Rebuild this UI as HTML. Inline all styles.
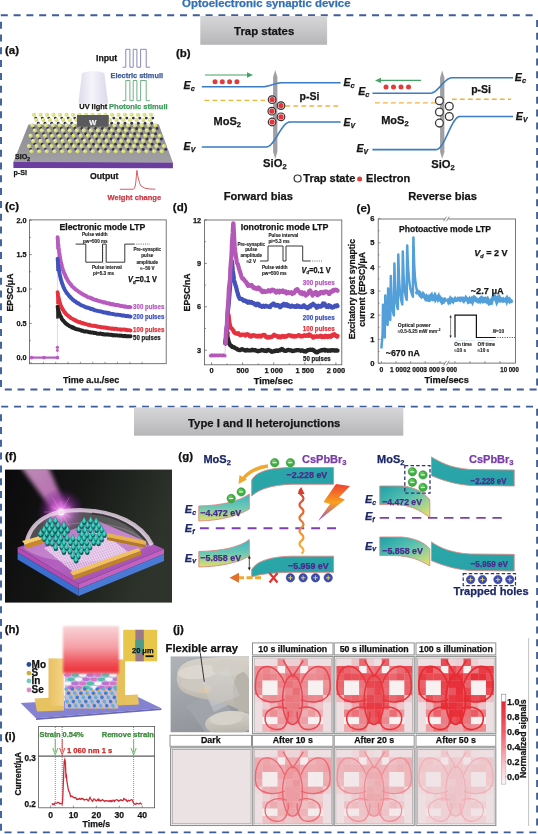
<!DOCTYPE html>
<html><head><meta charset="utf-8"><style>
html,body{margin:0;padding:0;background:#fff;width:538px;height:834px;overflow:hidden}
svg{display:block;font-family:'Liberation Sans', Arial, Helvetica, sans-serif}
</style></head><body>
<svg width="538" height="834" viewBox="0 0 538 834">
<g stroke="#3e5d9b" stroke-width="1.9" fill="none" stroke-dasharray="7.0 5.8">
<line x1="0.8" y1="15.3" x2="538" y2="15.3"/>
<line x1="1" y1="21.7" x2="1" y2="389"/>
<line x1="4.8" y1="389.5" x2="538" y2="389.5"/>
<line x1="537.1" y1="20" x2="537.1" y2="389"/>
<line x1="1.2" y1="406.6" x2="534" y2="406.6"/>
<line x1="1" y1="414.2" x2="1" y2="831"/>
<line x1="4.5" y1="832.4" x2="538" y2="832.4"/>
<line x1="537.1" y1="408.8" x2="537.1" y2="831"/>
</g>
<text x="266.3" y="7.3" font-size="11.4" fill="#3470b2" text-anchor="middle" font-weight="bold" font-style="normal" stroke="#3470b2" stroke-width="0.25" >Optoelectronic synaptic device</text>
<defs><linearGradient id="gh" x1="0" y1="0" x2="0" y2="1"><stop offset="0" stop-color="#d7d7d9"/><stop offset="1" stop-color="#b6b6b8"/></linearGradient></defs>
<rect x="200.3" y="16" width="126.8" height="28.8" fill="url(#gh)" stroke="none" stroke-width="1" />
<text x="264.2" y="34.8" font-size="11.4" fill="#151515" text-anchor="middle" font-weight="bold" font-style="normal" stroke="#151515" stroke-width="0.25" >Trap states</text>
<rect x="134" y="407.4" width="269.3" height="28.3" fill="url(#gh)" stroke="none" stroke-width="1" />
<text x="264.2" y="427.4" font-size="11.3" fill="#151515" text-anchor="middle" font-weight="bold" font-style="normal" stroke="#151515" stroke-width="0.25" >Type I and II heterojunctions</text>
<text x="5" y="54.2" font-size="11.5" fill="#111" text-anchor="start" font-weight="bold" font-style="normal" stroke="#111" stroke-width="0.25" >(a)</text>
<defs><linearGradient id="lamp" x1="0" y1="0" x2="1" y2="0"><stop offset="0" stop-color="#dedbeb"/><stop offset="0.45" stop-color="#f5f4fa"/><stop offset="1" stop-color="#dcd8ea"/></linearGradient><linearGradient id="slabtop" x1="0" y1="0" x2="0" y2="1"><stop offset="0" stop-color="#8c8c90"/><stop offset="1" stop-color="#a0a0a4"/></linearGradient></defs>
<path d="M82,73 Q93,69 104.4,73 L108,103.5 Q93,106 78.4,103.5 Z" stroke="none" stroke-width="1" fill="url(#lamp)" />
<path d="M122.6,67.2 L125.8,67.2 L125.8,49.3 L129.9,49.3 L129.9,67.2 L133.2,67.2 L133.2,49.3 L136.9,49.3 L136.9,67.2 L140.6,67.2 L140.6,49.3 L146.2,49.3 L146.2,67.2 L150,67.2" stroke="#7b79b2" stroke-width="0.9" fill="none" />
<path d="M122.6,100.7 L125.8,100.7 L125.8,80.5 L129.9,80.5 L129.9,100.7 L133.2,100.7 L133.2,80.5 L136.9,80.5 L136.9,100.7 L140.6,100.7 L140.6,80.5 L146.2,80.5 L146.2,100.7 L150,100.7" stroke="#62a677" stroke-width="0.9" fill="none" />
<text x="96" y="60.8" font-size="8.7" fill="#151515" text-anchor="start" font-weight="bold" font-style="normal" stroke="#151515" stroke-width="0.25" >Input</text>
<text x="110.5" y="77.6" font-size="7.4" fill="#3f5c96" text-anchor="start" font-weight="bold" font-style="normal" textLength="52.5" lengthAdjust="spacingAndGlyphs" stroke="#3f5c96" stroke-width="0.25" >Electric stimuli</text>
<text x="79.3" y="108.9" font-size="7.4" fill="#151515" text-anchor="start" font-weight="bold" font-style="normal" textLength="27.9" lengthAdjust="spacingAndGlyphs" stroke="#151515" stroke-width="0.25" >UV light</text>
<text x="109" y="108.9" font-size="7.4" fill="#3e9a5e" text-anchor="start" font-weight="bold" font-style="normal" textLength="58.6" lengthAdjust="spacingAndGlyphs" stroke="#3e9a5e" stroke-width="0.25" >Photonic stimuli</text>
<path d="M13.4,161.8 L172.9,162.2 L172.9,168.2 L13.4,167.9 Z" stroke="none" stroke-width="1" fill="#6b3d9e" />
<path d="M28.5,124.5 L158.7,124.3 L172.9,162.4 L13.4,162.0 Z" stroke="none" stroke-width="1" fill="url(#slabtop)" />
<circle cx="35.8" cy="118.1" r="1.45" fill="#34344e" stroke="none" stroke-width="1" />
<circle cx="42.3" cy="118.1" r="1.45" fill="#34344e" stroke="none" stroke-width="1" />
<circle cx="48.8" cy="118.1" r="1.45" fill="#34344e" stroke="none" stroke-width="1" />
<circle cx="55.3" cy="118.1" r="1.45" fill="#34344e" stroke="none" stroke-width="1" />
<circle cx="61.8" cy="118.1" r="1.45" fill="#34344e" stroke="none" stroke-width="1" />
<circle cx="68.3" cy="118.1" r="1.45" fill="#34344e" stroke="none" stroke-width="1" />
<circle cx="74.8" cy="118.1" r="1.45" fill="#34344e" stroke="none" stroke-width="1" />
<circle cx="81.3" cy="118.1" r="1.45" fill="#34344e" stroke="none" stroke-width="1" />
<circle cx="87.8" cy="118.1" r="1.45" fill="#34344e" stroke="none" stroke-width="1" />
<circle cx="94.3" cy="118.1" r="1.45" fill="#34344e" stroke="none" stroke-width="1" />
<circle cx="100.8" cy="118.1" r="1.45" fill="#34344e" stroke="none" stroke-width="1" />
<circle cx="107.3" cy="118.1" r="1.45" fill="#34344e" stroke="none" stroke-width="1" />
<circle cx="113.8" cy="118.1" r="1.45" fill="#34344e" stroke="none" stroke-width="1" />
<circle cx="120.3" cy="118.1" r="1.45" fill="#34344e" stroke="none" stroke-width="1" />
<circle cx="126.8" cy="118.1" r="1.45" fill="#34344e" stroke="none" stroke-width="1" />
<circle cx="133.3" cy="118.1" r="1.45" fill="#34344e" stroke="none" stroke-width="1" />
<circle cx="139.8" cy="118.1" r="1.45" fill="#34344e" stroke="none" stroke-width="1" />
<circle cx="146.3" cy="118.1" r="1.45" fill="#34344e" stroke="none" stroke-width="1" />
<circle cx="152.8" cy="118.1" r="1.45" fill="#34344e" stroke="none" stroke-width="1" />
<circle cx="34.0" cy="114.8" r="2.05" fill="#d6da74" stroke="none" stroke-width="1" />
<circle cx="33.5" cy="114.3" r="0.9" fill="#eef0b0" stroke="none" stroke-width="1" />
<circle cx="40.5" cy="114.8" r="2.05" fill="#d6da74" stroke="none" stroke-width="1" />
<circle cx="40.0" cy="114.3" r="0.9" fill="#eef0b0" stroke="none" stroke-width="1" />
<circle cx="47.0" cy="114.8" r="2.05" fill="#d6da74" stroke="none" stroke-width="1" />
<circle cx="46.5" cy="114.3" r="0.9" fill="#eef0b0" stroke="none" stroke-width="1" />
<circle cx="53.5" cy="114.8" r="2.05" fill="#d6da74" stroke="none" stroke-width="1" />
<circle cx="53.0" cy="114.3" r="0.9" fill="#eef0b0" stroke="none" stroke-width="1" />
<circle cx="60.0" cy="114.8" r="2.05" fill="#d6da74" stroke="none" stroke-width="1" />
<circle cx="59.5" cy="114.3" r="0.9" fill="#eef0b0" stroke="none" stroke-width="1" />
<circle cx="66.5" cy="114.8" r="2.05" fill="#d6da74" stroke="none" stroke-width="1" />
<circle cx="66.0" cy="114.3" r="0.9" fill="#eef0b0" stroke="none" stroke-width="1" />
<circle cx="73.0" cy="114.8" r="2.05" fill="#d6da74" stroke="none" stroke-width="1" />
<circle cx="72.5" cy="114.3" r="0.9" fill="#eef0b0" stroke="none" stroke-width="1" />
<circle cx="79.5" cy="114.8" r="2.05" fill="#d6da74" stroke="none" stroke-width="1" />
<circle cx="79.0" cy="114.3" r="0.9" fill="#eef0b0" stroke="none" stroke-width="1" />
<circle cx="86.0" cy="114.8" r="2.05" fill="#d6da74" stroke="none" stroke-width="1" />
<circle cx="85.5" cy="114.3" r="0.9" fill="#eef0b0" stroke="none" stroke-width="1" />
<circle cx="92.5" cy="114.8" r="2.05" fill="#d6da74" stroke="none" stroke-width="1" />
<circle cx="92.0" cy="114.3" r="0.9" fill="#eef0b0" stroke="none" stroke-width="1" />
<circle cx="99.0" cy="114.8" r="2.05" fill="#d6da74" stroke="none" stroke-width="1" />
<circle cx="98.5" cy="114.3" r="0.9" fill="#eef0b0" stroke="none" stroke-width="1" />
<circle cx="105.5" cy="114.8" r="2.05" fill="#d6da74" stroke="none" stroke-width="1" />
<circle cx="105.0" cy="114.3" r="0.9" fill="#eef0b0" stroke="none" stroke-width="1" />
<circle cx="112.0" cy="114.8" r="2.05" fill="#d6da74" stroke="none" stroke-width="1" />
<circle cx="111.5" cy="114.3" r="0.9" fill="#eef0b0" stroke="none" stroke-width="1" />
<circle cx="118.5" cy="114.8" r="2.05" fill="#d6da74" stroke="none" stroke-width="1" />
<circle cx="118.0" cy="114.3" r="0.9" fill="#eef0b0" stroke="none" stroke-width="1" />
<circle cx="125.0" cy="114.8" r="2.05" fill="#d6da74" stroke="none" stroke-width="1" />
<circle cx="124.5" cy="114.3" r="0.9" fill="#eef0b0" stroke="none" stroke-width="1" />
<circle cx="131.5" cy="114.8" r="2.05" fill="#d6da74" stroke="none" stroke-width="1" />
<circle cx="131.0" cy="114.3" r="0.9" fill="#eef0b0" stroke="none" stroke-width="1" />
<circle cx="138.0" cy="114.8" r="2.05" fill="#d6da74" stroke="none" stroke-width="1" />
<circle cx="137.5" cy="114.3" r="0.9" fill="#eef0b0" stroke="none" stroke-width="1" />
<circle cx="144.5" cy="114.8" r="2.05" fill="#d6da74" stroke="none" stroke-width="1" />
<circle cx="144.0" cy="114.3" r="0.9" fill="#eef0b0" stroke="none" stroke-width="1" />
<circle cx="151.0" cy="114.8" r="2.05" fill="#d6da74" stroke="none" stroke-width="1" />
<circle cx="150.5" cy="114.3" r="0.9" fill="#eef0b0" stroke="none" stroke-width="1" />
<circle cx="38.3" cy="123.3" r="1.45" fill="#34344e" stroke="none" stroke-width="1" />
<circle cx="45.0" cy="123.3" r="1.45" fill="#34344e" stroke="none" stroke-width="1" />
<circle cx="51.7" cy="123.3" r="1.45" fill="#34344e" stroke="none" stroke-width="1" />
<circle cx="58.3" cy="123.3" r="1.45" fill="#34344e" stroke="none" stroke-width="1" />
<circle cx="65.0" cy="123.3" r="1.45" fill="#34344e" stroke="none" stroke-width="1" />
<circle cx="71.7" cy="123.3" r="1.45" fill="#34344e" stroke="none" stroke-width="1" />
<circle cx="78.3" cy="123.3" r="1.45" fill="#34344e" stroke="none" stroke-width="1" />
<circle cx="85.0" cy="123.3" r="1.45" fill="#34344e" stroke="none" stroke-width="1" />
<circle cx="91.7" cy="123.3" r="1.45" fill="#34344e" stroke="none" stroke-width="1" />
<circle cx="98.3" cy="123.3" r="1.45" fill="#34344e" stroke="none" stroke-width="1" />
<circle cx="105.0" cy="123.3" r="1.45" fill="#34344e" stroke="none" stroke-width="1" />
<circle cx="111.7" cy="123.3" r="1.45" fill="#34344e" stroke="none" stroke-width="1" />
<circle cx="118.3" cy="123.3" r="1.45" fill="#34344e" stroke="none" stroke-width="1" />
<circle cx="125.0" cy="123.3" r="1.45" fill="#34344e" stroke="none" stroke-width="1" />
<circle cx="131.7" cy="123.3" r="1.45" fill="#34344e" stroke="none" stroke-width="1" />
<circle cx="138.3" cy="123.3" r="1.45" fill="#34344e" stroke="none" stroke-width="1" />
<circle cx="145.0" cy="123.3" r="1.45" fill="#34344e" stroke="none" stroke-width="1" />
<circle cx="151.7" cy="123.3" r="1.45" fill="#34344e" stroke="none" stroke-width="1" />
<circle cx="36.5" cy="120.0" r="2.05" fill="#d6da74" stroke="none" stroke-width="1" />
<circle cx="36.0" cy="119.5" r="0.9" fill="#eef0b0" stroke="none" stroke-width="1" />
<circle cx="43.2" cy="120.0" r="2.05" fill="#d6da74" stroke="none" stroke-width="1" />
<circle cx="42.7" cy="119.5" r="0.9" fill="#eef0b0" stroke="none" stroke-width="1" />
<circle cx="49.9" cy="120.0" r="2.05" fill="#d6da74" stroke="none" stroke-width="1" />
<circle cx="49.4" cy="119.5" r="0.9" fill="#eef0b0" stroke="none" stroke-width="1" />
<circle cx="56.5" cy="120.0" r="2.05" fill="#d6da74" stroke="none" stroke-width="1" />
<circle cx="56.0" cy="119.5" r="0.9" fill="#eef0b0" stroke="none" stroke-width="1" />
<circle cx="63.2" cy="120.0" r="2.05" fill="#d6da74" stroke="none" stroke-width="1" />
<circle cx="62.7" cy="119.5" r="0.9" fill="#eef0b0" stroke="none" stroke-width="1" />
<circle cx="69.9" cy="120.0" r="2.05" fill="#d6da74" stroke="none" stroke-width="1" />
<circle cx="69.4" cy="119.5" r="0.9" fill="#eef0b0" stroke="none" stroke-width="1" />
<circle cx="76.5" cy="120.0" r="2.05" fill="#d6da74" stroke="none" stroke-width="1" />
<circle cx="76.0" cy="119.5" r="0.9" fill="#eef0b0" stroke="none" stroke-width="1" />
<circle cx="83.2" cy="120.0" r="2.05" fill="#d6da74" stroke="none" stroke-width="1" />
<circle cx="82.7" cy="119.5" r="0.9" fill="#eef0b0" stroke="none" stroke-width="1" />
<circle cx="89.9" cy="120.0" r="2.05" fill="#d6da74" stroke="none" stroke-width="1" />
<circle cx="89.4" cy="119.5" r="0.9" fill="#eef0b0" stroke="none" stroke-width="1" />
<circle cx="96.5" cy="120.0" r="2.05" fill="#d6da74" stroke="none" stroke-width="1" />
<circle cx="96.0" cy="119.5" r="0.9" fill="#eef0b0" stroke="none" stroke-width="1" />
<circle cx="103.2" cy="120.0" r="2.05" fill="#d6da74" stroke="none" stroke-width="1" />
<circle cx="102.7" cy="119.5" r="0.9" fill="#eef0b0" stroke="none" stroke-width="1" />
<circle cx="109.9" cy="120.0" r="2.05" fill="#d6da74" stroke="none" stroke-width="1" />
<circle cx="109.4" cy="119.5" r="0.9" fill="#eef0b0" stroke="none" stroke-width="1" />
<circle cx="116.5" cy="120.0" r="2.05" fill="#d6da74" stroke="none" stroke-width="1" />
<circle cx="116.0" cy="119.5" r="0.9" fill="#eef0b0" stroke="none" stroke-width="1" />
<circle cx="123.2" cy="120.0" r="2.05" fill="#d6da74" stroke="none" stroke-width="1" />
<circle cx="122.7" cy="119.5" r="0.9" fill="#eef0b0" stroke="none" stroke-width="1" />
<circle cx="129.9" cy="120.0" r="2.05" fill="#d6da74" stroke="none" stroke-width="1" />
<circle cx="129.4" cy="119.5" r="0.9" fill="#eef0b0" stroke="none" stroke-width="1" />
<circle cx="136.5" cy="120.0" r="2.05" fill="#d6da74" stroke="none" stroke-width="1" />
<circle cx="136.0" cy="119.5" r="0.9" fill="#eef0b0" stroke="none" stroke-width="1" />
<circle cx="143.2" cy="120.0" r="2.05" fill="#d6da74" stroke="none" stroke-width="1" />
<circle cx="142.7" cy="119.5" r="0.9" fill="#eef0b0" stroke="none" stroke-width="1" />
<circle cx="149.9" cy="120.0" r="2.05" fill="#d6da74" stroke="none" stroke-width="1" />
<circle cx="149.4" cy="119.5" r="0.9" fill="#eef0b0" stroke="none" stroke-width="1" />
<circle cx="34.1" cy="128.5" r="1.45" fill="#34344e" stroke="none" stroke-width="1" />
<circle cx="40.9" cy="128.5" r="1.45" fill="#34344e" stroke="none" stroke-width="1" />
<circle cx="47.8" cy="128.5" r="1.45" fill="#34344e" stroke="none" stroke-width="1" />
<circle cx="54.6" cy="128.5" r="1.45" fill="#34344e" stroke="none" stroke-width="1" />
<circle cx="61.4" cy="128.5" r="1.45" fill="#34344e" stroke="none" stroke-width="1" />
<circle cx="68.3" cy="128.5" r="1.45" fill="#34344e" stroke="none" stroke-width="1" />
<circle cx="75.1" cy="128.5" r="1.45" fill="#34344e" stroke="none" stroke-width="1" />
<circle cx="81.9" cy="128.5" r="1.45" fill="#34344e" stroke="none" stroke-width="1" />
<circle cx="88.8" cy="128.5" r="1.45" fill="#34344e" stroke="none" stroke-width="1" />
<circle cx="95.6" cy="128.5" r="1.45" fill="#34344e" stroke="none" stroke-width="1" />
<circle cx="102.4" cy="128.5" r="1.45" fill="#34344e" stroke="none" stroke-width="1" />
<circle cx="109.3" cy="128.5" r="1.45" fill="#34344e" stroke="none" stroke-width="1" />
<circle cx="116.1" cy="128.5" r="1.45" fill="#34344e" stroke="none" stroke-width="1" />
<circle cx="122.9" cy="128.5" r="1.45" fill="#34344e" stroke="none" stroke-width="1" />
<circle cx="129.8" cy="128.5" r="1.45" fill="#34344e" stroke="none" stroke-width="1" />
<circle cx="136.6" cy="128.5" r="1.45" fill="#34344e" stroke="none" stroke-width="1" />
<circle cx="143.4" cy="128.5" r="1.45" fill="#34344e" stroke="none" stroke-width="1" />
<circle cx="150.3" cy="128.5" r="1.45" fill="#34344e" stroke="none" stroke-width="1" />
<circle cx="157.1" cy="128.5" r="1.45" fill="#34344e" stroke="none" stroke-width="1" />
<circle cx="32.3" cy="125.2" r="2.05" fill="#d6da74" stroke="none" stroke-width="1" />
<circle cx="31.8" cy="124.7" r="0.9" fill="#eef0b0" stroke="none" stroke-width="1" />
<circle cx="39.1" cy="125.2" r="2.05" fill="#d6da74" stroke="none" stroke-width="1" />
<circle cx="38.6" cy="124.7" r="0.9" fill="#eef0b0" stroke="none" stroke-width="1" />
<circle cx="46.0" cy="125.2" r="2.05" fill="#d6da74" stroke="none" stroke-width="1" />
<circle cx="45.5" cy="124.7" r="0.9" fill="#eef0b0" stroke="none" stroke-width="1" />
<circle cx="52.8" cy="125.2" r="2.05" fill="#d6da74" stroke="none" stroke-width="1" />
<circle cx="52.3" cy="124.7" r="0.9" fill="#eef0b0" stroke="none" stroke-width="1" />
<circle cx="59.6" cy="125.2" r="2.05" fill="#d6da74" stroke="none" stroke-width="1" />
<circle cx="59.1" cy="124.7" r="0.9" fill="#eef0b0" stroke="none" stroke-width="1" />
<circle cx="66.5" cy="125.2" r="2.05" fill="#d6da74" stroke="none" stroke-width="1" />
<circle cx="66.0" cy="124.7" r="0.9" fill="#eef0b0" stroke="none" stroke-width="1" />
<circle cx="73.3" cy="125.2" r="2.05" fill="#d6da74" stroke="none" stroke-width="1" />
<circle cx="72.8" cy="124.7" r="0.9" fill="#eef0b0" stroke="none" stroke-width="1" />
<circle cx="80.1" cy="125.2" r="2.05" fill="#d6da74" stroke="none" stroke-width="1" />
<circle cx="79.6" cy="124.7" r="0.9" fill="#eef0b0" stroke="none" stroke-width="1" />
<circle cx="87.0" cy="125.2" r="2.05" fill="#d6da74" stroke="none" stroke-width="1" />
<circle cx="86.5" cy="124.7" r="0.9" fill="#eef0b0" stroke="none" stroke-width="1" />
<circle cx="93.8" cy="125.2" r="2.05" fill="#d6da74" stroke="none" stroke-width="1" />
<circle cx="93.3" cy="124.7" r="0.9" fill="#eef0b0" stroke="none" stroke-width="1" />
<circle cx="100.6" cy="125.2" r="2.05" fill="#d6da74" stroke="none" stroke-width="1" />
<circle cx="100.1" cy="124.7" r="0.9" fill="#eef0b0" stroke="none" stroke-width="1" />
<circle cx="107.5" cy="125.2" r="2.05" fill="#d6da74" stroke="none" stroke-width="1" />
<circle cx="107.0" cy="124.7" r="0.9" fill="#eef0b0" stroke="none" stroke-width="1" />
<circle cx="114.3" cy="125.2" r="2.05" fill="#d6da74" stroke="none" stroke-width="1" />
<circle cx="113.8" cy="124.7" r="0.9" fill="#eef0b0" stroke="none" stroke-width="1" />
<circle cx="121.1" cy="125.2" r="2.05" fill="#d6da74" stroke="none" stroke-width="1" />
<circle cx="120.6" cy="124.7" r="0.9" fill="#eef0b0" stroke="none" stroke-width="1" />
<circle cx="128.0" cy="125.2" r="2.05" fill="#d6da74" stroke="none" stroke-width="1" />
<circle cx="127.5" cy="124.7" r="0.9" fill="#eef0b0" stroke="none" stroke-width="1" />
<circle cx="134.8" cy="125.2" r="2.05" fill="#d6da74" stroke="none" stroke-width="1" />
<circle cx="134.3" cy="124.7" r="0.9" fill="#eef0b0" stroke="none" stroke-width="1" />
<circle cx="141.6" cy="125.2" r="2.05" fill="#d6da74" stroke="none" stroke-width="1" />
<circle cx="141.1" cy="124.7" r="0.9" fill="#eef0b0" stroke="none" stroke-width="1" />
<circle cx="148.5" cy="125.2" r="2.05" fill="#d6da74" stroke="none" stroke-width="1" />
<circle cx="148.0" cy="124.7" r="0.9" fill="#eef0b0" stroke="none" stroke-width="1" />
<circle cx="155.3" cy="125.2" r="2.05" fill="#d6da74" stroke="none" stroke-width="1" />
<circle cx="154.8" cy="124.7" r="0.9" fill="#eef0b0" stroke="none" stroke-width="1" />
<circle cx="36.6" cy="133.7" r="1.45" fill="#34344e" stroke="none" stroke-width="1" />
<circle cx="43.6" cy="133.7" r="1.45" fill="#34344e" stroke="none" stroke-width="1" />
<circle cx="50.6" cy="133.7" r="1.45" fill="#34344e" stroke="none" stroke-width="1" />
<circle cx="57.6" cy="133.7" r="1.45" fill="#34344e" stroke="none" stroke-width="1" />
<circle cx="64.6" cy="133.7" r="1.45" fill="#34344e" stroke="none" stroke-width="1" />
<circle cx="71.6" cy="133.7" r="1.45" fill="#34344e" stroke="none" stroke-width="1" />
<circle cx="78.6" cy="133.7" r="1.45" fill="#34344e" stroke="none" stroke-width="1" />
<circle cx="85.6" cy="133.7" r="1.45" fill="#34344e" stroke="none" stroke-width="1" />
<circle cx="92.6" cy="133.7" r="1.45" fill="#34344e" stroke="none" stroke-width="1" />
<circle cx="99.6" cy="133.7" r="1.45" fill="#34344e" stroke="none" stroke-width="1" />
<circle cx="106.6" cy="133.7" r="1.45" fill="#34344e" stroke="none" stroke-width="1" />
<circle cx="113.6" cy="133.7" r="1.45" fill="#34344e" stroke="none" stroke-width="1" />
<circle cx="120.6" cy="133.7" r="1.45" fill="#34344e" stroke="none" stroke-width="1" />
<circle cx="127.6" cy="133.7" r="1.45" fill="#34344e" stroke="none" stroke-width="1" />
<circle cx="134.6" cy="133.7" r="1.45" fill="#34344e" stroke="none" stroke-width="1" />
<circle cx="141.6" cy="133.7" r="1.45" fill="#34344e" stroke="none" stroke-width="1" />
<circle cx="148.6" cy="133.7" r="1.45" fill="#34344e" stroke="none" stroke-width="1" />
<circle cx="155.6" cy="133.7" r="1.45" fill="#34344e" stroke="none" stroke-width="1" />
<circle cx="34.8" cy="130.4" r="2.05" fill="#d6da74" stroke="none" stroke-width="1" />
<circle cx="34.3" cy="129.9" r="0.9" fill="#eef0b0" stroke="none" stroke-width="1" />
<circle cx="41.8" cy="130.4" r="2.05" fill="#d6da74" stroke="none" stroke-width="1" />
<circle cx="41.3" cy="129.9" r="0.9" fill="#eef0b0" stroke="none" stroke-width="1" />
<circle cx="48.8" cy="130.4" r="2.05" fill="#d6da74" stroke="none" stroke-width="1" />
<circle cx="48.3" cy="129.9" r="0.9" fill="#eef0b0" stroke="none" stroke-width="1" />
<circle cx="55.8" cy="130.4" r="2.05" fill="#d6da74" stroke="none" stroke-width="1" />
<circle cx="55.3" cy="129.9" r="0.9" fill="#eef0b0" stroke="none" stroke-width="1" />
<circle cx="62.8" cy="130.4" r="2.05" fill="#d6da74" stroke="none" stroke-width="1" />
<circle cx="62.3" cy="129.9" r="0.9" fill="#eef0b0" stroke="none" stroke-width="1" />
<circle cx="69.8" cy="130.4" r="2.05" fill="#d6da74" stroke="none" stroke-width="1" />
<circle cx="69.3" cy="129.9" r="0.9" fill="#eef0b0" stroke="none" stroke-width="1" />
<circle cx="76.8" cy="130.4" r="2.05" fill="#d6da74" stroke="none" stroke-width="1" />
<circle cx="76.3" cy="129.9" r="0.9" fill="#eef0b0" stroke="none" stroke-width="1" />
<circle cx="83.8" cy="130.4" r="2.05" fill="#d6da74" stroke="none" stroke-width="1" />
<circle cx="83.3" cy="129.9" r="0.9" fill="#eef0b0" stroke="none" stroke-width="1" />
<circle cx="90.8" cy="130.4" r="2.05" fill="#d6da74" stroke="none" stroke-width="1" />
<circle cx="90.3" cy="129.9" r="0.9" fill="#eef0b0" stroke="none" stroke-width="1" />
<circle cx="97.8" cy="130.4" r="2.05" fill="#d6da74" stroke="none" stroke-width="1" />
<circle cx="97.3" cy="129.9" r="0.9" fill="#eef0b0" stroke="none" stroke-width="1" />
<circle cx="104.8" cy="130.4" r="2.05" fill="#d6da74" stroke="none" stroke-width="1" />
<circle cx="104.3" cy="129.9" r="0.9" fill="#eef0b0" stroke="none" stroke-width="1" />
<circle cx="111.8" cy="130.4" r="2.05" fill="#d6da74" stroke="none" stroke-width="1" />
<circle cx="111.3" cy="129.9" r="0.9" fill="#eef0b0" stroke="none" stroke-width="1" />
<circle cx="118.8" cy="130.4" r="2.05" fill="#d6da74" stroke="none" stroke-width="1" />
<circle cx="118.3" cy="129.9" r="0.9" fill="#eef0b0" stroke="none" stroke-width="1" />
<circle cx="125.8" cy="130.4" r="2.05" fill="#d6da74" stroke="none" stroke-width="1" />
<circle cx="125.3" cy="129.9" r="0.9" fill="#eef0b0" stroke="none" stroke-width="1" />
<circle cx="132.8" cy="130.4" r="2.05" fill="#d6da74" stroke="none" stroke-width="1" />
<circle cx="132.3" cy="129.9" r="0.9" fill="#eef0b0" stroke="none" stroke-width="1" />
<circle cx="139.8" cy="130.4" r="2.05" fill="#d6da74" stroke="none" stroke-width="1" />
<circle cx="139.3" cy="129.9" r="0.9" fill="#eef0b0" stroke="none" stroke-width="1" />
<circle cx="146.8" cy="130.4" r="2.05" fill="#d6da74" stroke="none" stroke-width="1" />
<circle cx="146.3" cy="129.9" r="0.9" fill="#eef0b0" stroke="none" stroke-width="1" />
<circle cx="153.8" cy="130.4" r="2.05" fill="#d6da74" stroke="none" stroke-width="1" />
<circle cx="153.3" cy="129.9" r="0.9" fill="#eef0b0" stroke="none" stroke-width="1" />
<circle cx="32.4" cy="139.0" r="1.45" fill="#34344e" stroke="none" stroke-width="1" />
<circle cx="39.5" cy="139.0" r="1.45" fill="#34344e" stroke="none" stroke-width="1" />
<circle cx="46.7" cy="139.0" r="1.45" fill="#34344e" stroke="none" stroke-width="1" />
<circle cx="53.9" cy="139.0" r="1.45" fill="#34344e" stroke="none" stroke-width="1" />
<circle cx="61.0" cy="139.0" r="1.45" fill="#34344e" stroke="none" stroke-width="1" />
<circle cx="68.2" cy="139.0" r="1.45" fill="#34344e" stroke="none" stroke-width="1" />
<circle cx="75.4" cy="139.0" r="1.45" fill="#34344e" stroke="none" stroke-width="1" />
<circle cx="82.5" cy="139.0" r="1.45" fill="#34344e" stroke="none" stroke-width="1" />
<circle cx="89.7" cy="139.0" r="1.45" fill="#34344e" stroke="none" stroke-width="1" />
<circle cx="96.9" cy="139.0" r="1.45" fill="#34344e" stroke="none" stroke-width="1" />
<circle cx="104.0" cy="139.0" r="1.45" fill="#34344e" stroke="none" stroke-width="1" />
<circle cx="111.2" cy="139.0" r="1.45" fill="#34344e" stroke="none" stroke-width="1" />
<circle cx="118.4" cy="139.0" r="1.45" fill="#34344e" stroke="none" stroke-width="1" />
<circle cx="125.5" cy="139.0" r="1.45" fill="#34344e" stroke="none" stroke-width="1" />
<circle cx="132.7" cy="139.0" r="1.45" fill="#34344e" stroke="none" stroke-width="1" />
<circle cx="139.9" cy="139.0" r="1.45" fill="#34344e" stroke="none" stroke-width="1" />
<circle cx="147.0" cy="139.0" r="1.45" fill="#34344e" stroke="none" stroke-width="1" />
<circle cx="154.2" cy="139.0" r="1.45" fill="#34344e" stroke="none" stroke-width="1" />
<circle cx="161.4" cy="139.0" r="1.45" fill="#34344e" stroke="none" stroke-width="1" />
<circle cx="30.6" cy="135.7" r="2.05" fill="#d6da74" stroke="none" stroke-width="1" />
<circle cx="30.1" cy="135.2" r="0.9" fill="#eef0b0" stroke="none" stroke-width="1" />
<circle cx="37.7" cy="135.7" r="2.05" fill="#d6da74" stroke="none" stroke-width="1" />
<circle cx="37.2" cy="135.2" r="0.9" fill="#eef0b0" stroke="none" stroke-width="1" />
<circle cx="44.9" cy="135.7" r="2.05" fill="#d6da74" stroke="none" stroke-width="1" />
<circle cx="44.4" cy="135.2" r="0.9" fill="#eef0b0" stroke="none" stroke-width="1" />
<circle cx="52.1" cy="135.7" r="2.05" fill="#d6da74" stroke="none" stroke-width="1" />
<circle cx="51.6" cy="135.2" r="0.9" fill="#eef0b0" stroke="none" stroke-width="1" />
<circle cx="59.2" cy="135.7" r="2.05" fill="#d6da74" stroke="none" stroke-width="1" />
<circle cx="58.7" cy="135.2" r="0.9" fill="#eef0b0" stroke="none" stroke-width="1" />
<circle cx="66.4" cy="135.7" r="2.05" fill="#d6da74" stroke="none" stroke-width="1" />
<circle cx="65.9" cy="135.2" r="0.9" fill="#eef0b0" stroke="none" stroke-width="1" />
<circle cx="73.6" cy="135.7" r="2.05" fill="#d6da74" stroke="none" stroke-width="1" />
<circle cx="73.1" cy="135.2" r="0.9" fill="#eef0b0" stroke="none" stroke-width="1" />
<circle cx="80.7" cy="135.7" r="2.05" fill="#d6da74" stroke="none" stroke-width="1" />
<circle cx="80.2" cy="135.2" r="0.9" fill="#eef0b0" stroke="none" stroke-width="1" />
<circle cx="87.9" cy="135.7" r="2.05" fill="#d6da74" stroke="none" stroke-width="1" />
<circle cx="87.4" cy="135.2" r="0.9" fill="#eef0b0" stroke="none" stroke-width="1" />
<circle cx="95.1" cy="135.7" r="2.05" fill="#d6da74" stroke="none" stroke-width="1" />
<circle cx="94.6" cy="135.2" r="0.9" fill="#eef0b0" stroke="none" stroke-width="1" />
<circle cx="102.2" cy="135.7" r="2.05" fill="#d6da74" stroke="none" stroke-width="1" />
<circle cx="101.7" cy="135.2" r="0.9" fill="#eef0b0" stroke="none" stroke-width="1" />
<circle cx="109.4" cy="135.7" r="2.05" fill="#d6da74" stroke="none" stroke-width="1" />
<circle cx="108.9" cy="135.2" r="0.9" fill="#eef0b0" stroke="none" stroke-width="1" />
<circle cx="116.6" cy="135.7" r="2.05" fill="#d6da74" stroke="none" stroke-width="1" />
<circle cx="116.1" cy="135.2" r="0.9" fill="#eef0b0" stroke="none" stroke-width="1" />
<circle cx="123.7" cy="135.7" r="2.05" fill="#d6da74" stroke="none" stroke-width="1" />
<circle cx="123.2" cy="135.2" r="0.9" fill="#eef0b0" stroke="none" stroke-width="1" />
<circle cx="130.9" cy="135.7" r="2.05" fill="#d6da74" stroke="none" stroke-width="1" />
<circle cx="130.4" cy="135.2" r="0.9" fill="#eef0b0" stroke="none" stroke-width="1" />
<circle cx="138.1" cy="135.7" r="2.05" fill="#d6da74" stroke="none" stroke-width="1" />
<circle cx="137.6" cy="135.2" r="0.9" fill="#eef0b0" stroke="none" stroke-width="1" />
<circle cx="145.2" cy="135.7" r="2.05" fill="#d6da74" stroke="none" stroke-width="1" />
<circle cx="144.7" cy="135.2" r="0.9" fill="#eef0b0" stroke="none" stroke-width="1" />
<circle cx="152.4" cy="135.7" r="2.05" fill="#d6da74" stroke="none" stroke-width="1" />
<circle cx="151.9" cy="135.2" r="0.9" fill="#eef0b0" stroke="none" stroke-width="1" />
<circle cx="159.6" cy="135.7" r="2.05" fill="#d6da74" stroke="none" stroke-width="1" />
<circle cx="159.1" cy="135.2" r="0.9" fill="#eef0b0" stroke="none" stroke-width="1" />
<circle cx="34.9" cy="144.2" r="1.45" fill="#34344e" stroke="none" stroke-width="1" />
<circle cx="42.2" cy="144.2" r="1.45" fill="#34344e" stroke="none" stroke-width="1" />
<circle cx="49.6" cy="144.2" r="1.45" fill="#34344e" stroke="none" stroke-width="1" />
<circle cx="56.9" cy="144.2" r="1.45" fill="#34344e" stroke="none" stroke-width="1" />
<circle cx="64.2" cy="144.2" r="1.45" fill="#34344e" stroke="none" stroke-width="1" />
<circle cx="71.6" cy="144.2" r="1.45" fill="#34344e" stroke="none" stroke-width="1" />
<circle cx="78.9" cy="144.2" r="1.45" fill="#34344e" stroke="none" stroke-width="1" />
<circle cx="86.2" cy="144.2" r="1.45" fill="#34344e" stroke="none" stroke-width="1" />
<circle cx="93.6" cy="144.2" r="1.45" fill="#34344e" stroke="none" stroke-width="1" />
<circle cx="100.9" cy="144.2" r="1.45" fill="#34344e" stroke="none" stroke-width="1" />
<circle cx="108.2" cy="144.2" r="1.45" fill="#34344e" stroke="none" stroke-width="1" />
<circle cx="115.6" cy="144.2" r="1.45" fill="#34344e" stroke="none" stroke-width="1" />
<circle cx="122.9" cy="144.2" r="1.45" fill="#34344e" stroke="none" stroke-width="1" />
<circle cx="130.2" cy="144.2" r="1.45" fill="#34344e" stroke="none" stroke-width="1" />
<circle cx="137.6" cy="144.2" r="1.45" fill="#34344e" stroke="none" stroke-width="1" />
<circle cx="144.9" cy="144.2" r="1.45" fill="#34344e" stroke="none" stroke-width="1" />
<circle cx="152.2" cy="144.2" r="1.45" fill="#34344e" stroke="none" stroke-width="1" />
<circle cx="159.6" cy="144.2" r="1.45" fill="#34344e" stroke="none" stroke-width="1" />
<circle cx="33.1" cy="140.9" r="2.05" fill="#d6da74" stroke="none" stroke-width="1" />
<circle cx="32.6" cy="140.4" r="0.9" fill="#eef0b0" stroke="none" stroke-width="1" />
<circle cx="40.4" cy="140.9" r="2.05" fill="#d6da74" stroke="none" stroke-width="1" />
<circle cx="39.9" cy="140.4" r="0.9" fill="#eef0b0" stroke="none" stroke-width="1" />
<circle cx="47.8" cy="140.9" r="2.05" fill="#d6da74" stroke="none" stroke-width="1" />
<circle cx="47.3" cy="140.4" r="0.9" fill="#eef0b0" stroke="none" stroke-width="1" />
<circle cx="55.1" cy="140.9" r="2.05" fill="#d6da74" stroke="none" stroke-width="1" />
<circle cx="54.6" cy="140.4" r="0.9" fill="#eef0b0" stroke="none" stroke-width="1" />
<circle cx="62.4" cy="140.9" r="2.05" fill="#d6da74" stroke="none" stroke-width="1" />
<circle cx="61.9" cy="140.4" r="0.9" fill="#eef0b0" stroke="none" stroke-width="1" />
<circle cx="69.8" cy="140.9" r="2.05" fill="#d6da74" stroke="none" stroke-width="1" />
<circle cx="69.3" cy="140.4" r="0.9" fill="#eef0b0" stroke="none" stroke-width="1" />
<circle cx="77.1" cy="140.9" r="2.05" fill="#d6da74" stroke="none" stroke-width="1" />
<circle cx="76.6" cy="140.4" r="0.9" fill="#eef0b0" stroke="none" stroke-width="1" />
<circle cx="84.4" cy="140.9" r="2.05" fill="#d6da74" stroke="none" stroke-width="1" />
<circle cx="83.9" cy="140.4" r="0.9" fill="#eef0b0" stroke="none" stroke-width="1" />
<circle cx="91.8" cy="140.9" r="2.05" fill="#d6da74" stroke="none" stroke-width="1" />
<circle cx="91.3" cy="140.4" r="0.9" fill="#eef0b0" stroke="none" stroke-width="1" />
<circle cx="99.1" cy="140.9" r="2.05" fill="#d6da74" stroke="none" stroke-width="1" />
<circle cx="98.6" cy="140.4" r="0.9" fill="#eef0b0" stroke="none" stroke-width="1" />
<circle cx="106.4" cy="140.9" r="2.05" fill="#d6da74" stroke="none" stroke-width="1" />
<circle cx="105.9" cy="140.4" r="0.9" fill="#eef0b0" stroke="none" stroke-width="1" />
<circle cx="113.8" cy="140.9" r="2.05" fill="#d6da74" stroke="none" stroke-width="1" />
<circle cx="113.3" cy="140.4" r="0.9" fill="#eef0b0" stroke="none" stroke-width="1" />
<circle cx="121.1" cy="140.9" r="2.05" fill="#d6da74" stroke="none" stroke-width="1" />
<circle cx="120.6" cy="140.4" r="0.9" fill="#eef0b0" stroke="none" stroke-width="1" />
<circle cx="128.4" cy="140.9" r="2.05" fill="#d6da74" stroke="none" stroke-width="1" />
<circle cx="127.9" cy="140.4" r="0.9" fill="#eef0b0" stroke="none" stroke-width="1" />
<circle cx="135.8" cy="140.9" r="2.05" fill="#d6da74" stroke="none" stroke-width="1" />
<circle cx="135.3" cy="140.4" r="0.9" fill="#eef0b0" stroke="none" stroke-width="1" />
<circle cx="143.1" cy="140.9" r="2.05" fill="#d6da74" stroke="none" stroke-width="1" />
<circle cx="142.6" cy="140.4" r="0.9" fill="#eef0b0" stroke="none" stroke-width="1" />
<circle cx="150.4" cy="140.9" r="2.05" fill="#d6da74" stroke="none" stroke-width="1" />
<circle cx="149.9" cy="140.4" r="0.9" fill="#eef0b0" stroke="none" stroke-width="1" />
<circle cx="157.8" cy="140.9" r="2.05" fill="#d6da74" stroke="none" stroke-width="1" />
<circle cx="157.3" cy="140.4" r="0.9" fill="#eef0b0" stroke="none" stroke-width="1" />
<circle cx="30.7" cy="149.4" r="1.45" fill="#34344e" stroke="none" stroke-width="1" />
<circle cx="38.2" cy="149.4" r="1.45" fill="#34344e" stroke="none" stroke-width="1" />
<circle cx="45.7" cy="149.4" r="1.45" fill="#34344e" stroke="none" stroke-width="1" />
<circle cx="53.2" cy="149.4" r="1.45" fill="#34344e" stroke="none" stroke-width="1" />
<circle cx="60.7" cy="149.4" r="1.45" fill="#34344e" stroke="none" stroke-width="1" />
<circle cx="68.2" cy="149.4" r="1.45" fill="#34344e" stroke="none" stroke-width="1" />
<circle cx="75.7" cy="149.4" r="1.45" fill="#34344e" stroke="none" stroke-width="1" />
<circle cx="83.2" cy="149.4" r="1.45" fill="#34344e" stroke="none" stroke-width="1" />
<circle cx="90.7" cy="149.4" r="1.45" fill="#34344e" stroke="none" stroke-width="1" />
<circle cx="98.2" cy="149.4" r="1.45" fill="#34344e" stroke="none" stroke-width="1" />
<circle cx="105.7" cy="149.4" r="1.45" fill="#34344e" stroke="none" stroke-width="1" />
<circle cx="113.2" cy="149.4" r="1.45" fill="#34344e" stroke="none" stroke-width="1" />
<circle cx="120.7" cy="149.4" r="1.45" fill="#34344e" stroke="none" stroke-width="1" />
<circle cx="128.2" cy="149.4" r="1.45" fill="#34344e" stroke="none" stroke-width="1" />
<circle cx="135.7" cy="149.4" r="1.45" fill="#34344e" stroke="none" stroke-width="1" />
<circle cx="143.2" cy="149.4" r="1.45" fill="#34344e" stroke="none" stroke-width="1" />
<circle cx="150.7" cy="149.4" r="1.45" fill="#34344e" stroke="none" stroke-width="1" />
<circle cx="158.2" cy="149.4" r="1.45" fill="#34344e" stroke="none" stroke-width="1" />
<circle cx="165.7" cy="149.4" r="1.45" fill="#34344e" stroke="none" stroke-width="1" />
<circle cx="28.9" cy="146.1" r="2.05" fill="#d6da74" stroke="none" stroke-width="1" />
<circle cx="28.4" cy="145.6" r="0.9" fill="#eef0b0" stroke="none" stroke-width="1" />
<circle cx="36.4" cy="146.1" r="2.05" fill="#d6da74" stroke="none" stroke-width="1" />
<circle cx="35.9" cy="145.6" r="0.9" fill="#eef0b0" stroke="none" stroke-width="1" />
<circle cx="43.9" cy="146.1" r="2.05" fill="#d6da74" stroke="none" stroke-width="1" />
<circle cx="43.4" cy="145.6" r="0.9" fill="#eef0b0" stroke="none" stroke-width="1" />
<circle cx="51.4" cy="146.1" r="2.05" fill="#d6da74" stroke="none" stroke-width="1" />
<circle cx="50.9" cy="145.6" r="0.9" fill="#eef0b0" stroke="none" stroke-width="1" />
<circle cx="58.9" cy="146.1" r="2.05" fill="#d6da74" stroke="none" stroke-width="1" />
<circle cx="58.4" cy="145.6" r="0.9" fill="#eef0b0" stroke="none" stroke-width="1" />
<circle cx="66.4" cy="146.1" r="2.05" fill="#d6da74" stroke="none" stroke-width="1" />
<circle cx="65.9" cy="145.6" r="0.9" fill="#eef0b0" stroke="none" stroke-width="1" />
<circle cx="73.9" cy="146.1" r="2.05" fill="#d6da74" stroke="none" stroke-width="1" />
<circle cx="73.4" cy="145.6" r="0.9" fill="#eef0b0" stroke="none" stroke-width="1" />
<circle cx="81.4" cy="146.1" r="2.05" fill="#d6da74" stroke="none" stroke-width="1" />
<circle cx="80.9" cy="145.6" r="0.9" fill="#eef0b0" stroke="none" stroke-width="1" />
<circle cx="88.9" cy="146.1" r="2.05" fill="#d6da74" stroke="none" stroke-width="1" />
<circle cx="88.4" cy="145.6" r="0.9" fill="#eef0b0" stroke="none" stroke-width="1" />
<circle cx="96.4" cy="146.1" r="2.05" fill="#d6da74" stroke="none" stroke-width="1" />
<circle cx="95.9" cy="145.6" r="0.9" fill="#eef0b0" stroke="none" stroke-width="1" />
<circle cx="103.9" cy="146.1" r="2.05" fill="#d6da74" stroke="none" stroke-width="1" />
<circle cx="103.4" cy="145.6" r="0.9" fill="#eef0b0" stroke="none" stroke-width="1" />
<circle cx="111.4" cy="146.1" r="2.05" fill="#d6da74" stroke="none" stroke-width="1" />
<circle cx="110.9" cy="145.6" r="0.9" fill="#eef0b0" stroke="none" stroke-width="1" />
<circle cx="118.9" cy="146.1" r="2.05" fill="#d6da74" stroke="none" stroke-width="1" />
<circle cx="118.4" cy="145.6" r="0.9" fill="#eef0b0" stroke="none" stroke-width="1" />
<circle cx="126.4" cy="146.1" r="2.05" fill="#d6da74" stroke="none" stroke-width="1" />
<circle cx="125.9" cy="145.6" r="0.9" fill="#eef0b0" stroke="none" stroke-width="1" />
<circle cx="133.9" cy="146.1" r="2.05" fill="#d6da74" stroke="none" stroke-width="1" />
<circle cx="133.4" cy="145.6" r="0.9" fill="#eef0b0" stroke="none" stroke-width="1" />
<circle cx="141.4" cy="146.1" r="2.05" fill="#d6da74" stroke="none" stroke-width="1" />
<circle cx="140.9" cy="145.6" r="0.9" fill="#eef0b0" stroke="none" stroke-width="1" />
<circle cx="148.9" cy="146.1" r="2.05" fill="#d6da74" stroke="none" stroke-width="1" />
<circle cx="148.4" cy="145.6" r="0.9" fill="#eef0b0" stroke="none" stroke-width="1" />
<circle cx="156.4" cy="146.1" r="2.05" fill="#d6da74" stroke="none" stroke-width="1" />
<circle cx="155.9" cy="145.6" r="0.9" fill="#eef0b0" stroke="none" stroke-width="1" />
<circle cx="163.9" cy="146.1" r="2.05" fill="#d6da74" stroke="none" stroke-width="1" />
<circle cx="163.4" cy="145.6" r="0.9" fill="#eef0b0" stroke="none" stroke-width="1" />
<circle cx="31.4" cy="151.3" r="2.05" fill="#d6da74" stroke="none" stroke-width="1" />
<circle cx="30.9" cy="150.8" r="0.9" fill="#eef0b0" stroke="none" stroke-width="1" />
<circle cx="39.1" cy="151.3" r="2.05" fill="#d6da74" stroke="none" stroke-width="1" />
<circle cx="38.6" cy="150.8" r="0.9" fill="#eef0b0" stroke="none" stroke-width="1" />
<circle cx="46.7" cy="151.3" r="2.05" fill="#d6da74" stroke="none" stroke-width="1" />
<circle cx="46.2" cy="150.8" r="0.9" fill="#eef0b0" stroke="none" stroke-width="1" />
<circle cx="54.4" cy="151.3" r="2.05" fill="#d6da74" stroke="none" stroke-width="1" />
<circle cx="53.9" cy="150.8" r="0.9" fill="#eef0b0" stroke="none" stroke-width="1" />
<circle cx="62.1" cy="151.3" r="2.05" fill="#d6da74" stroke="none" stroke-width="1" />
<circle cx="61.6" cy="150.8" r="0.9" fill="#eef0b0" stroke="none" stroke-width="1" />
<circle cx="69.7" cy="151.3" r="2.05" fill="#d6da74" stroke="none" stroke-width="1" />
<circle cx="69.2" cy="150.8" r="0.9" fill="#eef0b0" stroke="none" stroke-width="1" />
<circle cx="77.4" cy="151.3" r="2.05" fill="#d6da74" stroke="none" stroke-width="1" />
<circle cx="76.9" cy="150.8" r="0.9" fill="#eef0b0" stroke="none" stroke-width="1" />
<circle cx="85.1" cy="151.3" r="2.05" fill="#d6da74" stroke="none" stroke-width="1" />
<circle cx="84.6" cy="150.8" r="0.9" fill="#eef0b0" stroke="none" stroke-width="1" />
<circle cx="92.7" cy="151.3" r="2.05" fill="#d6da74" stroke="none" stroke-width="1" />
<circle cx="92.2" cy="150.8" r="0.9" fill="#eef0b0" stroke="none" stroke-width="1" />
<circle cx="100.4" cy="151.3" r="2.05" fill="#d6da74" stroke="none" stroke-width="1" />
<circle cx="99.9" cy="150.8" r="0.9" fill="#eef0b0" stroke="none" stroke-width="1" />
<circle cx="108.1" cy="151.3" r="2.05" fill="#d6da74" stroke="none" stroke-width="1" />
<circle cx="107.6" cy="150.8" r="0.9" fill="#eef0b0" stroke="none" stroke-width="1" />
<circle cx="115.7" cy="151.3" r="2.05" fill="#d6da74" stroke="none" stroke-width="1" />
<circle cx="115.2" cy="150.8" r="0.9" fill="#eef0b0" stroke="none" stroke-width="1" />
<circle cx="123.4" cy="151.3" r="2.05" fill="#d6da74" stroke="none" stroke-width="1" />
<circle cx="122.9" cy="150.8" r="0.9" fill="#eef0b0" stroke="none" stroke-width="1" />
<circle cx="131.1" cy="151.3" r="2.05" fill="#d6da74" stroke="none" stroke-width="1" />
<circle cx="130.6" cy="150.8" r="0.9" fill="#eef0b0" stroke="none" stroke-width="1" />
<circle cx="138.7" cy="151.3" r="2.05" fill="#d6da74" stroke="none" stroke-width="1" />
<circle cx="138.2" cy="150.8" r="0.9" fill="#eef0b0" stroke="none" stroke-width="1" />
<circle cx="146.4" cy="151.3" r="2.05" fill="#d6da74" stroke="none" stroke-width="1" />
<circle cx="145.9" cy="150.8" r="0.9" fill="#eef0b0" stroke="none" stroke-width="1" />
<circle cx="154.1" cy="151.3" r="2.05" fill="#d6da74" stroke="none" stroke-width="1" />
<circle cx="153.6" cy="150.8" r="0.9" fill="#eef0b0" stroke="none" stroke-width="1" />
<circle cx="161.7" cy="151.3" r="2.05" fill="#d6da74" stroke="none" stroke-width="1" />
<circle cx="161.2" cy="150.8" r="0.9" fill="#eef0b0" stroke="none" stroke-width="1" />
<rect x="77" y="115" width="31.7" height="11.8" fill="#5a5a5e" stroke="none" stroke-width="1" />
<text x="92.8" y="124.6" font-size="7.5" fill="#f4f4f4" text-anchor="middle" font-weight="bold" font-style="normal" stroke="#f4f4f4" stroke-width="0.25" >W</text>
<text x="14.9" y="159.4" font-size="7.2" fill="#151515" text-anchor="start" font-weight="bold" font-style="normal" stroke="#151515" stroke-width="0.25" >SiO<tspan font-size="5" dy="1.2">2</tspan></text>
<text x="13.5" y="175" font-size="7.2" fill="#151515" text-anchor="start" font-weight="bold" font-style="normal" textLength="13.5" lengthAdjust="spacingAndGlyphs" stroke="#151515" stroke-width="0.25" >p-Si</text>
<text x="90" y="178.7" font-size="8.7" fill="#151515" text-anchor="start" font-weight="bold" font-style="normal" textLength="28.5" lengthAdjust="spacingAndGlyphs" stroke="#151515" stroke-width="0.25" >Output</text>
<path d="M119.8,189.3 L133.5,189.2 Q135.5,188.5 136.2,178 L136.9,170.4 Q138.5,182 141,186 Q144,188.8 150,189 L155.3,189.2" stroke="#cf4a55" stroke-width="0.9" fill="none" />
<text x="107.6" y="199.8" font-size="7.6" fill="#c83c48" text-anchor="start" font-weight="bold" font-style="normal" textLength="53.5" lengthAdjust="spacingAndGlyphs" stroke="#c83c48" stroke-width="0.25" >Weight change</text>
<text x="176" y="56.5" font-size="11.5" fill="#111" text-anchor="start" font-weight="bold" font-style="normal" stroke="#111" stroke-width="0.25" >(b)</text>
<path d="M275.2,70 L277.4,77 L277.4,152 L275.2,159 L273.1,152 L273.1,77 Z" stroke="none" stroke-width="1" fill="#a0a0a4" />
<path d="M442.2,70.5 L444.4,77.5 L444.4,152 L442.2,158.8 L440.1,152 L440.1,77.5 Z" stroke="none" stroke-width="1" fill="#a0a0a4" />
<polyline points="201.8,86.8 262.0,86.8 262.7,86.8 263.3,86.8 264.0,86.7 264.7,86.6 265.3,86.5 266.0,86.4 266.7,86.3 267.3,86.1 268.0,86.0 268.7,85.8 269.3,85.6 270.0,85.4 270.7,85.2 271.3,85.0 272.0,84.8 272.7,84.6 273.3,84.4 274.0,84.2 274.7,84.0 275.3,83.8 276.0,83.6 276.7,83.5 277.3,83.3 278.0,83.2 278.7,83.1 279.3,83.0 280.0,82.9 280.7,82.8 281.3,82.8 282.0,82.8 340.6,82.8" stroke="#3b7cc2" stroke-width="1.6" fill="none" />
<polyline points="201.8,147.0 266.0,147.0 266.8,146.9 267.6,146.7 268.4,146.4 269.2,145.9 270.0,145.3 270.8,144.6 271.6,143.8 272.4,142.9 273.2,141.8 274.0,140.8 274.8,139.6 275.6,138.4 276.4,137.1 277.2,135.8 278.0,134.5 278.8,133.2 279.6,131.9 280.4,130.6 281.2,129.4 282.0,128.2 282.8,127.2 283.6,126.1 284.4,125.2 285.2,124.4 286.0,123.7 286.8,123.1 287.6,122.6 288.4,122.3 289.2,122.1 290.0,122.0 340.6,122.0" stroke="#3b7cc2" stroke-width="1.6" fill="none" />
<line x1="204.5" y1="100.4" x2="270" y2="100.4" stroke="#f0b23c" stroke-width="1.4" stroke-dasharray="4.7 3.3"/>
<line x1="285.4" y1="106" x2="341" y2="106" stroke="#f0b23c" stroke-width="1.4" stroke-dasharray="4.7 3.3"/>
<line x1="205" y1="75" x2="249" y2="75" stroke="#43a565" stroke-width="1.1" />
<path d="M253,75 L247,72.3 L247,77.7 Z" stroke="none" stroke-width="1" fill="#43a565" />
<circle cx="215.0" cy="81.8" r="2.5" fill="#e23b3b" stroke="none" stroke-width="1" />
<circle cx="222.3" cy="81.8" r="2.5" fill="#e23b3b" stroke="none" stroke-width="1" />
<circle cx="229.6" cy="81.8" r="2.5" fill="#e23b3b" stroke="none" stroke-width="1" />
<circle cx="236.9" cy="81.8" r="2.5" fill="#e23b3b" stroke="none" stroke-width="1" />
<circle cx="272.1" cy="99.7" r="3.8" fill="#fbe8e8" stroke="#333" stroke-width="1.2" />
<circle cx="272.1" cy="99.7" r="2.6" fill="#e8323c" stroke="none" stroke-width="1" />
<circle cx="281.0" cy="105.6" r="3.8" fill="#fbe8e8" stroke="#333" stroke-width="1.2" />
<circle cx="281.0" cy="105.6" r="2.6" fill="#e8323c" stroke="none" stroke-width="1" />
<circle cx="271.8" cy="111.2" r="3.8" fill="#fbe8e8" stroke="#333" stroke-width="1.2" />
<circle cx="271.8" cy="111.2" r="2.6" fill="#e8323c" stroke="none" stroke-width="1" />
<circle cx="281.0" cy="116.8" r="3.8" fill="#fbe8e8" stroke="#333" stroke-width="1.2" />
<circle cx="281.0" cy="116.8" r="2.6" fill="#e8323c" stroke="none" stroke-width="1" />
<circle cx="272.1" cy="122.0" r="3.8" fill="#fbe8e8" stroke="#333" stroke-width="1.2" />
<circle cx="272.1" cy="122.0" r="2.6" fill="#e8323c" stroke="none" stroke-width="1" />
<text x="183.6" y="88.7" font-size="10.6" fill="#151515" text-anchor="start" font-weight="bold" font-style="italic" stroke="#151515" stroke-width="0.25" >E<tspan font-size="7.6" dy="2">c</tspan></text>
<text x="183.6" y="150.3" font-size="10.6" fill="#151515" text-anchor="start" font-weight="bold" font-style="italic" stroke="#151515" stroke-width="0.25" >E<tspan font-size="6.8" dy="2">V</tspan></text>
<text x="343.4" y="86.3" font-size="10.6" fill="#151515" text-anchor="start" font-weight="bold" font-style="italic" stroke="#151515" stroke-width="0.25" >E<tspan font-size="7.6" dy="2">c</tspan></text>
<text x="343.4" y="125.5" font-size="10.6" fill="#151515" text-anchor="start" font-weight="bold" font-style="italic" stroke="#151515" stroke-width="0.25" >E<tspan font-size="6.8" dy="2">V</tspan></text>
<text x="213.5" y="124.6" font-size="11" fill="#151515" text-anchor="start" font-weight="bold" font-style="normal" stroke="#151515" stroke-width="0.25" >MoS<tspan font-size="7.5" dy="2">2</tspan></text>
<text x="299.6" y="100.1" font-size="10.5" fill="#151515" text-anchor="start" font-weight="bold" font-style="normal" stroke="#151515" stroke-width="0.25" >p-Si</text>
<text x="263.1" y="167" font-size="11.2" fill="#151515" text-anchor="start" font-weight="bold" font-style="normal" stroke="#151515" stroke-width="0.25" >SiO<tspan font-size="7.5" dy="2">2</tspan></text>
<text x="258.3" y="199.9" font-size="11.4" fill="#151515" text-anchor="middle" font-weight="bold" font-style="normal" textLength="69.2" lengthAdjust="spacingAndGlyphs" stroke="#151515" stroke-width="0.25" >Forward bias</text>
<polyline points="372.4,93.3 430.0,93.3 430.7,93.3 431.5,93.1 432.2,92.9 432.9,92.6 433.7,92.3 434.4,91.8 435.1,91.3 435.9,90.7 436.6,90.1 437.3,89.4 438.1,88.7 438.8,87.9 439.5,87.2 440.3,86.4 441.0,85.5 441.7,84.7 442.5,83.9 443.2,83.2 443.9,82.4 444.7,81.7 445.4,81.0 446.1,80.4 446.9,79.8 447.6,79.3 448.3,78.8 449.1,78.5 449.8,78.2 450.5,78.0 451.3,77.8 452.0,77.8 513.0,77.8" stroke="#3b7cc2" stroke-width="1.6" fill="none" />
<polyline points="372.4,149.6 436.0,149.6 436.8,149.5 437.6,149.2 438.4,148.8 439.2,148.2 440.0,147.4 440.8,146.4 441.6,145.3 442.4,144.1 443.2,142.8 444.0,141.3 444.8,139.8 445.6,138.2 446.4,136.5 447.2,134.8 448.0,133.1 448.8,131.3 449.6,129.6 450.4,127.9 451.2,126.3 452.0,124.8 452.8,123.3 453.6,122.0 454.4,120.8 455.2,119.7 456.0,118.7 456.8,117.9 457.6,117.3 458.4,116.9 459.2,116.6 460.0,116.5 513.0,116.5" stroke="#3b7cc2" stroke-width="1.6" fill="none" />
<line x1="375" y1="102.9" x2="437.5" y2="102.9" stroke="#f0b23c" stroke-width="1.4" stroke-dasharray="4.7 3.3"/>
<line x1="452" y1="99.2" x2="511" y2="99.2" stroke="#f0b23c" stroke-width="1.4" stroke-dasharray="4.7 3.3"/>
<line x1="379" y1="80.4" x2="421" y2="80.4" stroke="#43a565" stroke-width="1.1" />
<path d="M375,80.4 L381,77.7 L381,83.1 Z" stroke="none" stroke-width="1" fill="#43a565" />
<circle cx="386.0" cy="87.0" r="2.5" fill="#e23b3b" stroke="none" stroke-width="1" />
<circle cx="393.5" cy="87.0" r="2.5" fill="#e23b3b" stroke="none" stroke-width="1" />
<circle cx="401.0" cy="87.0" r="2.5" fill="#e23b3b" stroke="none" stroke-width="1" />
<circle cx="408.5" cy="87.0" r="2.5" fill="#e23b3b" stroke="none" stroke-width="1" />
<circle cx="439.4" cy="100.7" r="3.9" fill="#ffffff" stroke="#3a3a3a" stroke-width="1.3" />
<circle cx="449.3" cy="106.2" r="3.9" fill="#ffffff" stroke="#3a3a3a" stroke-width="1.3" />
<circle cx="439.4" cy="112.0" r="3.9" fill="#ffffff" stroke="#3a3a3a" stroke-width="1.3" />
<circle cx="449.3" cy="116.5" r="3.9" fill="#ffffff" stroke="#3a3a3a" stroke-width="1.3" />
<circle cx="439.4" cy="123.1" r="3.9" fill="#ffffff" stroke="#3a3a3a" stroke-width="1.3" />
<text x="358.2" y="94.8" font-size="10.6" fill="#151515" text-anchor="start" font-weight="bold" font-style="italic" stroke="#151515" stroke-width="0.25" >E<tspan font-size="7.6" dy="2">c</tspan></text>
<text x="356.4" y="152.3" font-size="10.6" fill="#151515" text-anchor="start" font-weight="bold" font-style="italic" stroke="#151515" stroke-width="0.25" >E<tspan font-size="6.8" dy="2">V</tspan></text>
<text x="514.8" y="80.6" font-size="10.6" fill="#151515" text-anchor="start" font-weight="bold" font-style="italic" stroke="#151515" stroke-width="0.25" >E<tspan font-size="7.6" dy="2">c</tspan></text>
<text x="515.8" y="119.5" font-size="10.6" fill="#151515" text-anchor="start" font-weight="bold" font-style="italic" stroke="#151515" stroke-width="0.25" >E<tspan font-size="6.8" dy="2">V</tspan></text>
<text x="381.2" y="124.2" font-size="11" fill="#151515" text-anchor="start" font-weight="bold" font-style="normal" stroke="#151515" stroke-width="0.25" >MoS<tspan font-size="7.5" dy="2">2</tspan></text>
<text x="471.2" y="93.2" font-size="10.5" fill="#151515" text-anchor="start" font-weight="bold" font-style="normal" stroke="#151515" stroke-width="0.25" >p-Si</text>
<text x="431.3" y="168" font-size="11.2" fill="#151515" text-anchor="start" font-weight="bold" font-style="normal" stroke="#151515" stroke-width="0.25" >SiO<tspan font-size="7.5" dy="2">2</tspan></text>
<circle cx="297.6" cy="178.5" r="3.5" fill="#fff" stroke="#333" stroke-width="1.2" />
<text x="303.3" y="182.1" font-size="11" fill="#151515" text-anchor="start" font-weight="bold" font-style="normal" stroke="#151515" stroke-width="0.25" >Trap state</text>
<circle cx="359.6" cy="179.0" r="2.5" fill="#e23b3b" stroke="none" stroke-width="1" />
<text x="366.1" y="182.1" font-size="11" fill="#151515" text-anchor="start" font-weight="bold" font-style="normal" stroke="#151515" stroke-width="0.25" >Electron</text>
<text x="442.6" y="199.9" font-size="11.4" fill="#151515" text-anchor="middle" font-weight="bold" font-style="normal" textLength="68.8" lengthAdjust="spacingAndGlyphs" stroke="#151515" stroke-width="0.25" >Reverse bias</text>
<text x="5" y="210.3" font-size="11.5" fill="#111" text-anchor="start" font-weight="bold" font-style="normal" stroke="#111" stroke-width="0.25" >(c)</text>
<rect x="29.4" y="219.9" width="136.8" height="143.8" fill="none" stroke="#555" stroke-width="0.8" />
<text x="26.6" y="360.3" font-size="7.3" fill="#151515" text-anchor="end" font-weight="bold" font-style="normal" stroke="#151515" stroke-width="0.25" >0.0</text>
<line x1="29.4" y1="357.8" x2="31.8" y2="357.8" stroke="#555" stroke-width="0.7" />
<line x1="29.4" y1="340.6" x2="30.9" y2="340.6" stroke="#555" stroke-width="0.6" />
<text x="26.6" y="325.90000000000003" font-size="7.3" fill="#151515" text-anchor="end" font-weight="bold" font-style="normal" stroke="#151515" stroke-width="0.25" >0.5</text>
<line x1="29.4" y1="323.40000000000003" x2="31.8" y2="323.40000000000003" stroke="#555" stroke-width="0.7" />
<line x1="29.4" y1="306.20000000000005" x2="30.9" y2="306.20000000000005" stroke="#555" stroke-width="0.6" />
<text x="26.6" y="291.5" font-size="7.3" fill="#151515" text-anchor="end" font-weight="bold" font-style="normal" stroke="#151515" stroke-width="0.25" >1.0</text>
<line x1="29.4" y1="289.0" x2="31.8" y2="289.0" stroke="#555" stroke-width="0.7" />
<line x1="29.4" y1="271.8" x2="30.9" y2="271.8" stroke="#555" stroke-width="0.6" />
<text x="26.6" y="257.1" font-size="7.3" fill="#151515" text-anchor="end" font-weight="bold" font-style="normal" stroke="#151515" stroke-width="0.25" >1.5</text>
<line x1="29.4" y1="254.60000000000002" x2="31.8" y2="254.60000000000002" stroke="#555" stroke-width="0.7" />
<line x1="29.4" y1="237.40000000000003" x2="30.9" y2="237.40000000000003" stroke="#555" stroke-width="0.6" />
<text x="26.6" y="222.70000000000002" font-size="7.3" fill="#151515" text-anchor="end" font-weight="bold" font-style="normal" stroke="#151515" stroke-width="0.25" >2.0</text>
<line x1="29.4" y1="220.20000000000002" x2="31.8" y2="220.20000000000002" stroke="#555" stroke-width="0.7" />
<line x1="31.0" y1="363.7" x2="31.0" y2="361.8" stroke="#555" stroke-width="0.6" />
<line x1="43.35" y1="363.7" x2="43.35" y2="361.8" stroke="#555" stroke-width="0.6" />
<line x1="55.7" y1="363.7" x2="55.7" y2="361.8" stroke="#555" stroke-width="0.6" />
<line x1="68.05" y1="363.7" x2="68.05" y2="361.8" stroke="#555" stroke-width="0.6" />
<line x1="80.4" y1="363.7" x2="80.4" y2="361.8" stroke="#555" stroke-width="0.6" />
<line x1="92.75" y1="363.7" x2="92.75" y2="361.8" stroke="#555" stroke-width="0.6" />
<line x1="105.1" y1="363.7" x2="105.1" y2="361.8" stroke="#555" stroke-width="0.6" />
<line x1="117.45" y1="363.7" x2="117.45" y2="361.8" stroke="#555" stroke-width="0.6" />
<line x1="129.8" y1="363.7" x2="129.8" y2="361.8" stroke="#555" stroke-width="0.6" />
<line x1="142.14999999999998" y1="363.7" x2="142.14999999999998" y2="361.8" stroke="#555" stroke-width="0.6" />
<text x="0" y="0" font-size="8.8" fill="#151515" text-anchor="middle" font-weight="bold" font-style="normal" stroke="#151515" stroke-width="0.25" transform="translate(13.4,292.5) rotate(-90)">EPSC/μA</text>
<text x="91.2" y="383.3" font-size="9" fill="#151515" text-anchor="middle" font-weight="bold" font-style="normal" stroke="#151515" stroke-width="0.25" >Time a.u./sec</text>
<text x="59.5" y="230" font-size="8.4" fill="#151515" text-anchor="start" font-weight="bold" font-style="normal" textLength="85.8" lengthAdjust="spacingAndGlyphs" stroke="#151515" stroke-width="0.25" >Electronic mode LTP</text>
<line x1="57.4" y1="357.8" x2="57.4" y2="237" stroke="#e8a0d8" stroke-width="0.5" />
<polyline points="31.0,357.6 57.4,357.6" stroke="#b75bc0" stroke-width="2.2" fill="none" />
<circle cx="31.5" cy="357.6" r="1.9" fill="#b75bc0" stroke="none" stroke-width="1" />
<circle cx="44.0" cy="357.6" r="1.9" fill="#b75bc0" stroke="none" stroke-width="1" />
<circle cx="57.4" cy="357.6" r="1.9" fill="#b75bc0" stroke="none" stroke-width="1" />
<circle cx="57.4" cy="347.3" r="1.6" fill="#b75bc0" stroke="none" stroke-width="1" />
<circle cx="57.4" cy="350.5" r="1.4" fill="#b75bc0" stroke="none" stroke-width="1" />
<polyline points="57.6,237.3 57.9,240.6 58.1,242.9 58.4,245.6 58.6,247.7 58.9,249.8 59.1,251.7 59.4,253.6 59.6,255.2 59.9,256.8 60.1,258.2 60.4,259.7 60.6,260.6 60.9,262.2 61.1,262.8 61.4,264.2 61.6,265.1 61.9,266.1 62.1,266.8 62.4,267.7 62.6,268.9 62.9,269.8 63.1,270.1 63.4,271.1 63.6,271.9 63.9,272.7 64.5,273.6 65.0,274.9 65.6,276.2 66.1,277.7 66.7,278.3 67.3,279.5 67.8,280.7 68.4,281.3 68.9,282.3 69.5,282.8 70.1,283.8 70.6,284.6 71.2,284.7 71.7,285.8 72.3,286.6 72.9,287.0 73.4,287.3 74.0,288.1 74.5,288.2 75.1,289.0 75.7,289.7 76.2,289.8 76.8,290.2 77.4,290.6 77.9,290.9 78.5,291.7 79.0,291.8 79.6,292.2 80.2,292.7 80.7,292.8 81.3,293.5 81.8,293.6 82.4,294.2 83.0,294.5 83.5,294.5 84.1,295.0 84.6,295.4 85.2,295.5 85.8,295.6 86.3,296.2 86.9,296.5 87.4,296.7 88.0,297.2 88.6,297.2 89.1,297.6 89.7,297.4 90.2,297.7 90.8,298.3 91.4,298.3 91.9,298.3 92.5,299.0 93.0,298.9 93.6,299.3 94.2,299.5 94.7,299.8 95.3,299.8 95.8,300.1 96.4,300.0 97.0,300.2 97.5,300.7 98.1,300.6 98.7,301.1 99.2,301.1 99.8,301.2 100.3,301.1 100.9,301.7 101.5,301.6 102.0,301.8 102.6,301.9 103.1,301.9 103.7,302.5 104.3,302.4 104.8,302.2 105.4,302.7 105.9,302.7 106.5,302.9 107.1,303.3 107.6,303.1 108.2,303.6 108.7,303.5 109.3,303.3 109.9,304.0 110.4,303.9 111.0,304.3 111.5,303.9 112.1,304.0 112.7,304.6 113.2,304.5 113.8,304.3 114.3,304.8 114.9,304.9 115.5,305.1 116.0,305.1 116.6,304.9 117.1,304.9 117.7,305.0 118.3,305.1 118.8,305.3 119.4,305.8 120.0,305.7 120.5,305.8 121.1,306.1 121.6,305.8 122.2,306.0 122.8,306.2 123.3,306.6 123.9,306.4 124.4,306.2 125.0,306.7 125.6,306.5 126.1,306.9 126.7,306.7 127.2,307.1 127.8,307.1 128.4,307.1 128.9,306.9 129.5,307.0 130.0,307.1 130.6,307.1" stroke="#b75bc0" stroke-width="3.9" fill="none" stroke-linejoin="round" stroke-linecap="round"/>
<line x1="57.5" y1="237.37248000000002" x2="57.5" y2="249.37248000000002" stroke="#b75bc0" stroke-width="2.6" />
<polyline points="57.6,258.8 57.9,261.4 58.1,264.0 58.4,265.9 58.6,267.4 58.9,269.2 59.1,271.3 59.4,272.5 59.6,273.6 59.9,274.8 60.1,276.3 60.4,277.1 60.6,278.3 60.9,279.5 61.1,280.3 61.4,280.8 61.6,281.8 61.9,282.7 62.1,283.5 62.4,283.8 62.6,284.4 62.9,285.1 63.1,286.0 63.4,286.7 63.6,287.2 63.9,287.7 64.5,289.3 65.0,290.1 65.6,291.0 66.1,292.0 66.7,293.0 67.3,293.7 67.8,294.2 68.4,294.8 68.9,295.7 69.5,296.5 70.1,296.8 70.6,297.7 71.2,297.9 71.7,298.5 72.3,299.3 72.9,299.5 73.4,300.2 74.0,300.6 74.5,301.2 75.1,301.2 75.7,301.5 76.2,302.3 76.8,302.7 77.4,303.1 77.9,303.5 78.5,303.2 79.0,303.7 79.6,304.2 80.2,304.7 80.7,305.0 81.3,305.1 81.8,305.6 82.4,305.7 83.0,305.8 83.5,306.1 84.1,306.4 84.6,306.6 85.2,307.1 85.8,307.3 86.3,307.2 86.9,307.7 87.4,307.5 88.0,307.7 88.6,307.9 89.1,308.3 89.7,308.2 90.2,308.9 90.8,309.0 91.4,308.7 91.9,309.0 92.5,309.3 93.0,309.3 93.6,309.9 94.2,309.8 94.7,310.3 95.3,310.2 95.8,310.6 96.4,310.7 97.0,310.9 97.5,310.8 98.1,311.0 98.7,311.2 99.2,311.1 99.8,311.3 100.3,311.5 100.9,311.3 101.5,311.8 102.0,311.8 102.6,312.2 103.1,312.0 103.7,312.5 104.3,312.4 104.8,312.3 105.4,312.8 105.9,312.8 106.5,312.5 107.1,312.9 107.6,313.1 108.2,313.4 108.7,312.9 109.3,313.6 109.9,313.4 110.4,313.8 111.0,313.7 111.5,313.9 112.1,313.9 112.7,314.0 113.2,313.9 113.8,314.2 114.3,314.4 114.9,314.5 115.5,314.6 116.0,314.6 116.6,314.8 117.1,314.6 117.7,314.8 118.3,314.8 118.8,314.8 119.4,314.9 120.0,315.0 120.5,315.0 121.1,315.3 121.6,315.3 122.2,315.7 122.8,315.6 123.3,315.4 123.9,315.6 124.4,315.6 125.0,315.9 125.6,316.1 126.1,316.2 126.7,316.1 127.2,315.9 127.8,316.0 128.4,316.4 128.9,316.3 129.5,316.5 130.0,316.4 130.6,316.6" stroke="#4052bc" stroke-width="3.9" fill="none" stroke-linejoin="round" stroke-linecap="round"/>
<line x1="57.5" y1="259.04943360000004" x2="57.5" y2="271.04943360000004" stroke="#4052bc" stroke-width="2.6" />
<polyline points="57.6,292.2 57.9,294.0 58.1,295.4 58.4,296.7 58.6,297.8 58.9,298.8 59.1,300.0 59.4,300.8 59.6,302.2 59.9,302.6 60.1,303.7 60.4,304.5 60.6,305.0 60.9,305.6 61.1,306.0 61.4,306.7 61.6,307.2 61.9,307.7 62.1,308.4 62.4,308.7 62.6,309.5 62.9,309.9 63.1,309.9 63.4,310.2 63.6,310.7 63.9,311.3 64.5,312.2 65.0,312.6 65.6,313.3 66.1,314.2 66.7,314.6 67.3,315.2 67.8,315.5 68.4,315.9 68.9,316.6 69.5,317.0 70.1,317.2 70.6,317.9 71.2,318.2 71.7,318.6 72.3,318.6 72.9,319.3 73.4,319.3 74.0,319.8 74.5,320.2 75.1,320.0 75.7,320.4 76.2,321.0 76.8,321.3 77.4,321.3 77.9,321.7 78.5,322.0 79.0,322.1 79.6,322.4 80.2,322.1 80.7,322.6 81.3,322.8 81.8,323.0 82.4,323.3 83.0,323.0 83.5,323.6 84.1,323.7 84.6,323.6 85.2,323.8 85.8,324.1 86.3,324.1 86.9,324.5 87.4,324.5 88.0,324.8 88.6,325.0 89.1,324.8 89.7,324.8 90.2,325.4 90.8,325.3 91.4,325.7 91.9,325.6 92.5,325.9 93.0,325.8 93.6,325.9 94.2,325.7 94.7,326.0 95.3,325.9 95.8,326.1 96.4,326.5 97.0,326.2 97.5,326.5 98.1,326.9 98.7,326.9 99.2,326.9 99.8,326.7 100.3,327.0 100.9,327.1 101.5,327.5 102.0,327.1 102.6,327.2 103.1,327.3 103.7,327.7 104.3,327.6 104.8,327.4 105.4,327.8 105.9,327.6 106.5,328.1 107.1,327.8 107.6,327.8 108.2,328.2 108.7,328.4 109.3,328.2 109.9,328.5 110.4,328.4 111.0,328.5 111.5,328.8 112.1,328.8 112.7,328.4 113.2,328.8 113.8,328.8 114.3,329.1 114.9,328.7 115.5,328.8 116.0,328.8 116.6,329.0 117.1,328.9 117.7,329.3 118.3,329.4 118.8,329.4 119.4,329.5 120.0,329.3 120.5,329.7 121.1,329.5 121.6,329.8 122.2,329.7 122.8,329.5 123.3,329.5 123.9,329.5 124.4,329.6 125.0,329.8 125.6,329.7 126.1,329.7 126.7,330.2 127.2,330.0 127.8,330.2 128.4,330.1 128.9,330.2 129.5,330.2 130.0,330.3 130.6,330.5" stroke="#e4323e" stroke-width="3.9" fill="none" stroke-linejoin="round" stroke-linecap="round"/>
<line x1="57.5" y1="292.1670016" x2="57.5" y2="304.1670016" stroke="#e4323e" stroke-width="2.6" />
<polyline points="57.6,306.6 57.9,308.2 58.1,308.8 58.4,310.3 58.6,310.9 58.9,312.1 59.1,312.5 59.4,313.6 59.6,313.9 59.9,315.2 60.1,315.7 60.4,316.2 60.6,316.8 60.9,316.9 61.1,317.3 61.4,317.8 61.6,318.5 61.9,319.1 62.1,319.5 62.4,319.7 62.6,320.1 62.9,320.5 63.1,320.5 63.4,320.7 63.6,321.0 63.9,321.3 64.5,322.3 65.0,322.5 65.6,323.1 66.1,323.9 66.7,324.0 67.3,324.8 67.8,324.8 68.4,325.3 68.9,325.5 69.5,326.2 70.1,326.2 70.6,326.5 71.2,326.9 71.7,327.4 72.3,327.1 72.9,327.8 73.4,328.1 74.0,327.8 74.5,328.4 75.1,328.4 75.7,329.0 76.2,329.0 76.8,329.3 77.4,329.3 77.9,329.6 78.5,329.5 79.0,329.5 79.6,330.0 80.2,330.0 80.7,330.3 81.3,330.7 81.8,330.5 82.4,330.6 83.0,330.8 83.5,331.3 84.1,331.4 84.6,331.5 85.2,331.6 85.8,331.3 86.3,331.4 86.9,331.5 87.4,331.7 88.0,331.7 88.6,332.1 89.1,332.1 89.7,332.4 90.2,332.1 90.8,332.5 91.4,332.4 91.9,332.7 92.5,332.6 93.0,332.5 93.6,332.7 94.2,333.1 94.7,333.0 95.3,333.1 95.8,333.0 96.4,333.3 97.0,333.7 97.5,333.6 98.1,333.6 98.7,333.9 99.2,333.9 99.8,333.8 100.3,333.5 100.9,333.6 101.5,333.7 102.0,334.0 102.6,334.0 103.1,334.4 103.7,334.0 104.3,334.5 104.8,334.5 105.4,334.6 105.9,334.5 106.5,334.6 107.1,334.5 107.6,334.3 108.2,334.6 108.7,334.7 109.3,334.9 109.9,334.8 110.4,334.8 111.0,334.7 111.5,334.7 112.1,335.2 112.7,335.0 113.2,335.4 113.8,335.0 114.3,335.1 114.9,335.3 115.5,335.5 116.0,335.3 116.6,335.2 117.1,335.3 117.7,335.5 118.3,335.6 118.8,335.7 119.4,335.4 120.0,335.4 120.5,335.7 121.1,335.9 121.6,335.5 122.2,335.9 122.8,336.0 123.3,335.9 123.9,336.2 124.4,336.1 125.0,335.7 125.6,336.0 126.1,336.3 126.7,336.3 127.2,336.3 127.8,336.3 128.4,336.3 128.9,336.1 129.5,336.3 130.0,336.4 130.6,336.3" stroke="#222222" stroke-width="3.9" fill="none" stroke-linejoin="round" stroke-linecap="round"/>
<line x1="57.5" y1="306.618304" x2="57.5" y2="318.618304" stroke="#222222" stroke-width="2.6" />
<text x="133.1" y="309.3" font-size="6.6" fill="#b75bc0" text-anchor="start" font-weight="bold" font-style="normal" textLength="31.2" lengthAdjust="spacingAndGlyphs" stroke="#b75bc0" stroke-width="0.25" >300 pulses</text>
<text x="133.1" y="319.3" font-size="6.6" fill="#3f55c0" text-anchor="start" font-weight="bold" font-style="normal" textLength="31.2" lengthAdjust="spacingAndGlyphs" stroke="#3f55c0" stroke-width="0.25" >200 pulses</text>
<text x="133.1" y="331.9" font-size="6.6" fill="#e0323c" text-anchor="start" font-weight="bold" font-style="normal" textLength="31.2" lengthAdjust="spacingAndGlyphs" stroke="#e0323c" stroke-width="0.25" >100 pulses</text>
<text x="133.1" y="339.8" font-size="6.6" fill="#1e1e1e" text-anchor="start" font-weight="bold" font-style="normal" textLength="27.5" lengthAdjust="spacingAndGlyphs" stroke="#1e1e1e" stroke-width="0.25" >50 pulses</text>
<polyline points="75.6,244.1 85.8,244.1 85.8,262.2 102.5,262.2 102.5,244.1 106.2,244.1 106.2,262.2 124.8,262.2 124.8,244.1 134.1,244.1" stroke="#222" stroke-width="0.9" fill="none" />
<line x1="134.1" y1="244.1" x2="150" y2="244.1" stroke="#444" stroke-width="0.8" stroke-dasharray="1 1.2"/>
<line x1="103.3" y1="244" x2="103.3" y2="264" stroke="#888" stroke-width="0.4" stroke-dasharray="0.8 0.8"/>
<line x1="105.4" y1="244" x2="105.4" y2="264" stroke="#888" stroke-width="0.4" stroke-dasharray="0.8 0.8"/>
<text x="82" y="236.2" font-size="4.6" fill="#222" text-anchor="start" font-weight="bold" font-style="normal" stroke="#222" stroke-width="0.12" >Pulse width</text>
<text x="83" y="242.7" font-size="4.6" fill="#222" text-anchor="start" font-weight="bold" font-style="normal" stroke="#222" stroke-width="0.12" >pw=500 ms</text>
<text x="92" y="268.7" font-size="4.6" fill="#222" text-anchor="start" font-weight="bold" font-style="normal" stroke="#222" stroke-width="0.12" >Pulse interval</text>
<text x="93" y="274.8" font-size="4.6" fill="#222" text-anchor="start" font-weight="bold" font-style="normal" stroke="#222" stroke-width="0.12" >pi=5.3 ms</text>
<text x="147.3" y="251" font-size="4.6" fill="#222" text-anchor="middle" font-weight="bold" font-style="normal" stroke="#222" stroke-width="0.12" >Pre-synaptic</text>
<text x="147.3" y="257" font-size="4.6" fill="#222" text-anchor="middle" font-weight="bold" font-style="normal" stroke="#222" stroke-width="0.12" >pulse</text>
<text x="147.3" y="263.5" font-size="4.6" fill="#222" text-anchor="middle" font-weight="bold" font-style="normal" stroke="#222" stroke-width="0.12" >amplitude</text>
<text x="147.3" y="269.6" font-size="4.6" fill="#222" text-anchor="middle" font-weight="bold" font-style="normal" stroke="#222" stroke-width="0.12" >≈−50 V</text>
<text x="128" y="282.2" font-size="8.4" fill="#151515" text-anchor="start" font-weight="bold" font-style="normal" textLength="29" lengthAdjust="spacingAndGlyphs" stroke="#151515" stroke-width="0.25" ><tspan font-style="italic">V</tspan><tspan font-size="5" dy="1.5" font-style="italic">d</tspan><tspan dy="-1.5">=0.1 V</tspan></text>
<text x="172.8" y="210.8" font-size="11.5" fill="#111" text-anchor="start" font-weight="bold" font-style="normal" stroke="#111" stroke-width="0.25" >(d)</text>
<rect x="204.5" y="220" width="137.3" height="144.8" fill="none" stroke="#555" stroke-width="0.8" />
<text x="201.2" y="352.8" font-size="7.4" fill="#151515" text-anchor="end" font-weight="bold" font-style="normal" stroke="#151515" stroke-width="0.25" >3</text>
<line x1="204.5" y1="350.2" x2="206.9" y2="350.2" stroke="#555" stroke-width="0.7" />
<line x1="204.5" y1="328.495" x2="206.0" y2="328.495" stroke="#555" stroke-width="0.6" />
<text x="201.2" y="309.39" font-size="7.4" fill="#151515" text-anchor="end" font-weight="bold" font-style="normal" stroke="#151515" stroke-width="0.25" >6</text>
<line x1="204.5" y1="306.78999999999996" x2="206.9" y2="306.78999999999996" stroke="#555" stroke-width="0.7" />
<line x1="204.5" y1="285.085" x2="206.0" y2="285.085" stroke="#555" stroke-width="0.6" />
<text x="201.2" y="265.98" font-size="7.4" fill="#151515" text-anchor="end" font-weight="bold" font-style="normal" stroke="#151515" stroke-width="0.25" >9</text>
<line x1="204.5" y1="263.38" x2="206.9" y2="263.38" stroke="#555" stroke-width="0.7" />
<line x1="204.5" y1="241.67499999999998" x2="206.0" y2="241.67499999999998" stroke="#555" stroke-width="0.6" />
<text x="201.2" y="222.56999999999996" font-size="7.4" fill="#151515" text-anchor="end" font-weight="bold" font-style="normal" stroke="#151515" stroke-width="0.25" >12</text>
<line x1="204.5" y1="219.96999999999997" x2="206.9" y2="219.96999999999997" stroke="#555" stroke-width="0.7" />
<text x="211.5" y="372.9" font-size="7.4" fill="#151515" text-anchor="middle" font-weight="bold" font-style="normal" stroke="#151515" stroke-width="0.25" >0</text>
<line x1="211.5" y1="364.8" x2="211.5" y2="362.40000000000003" stroke="#555" stroke-width="0.7" />
<line x1="227.05" y1="364.8" x2="227.05" y2="363.3" stroke="#555" stroke-width="0.6" />
<text x="242.6" y="372.9" font-size="7.4" fill="#151515" text-anchor="middle" font-weight="bold" font-style="normal" stroke="#151515" stroke-width="0.25" >500</text>
<line x1="242.6" y1="364.8" x2="242.6" y2="362.40000000000003" stroke="#555" stroke-width="0.7" />
<line x1="258.15" y1="364.8" x2="258.15" y2="363.3" stroke="#555" stroke-width="0.6" />
<text x="273.7" y="372.9" font-size="7.4" fill="#151515" text-anchor="middle" font-weight="bold" font-style="normal" stroke="#151515" stroke-width="0.25" >1 000</text>
<line x1="273.7" y1="364.8" x2="273.7" y2="362.40000000000003" stroke="#555" stroke-width="0.7" />
<line x1="289.25" y1="364.8" x2="289.25" y2="363.3" stroke="#555" stroke-width="0.6" />
<text x="304.8" y="372.9" font-size="7.4" fill="#151515" text-anchor="middle" font-weight="bold" font-style="normal" stroke="#151515" stroke-width="0.25" >1 500</text>
<line x1="304.8" y1="364.8" x2="304.8" y2="362.40000000000003" stroke="#555" stroke-width="0.7" />
<line x1="320.35" y1="364.8" x2="320.35" y2="363.3" stroke="#555" stroke-width="0.6" />
<text x="335.9" y="372.9" font-size="7.4" fill="#151515" text-anchor="middle" font-weight="bold" font-style="normal" stroke="#151515" stroke-width="0.25" >2 000</text>
<line x1="335.9" y1="364.8" x2="335.9" y2="362.40000000000003" stroke="#555" stroke-width="0.7" />
<text x="0" y="0" font-size="8.8" fill="#151515" text-anchor="middle" font-weight="bold" font-style="normal" stroke="#151515" stroke-width="0.25" transform="translate(190.2,292.4) rotate(-90)">EPSC/nA</text>
<text x="273.3" y="384" font-size="9.2" fill="#151515" text-anchor="middle" font-weight="bold" font-style="normal" stroke="#151515" stroke-width="0.25" >Time/sec</text>
<text x="240.7" y="230.4" font-size="8.8" fill="#151515" text-anchor="start" font-weight="bold" font-style="normal" textLength="87.6" lengthAdjust="spacingAndGlyphs" stroke="#151515" stroke-width="0.25" >Ionotronic mode LTP</text>
<polyline points="210.6,355.7 211.9,355.2 213.2,355.6 214.5,355.2 215.8,355.6 217.1,355.3 218.3,355.6 219.6,355.3 220.9,355.2 222.2,355.6 223.5,355.2 224.8,355.6" stroke="#b458b8" stroke-width="3.6" fill="none" stroke-linecap="round"/>
<line x1="225.2" y1="355.4" x2="225.2" y2="343" stroke="#e8a0d8" stroke-width="0.6" />
<polyline points="225.6,343.3 225.5,342.5 225.6,341.7 225.7,340.9 225.8,340.1 226.1,339.3 226.0,338.5 226.2,337.7 226.7,336.9 226.9,336.1 226.6,335.4 226.8,334.6 226.9,333.8 227.5,333.0 227.2,333.2 227.6,337.1 228.1,339.3 228.5,341.1 228.9,342.2 229.3,343.4 229.8,344.5 230.2,345.3 230.6,345.5 231.0,345.8 231.5,345.9 231.9,346.4 232.3,347.0 232.7,347.2 233.2,347.2 233.6,347.1 234.0,347.1 234.4,347.7 234.9,348.0 235.3,348.2 235.7,348.4 236.1,348.4 236.6,348.7 237.0,349.0 237.4,349.5 237.8,349.7 238.3,349.6 238.7,349.7 239.1,350.1 239.6,350.0 240.0,350.2 240.4,349.9 240.8,350.0 241.3,349.4 241.7,349.1 242.1,349.1 242.5,349.3 243.0,349.6 243.4,349.9 243.8,349.8 244.2,350.1 244.7,350.3 245.1,350.6 245.5,350.4 245.9,350.4 246.4,350.5 246.8,350.0 247.2,349.9 247.6,350.3 248.1,350.4 248.5,350.4 248.9,350.3 249.3,350.5 249.8,350.5 250.2,350.5 250.6,350.3 251.0,350.5 251.5,350.3 251.9,350.1 252.3,349.7 252.8,349.8 253.2,350.3 253.6,350.2 254.0,350.0 254.5,350.3 254.9,350.0 255.3,350.1 255.7,350.5 256.2,350.8 256.6,350.8 257.0,350.9 257.4,350.9 257.9,351.3 258.3,351.2 258.7,350.9 259.1,350.8 259.6,350.9 260.0,350.7 260.4,350.6 260.8,350.5 261.3,350.3 261.7,350.0 262.1,350.4 262.5,350.3 263.0,350.3 263.4,350.1 263.8,350.6 264.3,350.7 264.7,350.8 265.1,351.0 265.5,350.8 266.0,350.5 266.4,351.0 266.8,350.7 267.2,350.6 267.7,350.1 268.1,350.0 268.5,349.9 268.9,350.2 269.4,350.5 269.8,350.7 270.2,350.6 270.6,350.8 271.1,351.4 271.5,351.6 271.9,351.8 272.3,351.6 272.8,351.5 273.2,351.3 273.6,351.2 274.0,351.0 274.5,351.4 274.9,351.1 275.3,350.9 275.7,350.7 276.2,350.9 276.6,350.5 277.0,350.7 277.5,350.7 277.9,350.9 278.3,350.5 278.7,350.4 279.2,350.5 279.6,350.0 280.0,349.9 280.4,350.2 280.9,349.6 281.3,349.5 281.7,349.0 282.1,349.2 282.6,349.2 283.0,349.6 283.4,350.2 283.8,350.6 284.3,350.4 284.7,350.7 285.1,350.7 285.5,351.0 286.0,350.9 286.4,350.7 286.8,350.6 287.2,350.2 287.7,349.9 288.1,349.9 288.5,349.8 289.0,350.1 289.4,350.2 289.8,350.3 290.2,350.3 290.7,350.2 291.1,350.5 291.5,350.6 291.9,351.0 292.4,351.1 292.8,350.9 293.2,350.9 293.6,350.8 294.1,350.8 294.5,350.6 294.9,350.6 295.3,350.3 295.8,350.5 296.2,350.2 296.6,350.3 297.0,350.0 297.5,350.2 297.9,350.2 298.3,350.2 298.7,350.2 299.2,350.5 299.6,350.3 300.0,350.3 300.4,350.6 300.9,350.8 301.3,350.5 301.7,350.5 302.2,350.3 302.6,350.6 303.0,350.8 303.4,350.8 303.9,351.3 304.3,351.1 304.7,351.0 305.1,351.4 305.6,351.3 306.0,351.6 306.4,351.2 306.8,350.6 307.3,350.6 307.7,350.1 308.1,350.0 308.5,350.1 309.0,349.8 309.4,350.0 309.8,349.9 310.2,349.6 310.7,349.9 311.1,349.8 311.5,349.9 311.9,349.6 312.4,349.6 312.8,350.2 313.2,350.1 313.7,350.1 314.1,350.5 314.5,351.2 314.9,351.4 315.4,351.7 315.8,352.2 316.2,352.3 316.6,351.8 317.1,351.9 317.5,352.2 317.9,351.8 318.3,351.3 318.8,351.3 319.2,351.2 319.6,350.8 320.0,350.7 320.5,350.7 320.9,350.7 321.3,350.1 321.7,350.5 322.2,350.4 322.6,350.1 323.0,349.9 323.4,350.1 323.9,350.0 324.3,350.1 324.7,349.8 325.1,350.6 325.6,350.2 326.0,350.2 326.4,350.1 326.9,350.3 327.3,350.6 327.7,350.9 328.1,350.8 328.6,350.6 329.0,350.3 329.4,350.4 329.8,350.4 330.3,350.7 330.7,350.8 331.1,350.3 331.5,350.0 332.0,350.1 332.4,350.3 332.8,350.3 333.2,350.3 333.7,350.1 334.1,350.2 334.5,350.3 334.9,350.7 335.4,350.5 335.8,350.3 336.2,350.6 336.6,350.3 337.1,350.4 337.5,350.6" stroke="#262626" stroke-width="4.2" fill="none" stroke-linejoin="round" stroke-linecap="round"/>
<polyline points="225.6,343.3 225.8,341.1 225.9,339.0 226.4,336.8 226.4,334.7 226.9,332.6 227.1,330.4 227.2,328.3 227.2,326.2 227.9,324.0 227.7,321.9 227.9,319.7 228.3,317.6 228.5,315.5 228.6,315.0 229.0,319.3 229.4,322.8 229.9,325.2 230.3,326.5 230.7,327.2 231.1,327.9 231.5,328.5 232.0,328.9 232.4,329.0 232.8,330.0 233.2,330.5 233.6,330.8 234.1,332.3 234.5,332.8 234.9,332.6 235.3,333.1 235.7,333.5 236.2,333.4 236.6,333.4 237.0,333.7 237.4,333.8 237.9,333.3 238.3,333.2 238.7,334.2 239.1,334.1 239.5,334.3 240.0,335.1 240.4,334.7 240.8,334.7 241.2,335.0 241.6,334.6 242.1,334.8 242.5,334.7 242.9,334.6 243.3,334.7 243.7,334.5 244.2,334.7 244.6,334.8 245.0,334.8 245.4,335.6 245.8,335.2 246.3,334.3 246.7,334.3 247.1,334.1 247.5,334.3 247.9,334.6 248.4,334.7 248.8,334.7 249.2,335.2 249.6,335.9 250.0,336.4 250.5,336.1 250.9,336.3 251.3,336.6 251.7,336.2 252.1,335.4 252.6,335.6 253.0,335.3 253.4,335.2 253.8,335.1 254.2,335.7 254.7,335.5 255.1,335.6 255.5,335.7 255.9,336.4 256.4,336.3 256.8,335.8 257.2,336.0 257.6,336.4 258.0,335.9 258.5,335.8 258.9,335.6 259.3,336.4 259.7,336.1 260.1,335.9 260.6,336.2 261.0,336.5 261.4,336.0 261.8,335.6 262.2,335.7 262.7,335.4 263.1,334.9 263.5,335.1 263.9,335.4 264.3,335.6 264.8,335.1 265.2,335.7 265.6,336.5 266.0,336.9 266.4,337.4 266.9,337.3 267.3,337.3 267.7,337.5 268.1,337.1 268.5,337.5 269.0,337.2 269.4,337.0 269.8,337.4 270.2,337.4 270.6,337.0 271.1,336.9 271.5,336.7 271.9,336.9 272.3,336.3 272.7,336.2 273.2,336.0 273.6,335.2 274.0,334.8 274.4,335.1 274.9,335.4 275.3,335.6 275.7,335.6 276.1,335.6 276.5,335.9 277.0,335.9 277.4,336.4 277.8,336.8 278.2,337.2 278.6,336.8 279.1,336.5 279.5,336.4 279.9,336.9 280.3,336.9 280.7,337.4 281.2,336.6 281.6,336.7 282.0,336.2 282.4,336.0 282.8,336.4 283.3,336.5 283.7,336.8 284.1,336.6 284.5,336.2 284.9,336.8 285.4,336.5 285.8,336.4 286.2,336.6 286.6,336.4 287.0,336.2 287.5,335.7 287.9,335.7 288.3,335.2 288.7,335.1 289.1,335.4 289.6,335.6 290.0,335.6 290.4,335.3 290.8,335.6 291.2,335.7 291.7,335.9 292.1,336.4 292.5,335.9 292.9,335.9 293.4,336.1 293.8,336.2 294.2,336.7 294.6,336.7 295.0,336.0 295.5,336.1 295.9,336.2 296.3,336.2 296.7,336.3 297.1,335.8 297.6,335.8 298.0,335.7 298.4,335.2 298.8,335.5 299.2,335.2 299.7,335.5 300.1,336.1 300.5,336.0 300.9,336.4 301.3,336.1 301.8,336.0 302.2,336.2 302.6,336.4 303.0,336.1 303.4,336.0 303.9,335.3 304.3,335.1 304.7,335.5 305.1,335.8 305.5,335.9 306.0,335.6 306.4,335.5 306.8,335.4 307.2,335.1 307.6,335.7 308.1,335.9 308.5,335.4 308.9,335.7 309.3,334.5 309.7,334.6 310.2,335.0 310.6,335.7 311.0,335.9 311.4,335.8 311.9,336.2 312.3,336.8 312.7,336.4 313.1,337.6 313.5,337.7 314.0,337.3 314.4,336.5 314.8,337.1 315.2,336.8 315.6,336.6 316.1,336.4 316.5,336.1 316.9,336.5 317.3,336.7 317.7,336.8 318.2,336.7 318.6,336.6 319.0,336.7 319.4,336.3 319.8,336.0 320.3,336.3 320.7,335.7 321.1,336.1 321.5,336.2 321.9,337.2 322.4,336.4 322.8,336.2 323.2,336.8 323.6,336.4 324.0,336.5 324.5,337.0 324.9,336.7 325.3,336.4 325.7,335.8 326.1,336.4 326.6,336.5 327.0,336.2 327.4,336.7 327.8,337.0 328.2,336.4 328.7,335.9 329.1,336.4 329.5,336.5 329.9,336.2 330.4,336.4 330.8,336.7 331.2,335.9 331.6,335.4 332.0,335.3 332.5,335.7 332.9,334.7 333.3,334.5 333.7,334.9 334.1,334.7 334.6,334.3 335.0,335.3 335.4,335.4 335.8,335.9 336.2,335.6 336.7,336.1 337.1,336.7 337.5,335.9" stroke="#e6323e" stroke-width="4.2" fill="none" stroke-linejoin="round" stroke-linecap="round"/>
<polyline points="225.3,343.3 226.1,337.0 226.3,330.7 227.1,324.4 227.7,318.1 227.8,311.8 228.6,305.5 229.1,299.2 229.6,292.9 230.1,286.7 230.4,280.4 231.1,274.1 231.8,267.8 232.0,261.5 232.0,261.4 232.4,265.9 232.8,270.3 233.2,273.4 233.6,276.2 234.0,280.0 234.4,281.3 234.9,283.0 235.3,284.9 235.7,285.6 236.1,287.1 236.5,288.5 236.9,290.7 237.3,291.9 237.7,293.0 238.1,295.0 238.5,296.2 238.9,297.1 239.3,298.0 239.7,298.7 240.1,299.0 240.6,298.9 241.0,298.8 241.4,299.0 241.8,298.9 242.2,299.1 242.6,299.6 243.0,300.1 243.4,300.6 243.8,300.3 244.2,300.4 244.6,300.9 245.0,301.0 245.4,301.1 245.8,300.6 246.3,301.7 246.7,301.5 247.1,301.6 247.5,302.0 247.9,302.7 248.3,302.0 248.7,301.6 249.1,301.7 249.5,302.6 249.9,301.9 250.3,302.2 250.7,302.5 251.1,302.6 251.6,302.1 252.0,303.0 252.4,303.2 252.8,303.1 253.2,303.2 253.6,303.6 254.0,303.3 254.4,303.7 254.8,304.5 255.2,304.7 255.6,304.6 256.0,304.4 256.4,305.2 256.8,304.8 257.3,303.8 257.7,304.3 258.1,304.0 258.5,303.9 258.9,304.2 259.3,304.8 259.7,306.0 260.1,305.5 260.5,305.9 260.9,305.9 261.3,306.1 261.7,306.8 262.1,306.6 262.6,306.6 263.0,306.0 263.4,305.6 263.8,305.9 264.2,306.3 264.6,306.7 265.0,306.2 265.4,305.9 265.8,305.6 266.2,306.0 266.6,306.3 267.0,306.1 267.4,306.2 267.8,306.4 268.3,306.6 268.7,306.8 269.1,306.5 269.5,307.0 269.9,306.9 270.3,307.0 270.7,306.0 271.1,305.8 271.5,304.8 271.9,305.0 272.3,304.5 272.7,304.0 273.1,303.7 273.5,303.5 274.0,303.7 274.4,304.5 274.8,304.7 275.2,305.7 275.6,304.9 276.0,304.9 276.4,305.3 276.8,305.6 277.2,305.6 277.6,305.0 278.0,305.5 278.4,305.6 278.8,305.4 279.3,305.9 279.7,306.9 280.1,307.3 280.5,307.2 280.9,306.3 281.3,306.4 281.7,306.2 282.1,305.0 282.5,305.1 282.9,305.5 283.3,304.6 283.7,303.9 284.1,303.8 284.5,305.3 285.0,305.1 285.4,304.9 285.8,305.5 286.2,304.9 286.6,304.2 287.0,304.4 287.4,305.2 287.8,306.0 288.2,305.0 288.6,305.5 289.0,306.0 289.4,306.4 289.8,306.5 290.2,306.8 290.7,306.6 291.1,306.7 291.5,305.7 291.9,305.6 292.3,306.3 292.7,305.9 293.1,306.2 293.5,306.7 293.9,306.6 294.3,306.5 294.7,306.3 295.1,307.0 295.5,306.9 296.0,306.7 296.4,306.8 296.8,306.2 297.2,305.5 297.6,305.9 298.0,306.5 298.4,306.2 298.8,306.0 299.2,306.7 299.6,306.4 300.0,306.9 300.4,306.8 300.8,306.8 301.2,306.8 301.7,306.8 302.1,307.0 302.5,306.7 302.9,305.8 303.3,305.7 303.7,305.3 304.1,305.4 304.5,306.5 304.9,306.9 305.3,306.7 305.7,306.7 306.1,307.1 306.5,307.7 306.9,307.2 307.4,307.6 307.8,308.1 308.2,307.1 308.6,306.9 309.0,306.4 309.4,306.5 309.8,305.9 310.2,306.1 310.6,306.7 311.0,306.1 311.4,304.9 311.8,305.4 312.2,304.6 312.7,304.3 313.1,303.8 313.5,304.3 313.9,304.6 314.3,304.8 314.7,305.3 315.1,305.8 315.5,305.6 315.9,306.3 316.3,306.9 316.7,307.7 317.1,307.5 317.5,307.1 317.9,306.1 318.4,305.7 318.8,306.2 319.2,306.3 319.6,306.6 320.0,306.6 320.4,306.4 320.8,306.6 321.2,305.8 321.6,306.1 322.0,306.0 322.4,304.8 322.8,304.4 323.2,303.4 323.7,303.6 324.1,303.6 324.5,303.5 324.9,304.3 325.3,305.5 325.7,305.5 326.1,306.3 326.5,306.9 326.9,306.9 327.3,306.8 327.7,306.5 328.1,307.0 328.5,306.1 328.9,305.2 329.4,305.6 329.8,305.9 330.2,305.8 330.6,306.9 331.0,307.1 331.4,307.2 331.8,306.7 332.2,307.5 332.6,307.1 333.0,307.1 333.4,307.3 333.8,307.0 334.2,306.4 334.6,306.1 335.1,305.6 335.5,305.8 335.9,305.9 336.3,306.4 336.7,305.6 337.1,305.3 337.5,306.1" stroke="#4452bc" stroke-width="4.2" fill="none" stroke-linejoin="round" stroke-linecap="round"/>
<polyline points="225.7,343.3 225.8,334.0 226.9,324.8 227.2,315.6 227.9,306.4 228.5,297.2 228.9,288.0 230.1,278.7 230.3,269.5 231.1,260.3 231.7,251.1 232.0,241.9 232.7,232.7 233.2,223.4 233.5,224.1 233.9,233.4 234.3,240.7 234.7,246.2 235.1,250.3 235.5,253.6 235.9,256.7 236.3,258.7 236.7,261.4 237.1,263.3 237.5,263.7 237.9,264.4 238.3,266.1 238.7,267.7 239.1,269.1 239.5,269.9 239.9,271.7 240.3,272.5 240.7,273.9 241.1,275.6 241.5,276.8 241.9,277.5 242.3,278.5 242.7,278.7 243.1,278.5 243.5,279.6 243.9,279.4 244.3,279.8 244.7,280.8 245.1,281.2 245.5,281.7 245.9,281.6 246.3,282.7 246.8,283.7 247.2,283.3 247.6,285.0 248.0,285.8 248.4,285.3 248.8,285.3 249.2,285.1 249.6,285.7 250.0,285.3 250.4,285.6 250.8,285.3 251.2,285.2 251.6,284.9 252.0,285.3 252.4,286.6 252.8,286.7 253.2,287.5 253.6,287.9 254.0,287.2 254.4,288.3 254.8,288.3 255.2,287.7 255.6,288.5 256.0,288.2 256.4,288.7 256.8,288.2 257.2,288.1 257.6,289.0 258.0,288.1 258.4,287.5 258.8,288.1 259.2,288.0 259.6,288.3 260.0,289.5 260.4,289.5 260.8,290.7 261.2,290.6 261.6,290.4 262.0,291.5 262.4,292.1 262.8,292.1 263.2,291.5 263.6,291.0 264.0,291.5 264.4,290.9 264.8,291.5 265.2,291.9 265.6,291.9 266.0,291.6 266.4,291.3 266.8,291.3 267.2,291.5 267.6,291.0 268.0,290.6 268.4,290.1 268.8,290.7 269.2,291.1 269.6,291.4 270.0,291.2 270.4,291.6 270.8,291.1 271.2,290.8 271.6,290.0 272.0,290.5 272.4,289.6 272.9,289.8 273.3,290.5 273.7,290.5 274.1,290.7 274.5,290.4 274.9,291.0 275.3,292.1 275.7,291.8 276.1,292.6 276.5,292.4 276.9,291.4 277.3,291.7 277.7,290.8 278.1,291.6 278.5,291.8 278.9,292.0 279.3,292.4 279.7,291.7 280.1,290.8 280.5,291.1 280.9,291.2 281.3,291.7 281.7,291.6 282.1,291.8 282.5,290.9 282.9,290.4 283.3,291.2 283.7,291.6 284.1,291.5 284.5,292.3 284.9,292.2 285.3,291.6 285.7,291.4 286.1,292.8 286.5,293.5 286.9,293.2 287.3,292.9 287.7,293.1 288.1,292.1 288.5,292.1 288.9,292.6 289.3,292.9 289.7,292.7 290.1,292.9 290.5,292.8 290.9,292.7 291.3,292.3 291.7,293.1 292.1,294.0 292.5,293.7 292.9,293.7 293.3,293.2 293.7,293.0 294.1,293.1 294.5,292.5 294.9,291.9 295.3,290.6 295.7,290.1 296.1,289.6 296.5,289.6 296.9,289.2 297.3,289.1 297.7,289.6 298.1,290.8 298.6,291.2 299.0,291.8 299.4,291.8 299.8,292.7 300.2,292.5 300.6,293.6 301.0,292.7 301.4,292.6 301.8,292.2 302.2,292.5 302.6,293.4 303.0,294.2 303.4,293.6 303.8,293.0 304.2,292.8 304.6,293.9 305.0,293.8 305.4,294.7 305.8,295.5 306.2,294.9 306.6,294.3 307.0,294.5 307.4,294.4 307.8,294.0 308.2,293.5 308.6,292.7 309.0,291.1 309.4,291.1 309.8,291.1 310.2,290.5 310.6,291.0 311.0,292.1 311.4,292.7 311.8,293.5 312.2,294.7 312.6,295.5 313.0,294.1 313.4,293.2 313.8,293.8 314.2,294.0 314.6,293.6 315.0,293.2 315.4,292.4 315.8,291.9 316.2,292.8 316.6,293.2 317.0,294.9 317.4,295.3 317.8,294.2 318.2,294.0 318.6,293.1 319.0,294.4 319.4,294.2 319.8,293.0 320.2,293.3 320.6,292.1 321.0,292.3 321.4,292.1 321.8,292.0 322.2,293.2 322.6,292.4 323.0,292.7 323.4,293.3 323.8,292.7 324.2,292.9 324.7,291.7 325.1,291.5 325.5,291.7 325.9,291.3 326.3,291.5 326.7,291.8 327.1,291.8 327.5,292.2 327.9,292.7 328.3,293.2 328.7,293.7 329.1,294.0 329.5,294.0 329.9,292.8 330.3,291.7 330.7,291.7 331.1,292.0 331.5,291.7 331.9,291.9 332.3,291.2 332.7,290.7 333.1,290.0 333.5,289.9 333.9,290.8 334.3,290.5 334.7,290.4 335.1,289.8 335.5,289.7 335.9,290.1 336.3,289.9 336.7,289.9 337.1,290.5 337.5,290.7" stroke="#b458b8" stroke-width="4.2" fill="none" stroke-linejoin="round" stroke-linecap="round"/>
<text x="302.7" y="285.1" font-size="6.6" fill="#b75bc0" text-anchor="start" font-weight="bold" font-style="normal" textLength="32" lengthAdjust="spacingAndGlyphs" stroke="#b75bc0" stroke-width="0.25" >300 pulses</text>
<text x="302.7" y="320.1" font-size="6.6" fill="#3f55c0" text-anchor="start" font-weight="bold" font-style="normal" textLength="32" lengthAdjust="spacingAndGlyphs" stroke="#3f55c0" stroke-width="0.25" >200 pulses</text>
<text x="302.7" y="330.6" font-size="6.6" fill="#e0323c" text-anchor="start" font-weight="bold" font-style="normal" textLength="32" lengthAdjust="spacingAndGlyphs" stroke="#e0323c" stroke-width="0.25" >100 pulses</text>
<text x="303" y="360.6" font-size="6.6" fill="#1e1e1e" text-anchor="start" font-weight="bold" font-style="normal" textLength="27.7" lengthAdjust="spacingAndGlyphs" stroke="#1e1e1e" stroke-width="0.25" >50 pulses</text>
<polyline points="260.0,261.0 268.0,261.0 268.0,246.0 283.0,246.0 283.0,261.0 286.0,261.0 286.0,246.0 302.7,246.0 302.7,261.0 310.0,261.0" stroke="#222" stroke-width="0.9" fill="none" />
<line x1="310" y1="261" x2="322" y2="261" stroke="#444" stroke-width="0.8" stroke-dasharray="1 1.2"/>
<text x="268.5" y="237" font-size="4.6" fill="#222" text-anchor="start" font-weight="bold" font-style="normal" stroke="#222" stroke-width="0.12" >Pulse interval</text>
<text x="268.5" y="242.8" font-size="4.6" fill="#222" text-anchor="start" font-weight="bold" font-style="normal" stroke="#222" stroke-width="0.12" >pi=5.3 ms</text>
<text x="251.3" y="246" font-size="4.6" fill="#222" text-anchor="middle" font-weight="bold" font-style="normal" stroke="#222" stroke-width="0.12" >Pre-synaptic</text>
<text x="251.3" y="250.7" font-size="4.6" fill="#222" text-anchor="middle" font-weight="bold" font-style="normal" stroke="#222" stroke-width="0.12" >pulse</text>
<text x="251.3" y="256.7" font-size="4.6" fill="#222" text-anchor="middle" font-weight="bold" font-style="normal" stroke="#222" stroke-width="0.12" >amplitude</text>
<text x="251.3" y="262.5" font-size="4.6" fill="#222" text-anchor="middle" font-weight="bold" font-style="normal" stroke="#222" stroke-width="0.12" >≈2 V</text>
<text x="262" y="269.1" font-size="4.6" fill="#222" text-anchor="start" font-weight="bold" font-style="normal" stroke="#222" stroke-width="0.12" >Pulse width</text>
<text x="262" y="275.3" font-size="4.6" fill="#222" text-anchor="start" font-weight="bold" font-style="normal" stroke="#222" stroke-width="0.12" >pw=500 ms</text>
<text x="301.6" y="272.7" font-size="9" fill="#151515" text-anchor="start" font-weight="bold" font-style="normal" textLength="29" lengthAdjust="spacingAndGlyphs" stroke="#151515" stroke-width="0.25" ><tspan font-style="italic">V</tspan><tspan font-size="5.4" dy="1.5" font-style="italic">d</tspan><tspan dy="-1.5">=0.1 V</tspan></text>
<text x="356.6" y="212.2" font-size="11.5" fill="#111" text-anchor="start" font-weight="bold" font-style="normal" stroke="#111" stroke-width="0.25" >(e)</text>
<rect x="378.2" y="219" width="137.3" height="144.10000000000002" fill="none" stroke="#555" stroke-width="0.8" />
<rect x="444.8" y="217" width="3.5" height="4" fill="#fff" stroke="none" stroke-width="1" />
<line x1="443.5" y1="221.3" x2="446.5" y2="216.7" stroke="#555" stroke-width="0.7" />
<line x1="446.3" y1="221.3" x2="449.3" y2="216.7" stroke="#555" stroke-width="0.7" />
<rect x="444.8" y="361.1" width="3.5" height="4" fill="#fff" stroke="none" stroke-width="1" />
<line x1="443.5" y1="365.40000000000003" x2="446.5" y2="360.8" stroke="#555" stroke-width="0.7" />
<line x1="446.3" y1="365.40000000000003" x2="449.3" y2="360.8" stroke="#555" stroke-width="0.7" />
<text x="374.6" y="366.2" font-size="7.6" fill="#151515" text-anchor="end" font-weight="bold" font-style="normal" stroke="#151515" stroke-width="0.25" >0</text>
<line x1="378.2" y1="363.5" x2="380.4" y2="363.5" stroke="#555" stroke-width="0.6" />
<line x1="378.2" y1="351.425" x2="379.59999999999997" y2="351.425" stroke="#555" stroke-width="0.5" />
<text x="374.6" y="342.05" font-size="7.6" fill="#151515" text-anchor="end" font-weight="bold" font-style="normal" stroke="#151515" stroke-width="0.25" >1</text>
<line x1="378.2" y1="339.35" x2="380.4" y2="339.35" stroke="#555" stroke-width="0.6" />
<line x1="378.2" y1="327.275" x2="379.59999999999997" y2="327.275" stroke="#555" stroke-width="0.5" />
<text x="374.6" y="317.9" font-size="7.6" fill="#151515" text-anchor="end" font-weight="bold" font-style="normal" stroke="#151515" stroke-width="0.25" >2</text>
<line x1="378.2" y1="315.2" x2="380.4" y2="315.2" stroke="#555" stroke-width="0.6" />
<line x1="378.2" y1="303.125" x2="379.59999999999997" y2="303.125" stroke="#555" stroke-width="0.5" />
<text x="374.6" y="293.75" font-size="7.6" fill="#151515" text-anchor="end" font-weight="bold" font-style="normal" stroke="#151515" stroke-width="0.25" >3</text>
<line x1="378.2" y1="291.05" x2="380.4" y2="291.05" stroke="#555" stroke-width="0.6" />
<line x1="378.2" y1="278.975" x2="379.59999999999997" y2="278.975" stroke="#555" stroke-width="0.5" />
<text x="374.6" y="269.59999999999997" font-size="7.6" fill="#151515" text-anchor="end" font-weight="bold" font-style="normal" stroke="#151515" stroke-width="0.25" >4</text>
<line x1="378.2" y1="266.9" x2="380.4" y2="266.9" stroke="#555" stroke-width="0.6" />
<line x1="378.2" y1="254.825" x2="379.59999999999997" y2="254.825" stroke="#555" stroke-width="0.5" />
<text x="374.6" y="245.45" font-size="7.6" fill="#151515" text-anchor="end" font-weight="bold" font-style="normal" stroke="#151515" stroke-width="0.25" >5</text>
<line x1="378.2" y1="242.75" x2="380.4" y2="242.75" stroke="#555" stroke-width="0.6" />
<line x1="378.2" y1="230.675" x2="379.59999999999997" y2="230.675" stroke="#555" stroke-width="0.5" />
<text x="374.6" y="221.3" font-size="7.6" fill="#151515" text-anchor="end" font-weight="bold" font-style="normal" stroke="#151515" stroke-width="0.25" >6</text>
<line x1="378.2" y1="218.60000000000002" x2="380.4" y2="218.60000000000002" stroke="#555" stroke-width="0.6" />
<line x1="381.4" y1="363.1" x2="381.4" y2="361.1" stroke="#555" stroke-width="0.6" />
<line x1="396" y1="363.1" x2="396" y2="361.1" stroke="#555" stroke-width="0.6" />
<line x1="410.6" y1="363.1" x2="410.6" y2="361.1" stroke="#555" stroke-width="0.6" />
<line x1="425.2" y1="363.1" x2="425.2" y2="361.1" stroke="#555" stroke-width="0.6" />
<line x1="440" y1="363.1" x2="440" y2="361.1" stroke="#555" stroke-width="0.6" />
<line x1="455" y1="363.1" x2="455" y2="361.1" stroke="#555" stroke-width="0.6" />
<line x1="470" y1="363.1" x2="470" y2="361.1" stroke="#555" stroke-width="0.6" />
<line x1="485" y1="363.1" x2="485" y2="361.1" stroke="#555" stroke-width="0.6" />
<line x1="500" y1="363.1" x2="500" y2="361.1" stroke="#555" stroke-width="0.6" />
<text x="381.4" y="372.2" font-size="6.8" fill="#151515" text-anchor="middle" font-weight="bold" font-style="normal" stroke="#151515" stroke-width="0.25" >0</text>
<text x="390" y="372.2" font-size="6.8" fill="#151515" text-anchor="start" font-weight="bold" font-style="normal" textLength="50" lengthAdjust="spacingAndGlyphs" stroke="#151515" stroke-width="0.25" >1 0002 0003 000</text>
<text x="441.2" y="372.2" font-size="6.8" fill="#151515" text-anchor="start" font-weight="bold" font-style="normal" textLength="15.8" lengthAdjust="spacingAndGlyphs" stroke="#151515" stroke-width="0.25" >9 000</text>
<text x="500.3" y="372.2" font-size="6.8" fill="#151515" text-anchor="start" font-weight="bold" font-style="normal" textLength="18.5" lengthAdjust="spacingAndGlyphs" stroke="#151515" stroke-width="0.25" >10 000</text>
<text x="446.7" y="383" font-size="9.2" fill="#151515" text-anchor="middle" font-weight="bold" font-style="normal" stroke="#151515" stroke-width="0.25" >Time/secs</text>
<text x="0" y="0" font-size="9.4" fill="#151515" text-anchor="middle" font-weight="bold" font-style="normal" textLength="100.3" lengthAdjust="spacingAndGlyphs" stroke="#151515" stroke-width="0.25" transform="translate(354.8,289.2) rotate(-90)">Excitatory post synaptic</text>
<text x="0" y="0" font-size="9.4" fill="#151515" text-anchor="middle" font-weight="bold" font-style="normal" textLength="74.7" lengthAdjust="spacingAndGlyphs" stroke="#151515" stroke-width="0.25" transform="translate(365.2,289.5) rotate(-90)">current (EPSC)/μA</text>
<text x="399" y="232.3" font-size="8.8" fill="#151515" text-anchor="start" font-weight="bold" font-style="normal" textLength="92" lengthAdjust="spacingAndGlyphs" stroke="#151515" stroke-width="0.25" >Photoactive mode LTP</text>
<text x="474.3" y="256" font-size="9" fill="#151515" text-anchor="start" font-weight="bold" font-style="normal" textLength="33.2" lengthAdjust="spacingAndGlyphs" stroke="#151515" stroke-width="0.25" ><tspan font-style="italic">V</tspan><tspan font-size="5.4" dy="1.5" font-style="italic">d</tspan><tspan dy="-1.5"> = 2 V</tspan></text>
<polyline points="381.3,348.5 381.5,346.8 382.6,334.2 383.0,304.8 383.2,313.8 383.3,320.1 383.5,324.5 383.7,327.6 383.8,330.0 384.0,331.8 384.1,333.3 384.3,334.5 384.5,335.5 384.6,336.5 384.8,337.4 384.9,325.0 385.3,295.4 385.5,303.6 385.7,309.2 385.9,313.2 386.1,316.0 386.3,318.2 386.6,319.8 386.8,321.1 387.0,322.2 387.2,323.2 387.4,324.1 387.6,324.9 387.8,314.1 388.1,288.4 388.3,297.1 388.5,303.2 388.7,307.5 388.9,310.5 389.1,312.8 389.3,314.6 389.5,316.0 389.7,317.2 389.9,318.2 390.1,319.1 390.3,320.0 390.4,307.0 390.8,276.1 391.1,287.0 391.4,294.5 391.6,299.8 391.9,303.6 392.2,306.4 392.5,308.6 392.8,310.4 393.1,311.9 393.3,313.1 393.6,314.3 393.9,315.4 394.0,300.0 394.4,263.5 394.7,276.1 395.0,284.8 395.3,291.0 395.6,295.4 395.9,298.7 396.3,301.2 396.6,303.3 396.9,305.0 397.2,306.5 397.5,307.8 397.8,309.0 397.9,293.0 398.3,254.6 398.7,268.4 399.0,277.9 399.4,284.6 399.8,289.5 400.1,293.1 400.5,295.9 400.8,298.1 401.2,300.0 401.6,301.6 401.9,303.0 402.3,304.4 402.4,288.8 402.8,251.4 403.2,264.8 403.5,274.1 403.9,280.6 404.2,285.3 404.6,288.8 404.9,291.5 405.3,293.7 405.6,295.5 406.0,297.1 406.3,298.5 406.7,299.8 406.8,283.8 407.2,245.4 407.7,259.6 408.2,269.4 408.8,276.3 409.3,281.3 409.8,285.0 410.3,287.9 410.8,290.2 411.3,292.1 411.9,293.8 412.4,295.3 412.9,296.7 413.0,279.2 413.4,237.4 413.8,252.5 414.1,262.9 414.5,270.2 414.8,275.5 415.2,279.5 415.5,282.5 415.9,284.9 416.2,287.0 416.6,288.7 416.9,290.3 417.3,291.8" stroke="#529fda" stroke-width="2.5" fill="none" stroke-linejoin="round"/>
<polyline points="417.0,292.7 417.3,292.5 417.6,292.3 417.9,291.8 418.2,291.8 418.6,292.1 418.9,292.4 419.2,292.7 419.5,292.8 419.8,293.8 420.1,295.0 420.4,295.3 420.7,294.8 421.0,294.6 421.3,294.6 421.7,295.4 422.0,294.9 422.3,294.7 422.6,295.1 422.9,295.9 423.2,295.8 423.5,294.8 423.8,295.2 424.1,295.8 424.4,296.1 424.8,296.9 425.1,297.3 425.4,298.0 425.7,298.5 426.0,298.2 426.3,298.6 426.6,298.2 426.9,297.5 427.2,298.0 427.5,297.9 427.9,298.6 428.2,299.0 428.5,298.5 428.8,299.6 429.1,299.7 429.4,298.8 429.7,298.3 430.0,297.8 430.3,297.1 430.6,296.6 431.0,296.3 431.3,295.9 431.6,297.1 431.9,297.7 432.2,298.9 432.5,299.0 432.8,299.1 433.1,298.8 433.4,298.5 433.7,298.2 434.1,297.9 434.4,297.2 434.7,298.1 435.0,298.4 435.3,297.7 435.6,298.8 435.9,298.3 436.2,298.4 436.5,297.9 436.8,297.3 437.2,297.3 437.5,297.8 437.8,297.4 438.1,298.3 438.4,297.7 438.7,299.0 439.0,299.1 439.3,299.1 439.6,299.7 439.9,299.8 440.3,298.9 440.6,299.4 440.9,299.3 441.2,300.5 441.5,301.1 441.8,301.1 442.1,301.3 442.4,302.2 442.7,302.0 443.0,302.0 443.4,300.9 443.7,300.3 444.0,300.5 444.3,300.4 444.6,299.3" stroke="#529fda" stroke-width="4.0" fill="none" stroke-linecap="round"/>
<polyline points="448.0,300.4 448.4,300.5 448.7,301.3 449.1,300.7 449.4,301.1 449.8,301.5 450.1,300.9 450.5,299.7 450.8,300.2 451.2,299.8 451.5,300.4 451.9,300.1 452.2,300.2 452.6,300.8 452.9,301.1 453.3,300.3 453.6,300.5 454.0,300.3 454.3,299.9 454.7,299.6 455.0,299.2 455.4,299.8 455.7,300.1 456.1,300.1 456.4,300.0 456.8,299.9 457.2,299.8 457.5,299.6 457.9,299.4 458.2,298.8 458.6,298.9 458.9,299.0 459.3,299.1 459.6,299.0 460.0,299.4 460.3,298.9 460.7,299.1 461.0,298.8 461.4,298.7 461.7,298.8 462.1,298.4 462.4,298.4 462.8,299.4 463.1,300.1 463.5,300.5 463.8,299.9 464.2,299.9 464.5,299.6 464.9,299.5 465.2,298.9 465.6,298.8 465.9,298.2 466.3,298.7 466.7,299.0 467.0,299.7 467.4,299.9 467.7,299.5 468.1,299.4 468.4,300.8 468.8,300.4 469.1,300.9 469.5,300.5 469.8,299.8 470.2,300.4 470.5,300.8 470.9,300.3 471.2,300.2 471.6,299.6 471.9,300.4 472.3,301.2 472.6,300.2 473.0,299.7 473.3,298.8 473.7,298.9 474.0,298.4 474.4,297.7 474.7,297.9 475.1,298.8 475.5,299.2 475.8,299.8 476.2,299.7 476.5,300.3 476.9,300.7 477.2,300.7 477.6,300.8 477.9,300.2 478.3,300.1 478.6,300.8 479.0,300.4 479.3,300.2 479.7,299.6 480.0,299.3 480.4,300.3 480.7,299.8 481.1,299.5 481.4,299.3 481.8,299.8 482.1,299.1 482.5,299.7 482.8,298.7 483.2,298.9 483.5,299.3 483.9,299.4 484.3,299.2 484.6,301.0 485.0,301.0 485.3,301.1 485.7,300.3 486.0,300.7 486.4,301.0 486.7,300.3 487.1,299.2 487.4,298.9 487.8,299.6 488.1,301.2 488.5,300.9 488.8,301.0 489.2,302.4 489.5,303.3 489.9,303.1 490.2,302.7 490.6,302.3 490.9,302.1 491.3,302.3 491.6,301.1 492.0,299.8 492.3,299.1 492.7,298.7 493.1,298.1 493.4,297.4 493.8,296.4 494.1,296.2 494.5,296.4 494.8,297.4 495.2,298.3 495.5,298.2 495.9,298.8 496.2,299.5 496.6,300.4 496.9,301.4 497.3,300.6 497.6,299.8 498.0,300.6 498.3,300.4 498.7,300.3 499.0,299.7 499.4,298.3 499.7,298.9 500.1,299.6 500.4,299.1 500.8,299.5 501.1,299.5 501.5,299.6 501.8,300.3 502.2,300.5 502.6,299.9 502.9,300.1 503.3,299.6 503.6,299.9 504.0,300.5 504.3,300.4 504.7,300.5 505.0,300.1 505.4,299.7 505.7,299.7 506.1,299.5 506.4,299.1 506.8,300.3 507.1,299.5 507.5,300.4 507.8,300.2 508.2,300.6 508.5,300.7 508.9,300.8 509.2,300.2 509.6,300.8 509.9,300.3 510.3,300.8 510.6,301.1 511.0,301.2" stroke="#529fda" stroke-width="4.0" fill="none" stroke-linecap="round"/>
<text x="470.7" y="293.6" font-size="9" fill="#151515" text-anchor="start" font-weight="bold" font-style="normal" textLength="33" lengthAdjust="spacingAndGlyphs" stroke="#151515" stroke-width="0.25" >~2.7 μA</text>
<text x="385.8" y="355.5" font-size="9" fill="#151515" text-anchor="start" font-weight="bold" font-style="normal" textLength="34" lengthAdjust="spacingAndGlyphs" stroke="#151515" stroke-width="0.25" >~670 nA</text>
<text x="397.8" y="327" font-size="4.7" fill="#222" text-anchor="start" font-weight="bold" font-style="normal" textLength="33" lengthAdjust="spacingAndGlyphs" stroke="#222" stroke-width="0.12" >Optical power</text>
<text x="397.8" y="332.8" font-size="4.7" fill="#222" text-anchor="start" font-weight="bold" font-style="normal" stroke="#222" stroke-width="0.12" >≈0.5-5.25 mW mm<tspan dy="-1.5" font-size="3">−2</tspan></text>
<line x1="450.6" y1="316" x2="450.6" y2="337" stroke="#333" stroke-width="0.6" />
<path d="M450.6,315 L449.4,317.5 L451.8,317.5 Z" stroke="none" stroke-width="1" fill="#333" />
<path d="M450.6,338 L449.4,335.5 L451.8,335.5 Z" stroke="none" stroke-width="1" fill="#333" />
<polyline points="455.0,337.5 455.0,315.2 476.4,315.2 476.4,337.5 495.0,337.5" stroke="#111" stroke-width="1.2" fill="none" />
<line x1="495" y1="337.5" x2="515" y2="337.5" stroke="#333" stroke-width="0.9" stroke-dasharray="1 1.4"/>
<line x1="455.5" y1="340.5" x2="474.5" y2="340.5" stroke="#9ab8e0" stroke-width="0.6" stroke-dasharray="1 1"/>
<line x1="477.5" y1="340.5" x2="495" y2="340.5" stroke="#9ab8e0" stroke-width="0.6" stroke-dasharray="1 1"/>
<text x="492.7" y="332.8" font-size="4.7" fill="#222" text-anchor="start" font-weight="bold" font-style="normal" stroke="#222" stroke-width="0.12" ><tspan font-style="italic">N</tspan>=10</text>
<text x="454.3" y="346" font-size="4.7" fill="#222" text-anchor="start" font-weight="bold" font-style="normal" stroke="#222" stroke-width="0.12" >On time</text>
<text x="454.3" y="351.6" font-size="4.7" fill="#222" text-anchor="start" font-weight="bold" font-style="normal" stroke="#222" stroke-width="0.12" >≈10 s</text>
<text x="477.5" y="346" font-size="4.7" fill="#222" text-anchor="start" font-weight="bold" font-style="normal" stroke="#222" stroke-width="0.12" >Off time</text>
<text x="477.5" y="351.6" font-size="4.7" fill="#222" text-anchor="start" font-weight="bold" font-style="normal" stroke="#222" stroke-width="0.12" >≈10 s</text>
<text x="5" y="459.6" font-size="11.5" fill="#111" text-anchor="start" font-weight="bold" font-style="normal" stroke="#111" stroke-width="0.25" >(f)</text>
<defs>
<linearGradient id="fbg" x1="0" y1="0" x2="1" y2="0.3"><stop offset="0" stop-color="#0b090c"/><stop offset="0.45" stop-color="#141614"/><stop offset="1" stop-color="#2e342c"/></linearGradient>
<linearGradient id="beam" x1="0" y1="0" x2="1" y2="1"><stop offset="0" stop-color="#f0b8e8" stop-opacity="0.85"/><stop offset="1" stop-color="#e070d8" stop-opacity="0.9"/></linearGradient>
<radialGradient id="flare"><stop offset="0" stop-color="#ffe0ff" stop-opacity="1"/><stop offset="0.25" stop-color="#e070e0" stop-opacity="0.9"/><stop offset="0.6" stop-color="#9030a0" stop-opacity="0.55"/><stop offset="1" stop-color="#501060" stop-opacity="0"/></radialGradient>
<filter id="blur1" x="-50%" y="-50%" width="200%" height="200%"><feGaussianBlur stdDeviation="2.2"/></filter>
<filter id="blur05"><feGaussianBlur stdDeviation="0.5"/></filter>
<linearGradient id="slabtopf" x1="0" y1="0" x2="1" y2="1"><stop offset="0" stop-color="#a046b0"/><stop offset="0.5" stop-color="#b462c0"/><stop offset="1" stop-color="#9440a8"/></linearGradient>
<linearGradient id="gold" x1="0" y1="0" x2="0" y2="1"><stop offset="0" stop-color="#f2c25a"/><stop offset="1" stop-color="#c8882a"/></linearGradient>
<clipPath id="fclip"><rect x="5" y="469.6" width="167" height="133"/></clipPath>
</defs>
<rect x="5" y="469.6" width="167" height="133" fill="url(#fbg)" stroke="none" stroke-width="1" />
<g clip-path="url(#fclip)">
<path d="M20,466 L48,466 L67,510 L56,515 Z" stroke="none" stroke-width="1" fill="url(#beam)" filter="url(#blur1)" opacity="0.9"/>
<circle cx="61.0" cy="512.0" r="24" fill="url(#flare)" stroke="none" stroke-width="1" />
<line x1="61" y1="512" x2="78.0" y2="512.0" stroke="#f0a0f0" stroke-width="0.6" opacity="0.6"/>
<line x1="61" y1="512" x2="70.5" y2="517.5" stroke="#f0a0f0" stroke-width="0.6" opacity="0.6"/>
<line x1="61" y1="512" x2="69.5" y2="526.7" stroke="#f0a0f0" stroke-width="0.6" opacity="0.6"/>
<line x1="61" y1="512" x2="61.0" y2="523.0" stroke="#f0a0f0" stroke-width="0.6" opacity="0.6"/>
<line x1="61" y1="512" x2="52.5" y2="526.7" stroke="#f0a0f0" stroke-width="0.6" opacity="0.6"/>
<line x1="61" y1="512" x2="51.5" y2="517.5" stroke="#f0a0f0" stroke-width="0.6" opacity="0.6"/>
<line x1="61" y1="512" x2="44.0" y2="512.0" stroke="#f0a0f0" stroke-width="0.6" opacity="0.6"/>
<line x1="61" y1="512" x2="51.5" y2="506.5" stroke="#f0a0f0" stroke-width="0.6" opacity="0.6"/>
<line x1="61" y1="512" x2="52.5" y2="497.3" stroke="#f0a0f0" stroke-width="0.6" opacity="0.6"/>
<line x1="61" y1="512" x2="61.0" y2="501.0" stroke="#f0a0f0" stroke-width="0.6" opacity="0.6"/>
<line x1="61" y1="512" x2="69.5" y2="497.3" stroke="#f0a0f0" stroke-width="0.6" opacity="0.6"/>
<line x1="61" y1="512" x2="70.5" y2="506.5" stroke="#f0a0f0" stroke-width="0.6" opacity="0.6"/>
<circle cx="61.0" cy="512.0" r="3.5" fill="#fff0ff" stroke="none" stroke-width="1" filter="url(#blur05)"/>
<path d="M17.6,547.6 L78.6,584 L78.6,589 L17.6,552.6 Z" stroke="none" stroke-width="1" fill="#b24cb4" />
<path d="M78.6,584 L164,549 L164,554 L78.6,589 Z" stroke="none" stroke-width="1" fill="#c460c0" />
<path d="M17.6,552.6 L78.6,589 L78.6,596 L17.6,559.6 Z" stroke="none" stroke-width="1" fill="#3c6ed0" />
<path d="M78.6,589 L164,554 L164,561 L78.6,596 Z" stroke="none" stroke-width="1" fill="#4a7ad6" />
<path d="M17.6,547.6 L98,521 L164,549 L78.6,584 Z" stroke="none" stroke-width="1" fill="url(#slabtopf)" />
<clipPath id="hclip"><path d="M44,548 L100,530 L128,552 L78,576 Z"/></clipPath>
<path d="M44,548 L100,530 L128,552 L78,576 Z" stroke="none" stroke-width="1" fill="#ecdcf0" opacity="0.5"/>
<g clip-path="url(#hclip)" stroke="#fbf6fb" stroke-width="0.6" opacity="0.9">
<line x1="30.0" y1="525" x2="60.0" y2="580"/>
<line x1="32.6" y1="525" x2="62.6" y2="580"/>
<line x1="35.2" y1="525" x2="65.2" y2="580"/>
<line x1="37.8" y1="525" x2="67.8" y2="580"/>
<line x1="40.4" y1="525" x2="70.4" y2="580"/>
<line x1="43.0" y1="525" x2="73.0" y2="580"/>
<line x1="45.6" y1="525" x2="75.6" y2="580"/>
<line x1="48.2" y1="525" x2="78.2" y2="580"/>
<line x1="50.8" y1="525" x2="80.8" y2="580"/>
<line x1="53.4" y1="525" x2="83.4" y2="580"/>
<line x1="56.0" y1="525" x2="86.0" y2="580"/>
<line x1="58.6" y1="525" x2="88.6" y2="580"/>
<line x1="61.2" y1="525" x2="91.2" y2="580"/>
<line x1="63.8" y1="525" x2="93.8" y2="580"/>
<line x1="66.4" y1="525" x2="96.4" y2="580"/>
<line x1="69.0" y1="525" x2="99.0" y2="580"/>
<line x1="71.6" y1="525" x2="101.6" y2="580"/>
<line x1="74.2" y1="525" x2="104.2" y2="580"/>
<line x1="76.8" y1="525" x2="106.8" y2="580"/>
<line x1="79.4" y1="525" x2="109.4" y2="580"/>
<line x1="82.0" y1="525" x2="112.0" y2="580"/>
<line x1="84.6" y1="525" x2="114.6" y2="580"/>
<line x1="87.2" y1="525" x2="117.2" y2="580"/>
<line x1="89.8" y1="525" x2="119.8" y2="580"/>
<line x1="92.4" y1="525" x2="122.4" y2="580"/>
<line x1="95.0" y1="525" x2="125.0" y2="580"/>
<line x1="97.6" y1="525" x2="127.6" y2="580"/>
<line x1="100.2" y1="525" x2="130.2" y2="580"/>
<line x1="102.8" y1="525" x2="132.8" y2="580"/>
<line x1="105.4" y1="525" x2="135.4" y2="580"/>
<line x1="108.0" y1="525" x2="138.0" y2="580"/>
<line x1="110.6" y1="525" x2="140.6" y2="580"/>
<line x1="113.2" y1="525" x2="143.2" y2="580"/>
<line x1="115.8" y1="525" x2="145.8" y2="580"/>
<line x1="118.4" y1="525" x2="148.4" y2="580"/>
<line x1="121.0" y1="525" x2="151.0" y2="580"/>
<line x1="123.6" y1="525" x2="153.6" y2="580"/>
<line x1="126.2" y1="525" x2="156.2" y2="580"/>
<line x1="128.8" y1="525" x2="158.8" y2="580"/>
<line x1="131.4" y1="525" x2="161.4" y2="580"/>
<line x1="40" y1="550.0" x2="130" y2="520.0" stroke-width="0.35"/>
<line x1="40" y1="552.6" x2="130" y2="522.6" stroke-width="0.35"/>
<line x1="40" y1="555.2" x2="130" y2="525.2" stroke-width="0.35"/>
<line x1="40" y1="557.8" x2="130" y2="527.8" stroke-width="0.35"/>
<line x1="40" y1="560.4" x2="130" y2="530.4" stroke-width="0.35"/>
<line x1="40" y1="563.0" x2="130" y2="533.0" stroke-width="0.35"/>
<line x1="40" y1="565.6" x2="130" y2="535.6" stroke-width="0.35"/>
<line x1="40" y1="568.2" x2="130" y2="538.2" stroke-width="0.35"/>
<line x1="40" y1="570.8" x2="130" y2="540.8" stroke-width="0.35"/>
<line x1="40" y1="573.4" x2="130" y2="543.4" stroke-width="0.35"/>
<line x1="40" y1="576.0" x2="130" y2="546.0" stroke-width="0.35"/>
<line x1="40" y1="578.6" x2="130" y2="548.6" stroke-width="0.35"/>
<line x1="40" y1="581.2" x2="130" y2="551.2" stroke-width="0.35"/>
<line x1="40" y1="583.8" x2="130" y2="553.8" stroke-width="0.35"/>
<line x1="40" y1="586.4" x2="130" y2="556.4" stroke-width="0.35"/>
<line x1="40" y1="589.0" x2="130" y2="559.0" stroke-width="0.35"/>
<line x1="40" y1="591.6" x2="130" y2="561.6" stroke-width="0.35"/>
<line x1="40" y1="594.2" x2="130" y2="564.2" stroke-width="0.35"/>
<line x1="40" y1="596.8" x2="130" y2="566.8" stroke-width="0.35"/>
<line x1="40" y1="599.4" x2="130" y2="569.4" stroke-width="0.35"/>
</g>
<path d="M24,548 C28,522 50,510 80,510 C115,511 142,524 152,545 L148,546 C120,562 60,570 26,550 Z" stroke="none" stroke-width="1" fill="#f8e8f8" opacity="0.28"/>
<path d="M26,545 C30,521 50,510 80,510 C115,511 142,524 152,545" stroke="#ecd8ec" stroke-width="4.2" fill="none" opacity="0.8"/>
<path d="M92,513.5 C118,516 138,528 148,545" stroke="#2a2a2e" stroke-width="2.2" fill="none" opacity="0.7"/>
<path d="M28,546 C40,530 65,522 90,523 C118,524 138,533 148,545" stroke="#a090a8" stroke-width="1.2" fill="none" opacity="0.5"/>
<path d="M22,541 L40,536 L43,539 L25,544.5 Z" stroke="none" stroke-width="1" fill="#f4cc6a" />
<path d="M25,544.5 L43,539 L43,543.5 L25,549 Z" stroke="none" stroke-width="1" fill="#c8882a" />
<path d="M107,533 L146,541 L146,545 L107,537 Z" stroke="none" stroke-width="1" fill="#e8b24a" />
<path d="M107,537 L146,545 L146,548 L107,540 Z" stroke="none" stroke-width="1" fill="#b07a22" />
<path d="M70,572 L138,548 L141,551 L73,575.5 Z" stroke="none" stroke-width="1" fill="#f0c060" />
<path d="M73,575.5 L141,551 L141,555 L73,580 Z" stroke="none" stroke-width="1" fill="#c08428" />
<circle cx="50.5" cy="522.7" r="2.2" fill="#0e5e58" stroke="none" stroke-width="1" />
<circle cx="55.7" cy="522.3" r="2.2" fill="#0e5e58" stroke="none" stroke-width="1" />
<circle cx="84.4" cy="522.7" r="2.2" fill="#0e5e58" stroke="none" stroke-width="1" />
<circle cx="91.0" cy="522.2" r="2.2" fill="#0e5e58" stroke="none" stroke-width="1" />
<circle cx="96.4" cy="523.2" r="2.2" fill="#0e5e58" stroke="none" stroke-width="1" />
<circle cx="47.2" cy="527.0" r="2.2" fill="#0e5e58" stroke="none" stroke-width="1" />
<circle cx="52.4" cy="527.0" r="2.2" fill="#0e5e58" stroke="none" stroke-width="1" />
<circle cx="58.4" cy="527.0" r="2.2" fill="#0e5e58" stroke="none" stroke-width="1" />
<circle cx="64.2" cy="527.3" r="2.2" fill="#0e5e58" stroke="none" stroke-width="1" />
<circle cx="81.7" cy="526.9" r="2.2" fill="#0e5e58" stroke="none" stroke-width="1" />
<circle cx="87.8" cy="526.9" r="2.2" fill="#0e5e58" stroke="none" stroke-width="1" />
<circle cx="93.4" cy="527.2" r="2.2" fill="#0e5e58" stroke="none" stroke-width="1" />
<circle cx="99.1" cy="527.4" r="2.2" fill="#0e5e58" stroke="none" stroke-width="1" />
<circle cx="44.3" cy="531.3" r="2.2" fill="#0e5e58" stroke="none" stroke-width="1" />
<circle cx="49.8" cy="530.8" r="2.2" fill="#0e5e58" stroke="none" stroke-width="1" />
<circle cx="55.2" cy="531.5" r="2.2" fill="#0e5e58" stroke="none" stroke-width="1" />
<circle cx="61.5" cy="531.5" r="2.2" fill="#0e5e58" stroke="none" stroke-width="1" />
<circle cx="67.8" cy="531.5" r="2.2" fill="#0e5e58" stroke="none" stroke-width="1" />
<circle cx="79.0" cy="531.0" r="2.2" fill="#0e5e58" stroke="none" stroke-width="1" />
<circle cx="85.3" cy="531.7" r="2.2" fill="#0e5e58" stroke="none" stroke-width="1" />
<circle cx="90.9" cy="531.3" r="2.2" fill="#0e5e58" stroke="none" stroke-width="1" />
<circle cx="96.7" cy="530.9" r="2.2" fill="#0e5e58" stroke="none" stroke-width="1" />
<circle cx="101.9" cy="531.3" r="2.2" fill="#0e5e58" stroke="none" stroke-width="1" />
<circle cx="40.8" cy="535.4" r="2.2" fill="#0e5e58" stroke="none" stroke-width="1" />
<circle cx="46.8" cy="535.4" r="2.2" fill="#0e5e58" stroke="none" stroke-width="1" />
<circle cx="52.4" cy="535.5" r="2.2" fill="#0e5e58" stroke="none" stroke-width="1" />
<circle cx="58.5" cy="535.9" r="2.2" fill="#0e5e58" stroke="none" stroke-width="1" />
<circle cx="64.8" cy="535.6" r="2.2" fill="#0e5e58" stroke="none" stroke-width="1" />
<circle cx="82.2" cy="536.0" r="2.2" fill="#0e5e58" stroke="none" stroke-width="1" />
<circle cx="87.0" cy="536.0" r="2.2" fill="#0e5e58" stroke="none" stroke-width="1" />
<circle cx="93.1" cy="535.6" r="2.2" fill="#0e5e58" stroke="none" stroke-width="1" />
<circle cx="99.6" cy="535.8" r="2.2" fill="#0e5e58" stroke="none" stroke-width="1" />
<circle cx="104.6" cy="535.8" r="2.2" fill="#0e5e58" stroke="none" stroke-width="1" />
<circle cx="44.5" cy="539.8" r="2.2" fill="#0e5e58" stroke="none" stroke-width="1" />
<circle cx="50.0" cy="540.1" r="2.2" fill="#0e5e58" stroke="none" stroke-width="1" />
<circle cx="56.1" cy="540.2" r="2.2" fill="#0e5e58" stroke="none" stroke-width="1" />
<circle cx="60.9" cy="539.8" r="2.2" fill="#0e5e58" stroke="none" stroke-width="1" />
<circle cx="67.3" cy="539.5" r="2.2" fill="#0e5e58" stroke="none" stroke-width="1" />
<circle cx="73.1" cy="540.0" r="2.2" fill="#0e5e58" stroke="none" stroke-width="1" />
<circle cx="79.3" cy="540.3" r="2.2" fill="#0e5e58" stroke="none" stroke-width="1" />
<circle cx="84.3" cy="539.6" r="2.2" fill="#0e5e58" stroke="none" stroke-width="1" />
<circle cx="90.7" cy="539.5" r="2.2" fill="#0e5e58" stroke="none" stroke-width="1" />
<circle cx="96.0" cy="540.0" r="2.2" fill="#0e5e58" stroke="none" stroke-width="1" />
<circle cx="101.7" cy="540.2" r="2.2" fill="#0e5e58" stroke="none" stroke-width="1" />
<circle cx="47.6" cy="544.0" r="2.2" fill="#0e5e58" stroke="none" stroke-width="1" />
<circle cx="52.4" cy="544.6" r="2.2" fill="#0e5e58" stroke="none" stroke-width="1" />
<circle cx="59.1" cy="543.9" r="2.2" fill="#0e5e58" stroke="none" stroke-width="1" />
<circle cx="64.3" cy="544.4" r="2.2" fill="#0e5e58" stroke="none" stroke-width="1" />
<circle cx="70.6" cy="543.9" r="2.2" fill="#0e5e58" stroke="none" stroke-width="1" />
<circle cx="76.2" cy="544.5" r="2.2" fill="#0e5e58" stroke="none" stroke-width="1" />
<circle cx="81.9" cy="543.9" r="2.2" fill="#0e5e58" stroke="none" stroke-width="1" />
<circle cx="87.0" cy="544.0" r="2.2" fill="#0e5e58" stroke="none" stroke-width="1" />
<circle cx="93.8" cy="543.7" r="2.2" fill="#0e5e58" stroke="none" stroke-width="1" />
<circle cx="98.6" cy="544.1" r="2.2" fill="#0e5e58" stroke="none" stroke-width="1" />
<circle cx="55.8" cy="548.9" r="2.2" fill="#0e5e58" stroke="none" stroke-width="1" />
<circle cx="62.1" cy="548.2" r="2.2" fill="#0e5e58" stroke="none" stroke-width="1" />
<circle cx="66.7" cy="548.8" r="2.2" fill="#0e5e58" stroke="none" stroke-width="1" />
<circle cx="73.6" cy="548.5" r="2.2" fill="#0e5e58" stroke="none" stroke-width="1" />
<circle cx="79.2" cy="548.9" r="2.2" fill="#0e5e58" stroke="none" stroke-width="1" />
<circle cx="84.8" cy="548.9" r="2.2" fill="#0e5e58" stroke="none" stroke-width="1" />
<circle cx="89.9" cy="548.3" r="2.2" fill="#0e5e58" stroke="none" stroke-width="1" />
<circle cx="64.0" cy="552.7" r="2.2" fill="#0e5e58" stroke="none" stroke-width="1" />
<circle cx="70.1" cy="552.5" r="2.2" fill="#0e5e58" stroke="none" stroke-width="1" />
<circle cx="76.5" cy="553.1" r="2.2" fill="#0e5e58" stroke="none" stroke-width="1" />
<circle cx="81.3" cy="552.7" r="2.2" fill="#0e5e58" stroke="none" stroke-width="1" />
<circle cx="87.3" cy="552.8" r="2.2" fill="#0e5e58" stroke="none" stroke-width="1" />
<circle cx="73.0" cy="557.2" r="2.2" fill="#0e5e58" stroke="none" stroke-width="1" />
<circle cx="78.3" cy="557.6" r="2.2" fill="#0e5e58" stroke="none" stroke-width="1" />
<circle cx="76.2" cy="561.2" r="2.2" fill="#0e5e58" stroke="none" stroke-width="1" />
<path d="M50.2,516.9 L52.9,521.9 L47.5,521.9 Z" stroke="#12786e" stroke-width="0.35" fill="#2cbcae" />
<path d="M50.2,516.9 L51.1,521.9 L48.9,521.9 Z" stroke="none" stroke-width="1" fill="#86ece0" opacity="0.55"/>
<circle cx="50.2" cy="522.1" r="1.1" fill="#38c8b8" stroke="none" stroke-width="1" />
<path d="M55.4,516.5 L58.1,521.5 L52.7,521.5 Z" stroke="#12786e" stroke-width="0.35" fill="#2cbcae" />
<path d="M55.4,516.5 L56.3,521.5 L54.1,521.5 Z" stroke="none" stroke-width="1" fill="#86ece0" opacity="0.55"/>
<circle cx="55.4" cy="521.7" r="1.1" fill="#38c8b8" stroke="none" stroke-width="1" />
<path d="M84.1,516.9 L86.8,521.9 L81.4,521.9 Z" stroke="#12786e" stroke-width="0.35" fill="#2cbcae" />
<path d="M84.1,516.9 L85.0,521.9 L82.8,521.9 Z" stroke="none" stroke-width="1" fill="#86ece0" opacity="0.55"/>
<circle cx="84.1" cy="522.1" r="1.1" fill="#38c8b8" stroke="none" stroke-width="1" />
<path d="M90.7,516.4 L93.4,521.4 L88.0,521.4 Z" stroke="#12786e" stroke-width="0.35" fill="#2cbcae" />
<path d="M90.7,516.4 L91.6,521.4 L89.4,521.4 Z" stroke="none" stroke-width="1" fill="#86ece0" opacity="0.55"/>
<circle cx="90.7" cy="521.6" r="1.1" fill="#38c8b8" stroke="none" stroke-width="1" />
<path d="M96.1,517.4 L98.8,522.4 L93.4,522.4 Z" stroke="#12786e" stroke-width="0.35" fill="#2cbcae" />
<path d="M96.1,517.4 L97.0,522.4 L94.8,522.4 Z" stroke="none" stroke-width="1" fill="#86ece0" opacity="0.55"/>
<circle cx="96.1" cy="522.6" r="1.1" fill="#38c8b8" stroke="none" stroke-width="1" />
<path d="M46.9,521.2 L49.6,526.2 L44.2,526.2 Z" stroke="#12786e" stroke-width="0.35" fill="#2cbcae" />
<path d="M46.9,521.2 L47.8,526.2 L45.6,526.2 Z" stroke="none" stroke-width="1" fill="#86ece0" opacity="0.55"/>
<circle cx="46.9" cy="526.4" r="1.1" fill="#38c8b8" stroke="none" stroke-width="1" />
<path d="M52.1,521.2 L54.8,526.2 L49.4,526.2 Z" stroke="#12786e" stroke-width="0.35" fill="#2cbcae" />
<path d="M52.1,521.2 L53.0,526.2 L50.8,526.2 Z" stroke="none" stroke-width="1" fill="#86ece0" opacity="0.55"/>
<circle cx="52.1" cy="526.4" r="1.1" fill="#38c8b8" stroke="none" stroke-width="1" />
<path d="M58.1,521.2 L60.8,526.2 L55.4,526.2 Z" stroke="#12786e" stroke-width="0.35" fill="#2cbcae" />
<path d="M58.1,521.2 L59.0,526.2 L56.8,526.2 Z" stroke="none" stroke-width="1" fill="#86ece0" opacity="0.55"/>
<circle cx="58.1" cy="526.4" r="1.1" fill="#38c8b8" stroke="none" stroke-width="1" />
<path d="M63.9,521.5 L66.6,526.5 L61.2,526.5 Z" stroke="#12786e" stroke-width="0.35" fill="#2cbcae" />
<path d="M63.9,521.5 L64.8,526.5 L62.6,526.5 Z" stroke="none" stroke-width="1" fill="#86ece0" opacity="0.55"/>
<circle cx="63.9" cy="526.7" r="1.1" fill="#38c8b8" stroke="none" stroke-width="1" />
<path d="M81.4,521.1 L84.1,526.1 L78.7,526.1 Z" stroke="#12786e" stroke-width="0.35" fill="#2cbcae" />
<path d="M81.4,521.1 L82.3,526.1 L80.1,526.1 Z" stroke="none" stroke-width="1" fill="#86ece0" opacity="0.55"/>
<circle cx="81.4" cy="526.3" r="1.1" fill="#38c8b8" stroke="none" stroke-width="1" />
<path d="M87.5,521.1 L90.2,526.1 L84.8,526.1 Z" stroke="#12786e" stroke-width="0.35" fill="#2cbcae" />
<path d="M87.5,521.1 L88.4,526.1 L86.2,526.1 Z" stroke="none" stroke-width="1" fill="#86ece0" opacity="0.55"/>
<circle cx="87.5" cy="526.3" r="1.1" fill="#38c8b8" stroke="none" stroke-width="1" />
<path d="M93.1,521.4 L95.8,526.4 L90.4,526.4 Z" stroke="#12786e" stroke-width="0.35" fill="#2cbcae" />
<path d="M93.1,521.4 L94.0,526.4 L91.8,526.4 Z" stroke="none" stroke-width="1" fill="#86ece0" opacity="0.55"/>
<circle cx="93.1" cy="526.6" r="1.1" fill="#38c8b8" stroke="none" stroke-width="1" />
<path d="M98.8,521.6 L101.5,526.6 L96.1,526.6 Z" stroke="#12786e" stroke-width="0.35" fill="#2cbcae" />
<path d="M98.8,521.6 L99.7,526.6 L97.5,526.6 Z" stroke="none" stroke-width="1" fill="#86ece0" opacity="0.55"/>
<circle cx="98.8" cy="526.8" r="1.1" fill="#38c8b8" stroke="none" stroke-width="1" />
<path d="M44.0,525.5 L46.7,530.5 L41.3,530.5 Z" stroke="#12786e" stroke-width="0.35" fill="#2cbcae" />
<path d="M44.0,525.5 L44.9,530.5 L42.7,530.5 Z" stroke="none" stroke-width="1" fill="#86ece0" opacity="0.55"/>
<circle cx="44.0" cy="530.7" r="1.1" fill="#38c8b8" stroke="none" stroke-width="1" />
<path d="M49.5,525.0 L52.2,530.0 L46.8,530.0 Z" stroke="#12786e" stroke-width="0.35" fill="#2cbcae" />
<path d="M49.5,525.0 L50.4,530.0 L48.2,530.0 Z" stroke="none" stroke-width="1" fill="#86ece0" opacity="0.55"/>
<circle cx="49.5" cy="530.2" r="1.1" fill="#38c8b8" stroke="none" stroke-width="1" />
<path d="M54.9,525.7 L57.6,530.7 L52.2,530.7 Z" stroke="#12786e" stroke-width="0.35" fill="#2cbcae" />
<path d="M54.9,525.7 L55.8,530.7 L53.6,530.7 Z" stroke="none" stroke-width="1" fill="#86ece0" opacity="0.55"/>
<circle cx="54.9" cy="530.9" r="1.1" fill="#38c8b8" stroke="none" stroke-width="1" />
<path d="M61.2,525.7 L63.9,530.7 L58.5,530.7 Z" stroke="#12786e" stroke-width="0.35" fill="#2cbcae" />
<path d="M61.2,525.7 L62.1,530.7 L59.9,530.7 Z" stroke="none" stroke-width="1" fill="#86ece0" opacity="0.55"/>
<circle cx="61.2" cy="530.9" r="1.1" fill="#38c8b8" stroke="none" stroke-width="1" />
<path d="M67.5,525.7 L70.2,530.7 L64.8,530.7 Z" stroke="#12786e" stroke-width="0.35" fill="#2cbcae" />
<path d="M67.5,525.7 L68.4,530.7 L66.2,530.7 Z" stroke="none" stroke-width="1" fill="#86ece0" opacity="0.55"/>
<circle cx="67.5" cy="530.9" r="1.1" fill="#38c8b8" stroke="none" stroke-width="1" />
<path d="M78.7,525.2 L81.4,530.2 L76.0,530.2 Z" stroke="#12786e" stroke-width="0.35" fill="#2cbcae" />
<path d="M78.7,525.2 L79.6,530.2 L77.4,530.2 Z" stroke="none" stroke-width="1" fill="#86ece0" opacity="0.55"/>
<circle cx="78.7" cy="530.4" r="1.1" fill="#38c8b8" stroke="none" stroke-width="1" />
<path d="M85.0,525.9 L87.7,530.9 L82.3,530.9 Z" stroke="#12786e" stroke-width="0.35" fill="#2cbcae" />
<path d="M85.0,525.9 L85.9,530.9 L83.7,530.9 Z" stroke="none" stroke-width="1" fill="#86ece0" opacity="0.55"/>
<circle cx="85.0" cy="531.1" r="1.1" fill="#38c8b8" stroke="none" stroke-width="1" />
<path d="M90.6,525.5 L93.3,530.5 L87.9,530.5 Z" stroke="#12786e" stroke-width="0.35" fill="#2cbcae" />
<path d="M90.6,525.5 L91.5,530.5 L89.3,530.5 Z" stroke="none" stroke-width="1" fill="#86ece0" opacity="0.55"/>
<circle cx="90.6" cy="530.7" r="1.1" fill="#38c8b8" stroke="none" stroke-width="1" />
<path d="M96.4,525.1 L99.1,530.1 L93.7,530.1 Z" stroke="#12786e" stroke-width="0.35" fill="#2cbcae" />
<path d="M96.4,525.1 L97.3,530.1 L95.1,530.1 Z" stroke="none" stroke-width="1" fill="#86ece0" opacity="0.55"/>
<circle cx="96.4" cy="530.3" r="1.1" fill="#38c8b8" stroke="none" stroke-width="1" />
<path d="M101.6,525.5 L104.3,530.5 L98.9,530.5 Z" stroke="#12786e" stroke-width="0.35" fill="#2cbcae" />
<path d="M101.6,525.5 L102.5,530.5 L100.3,530.5 Z" stroke="none" stroke-width="1" fill="#86ece0" opacity="0.55"/>
<circle cx="101.6" cy="530.7" r="1.1" fill="#38c8b8" stroke="none" stroke-width="1" />
<path d="M40.5,529.6 L43.2,534.6 L37.8,534.6 Z" stroke="#12786e" stroke-width="0.35" fill="#2cbcae" />
<path d="M40.5,529.6 L41.4,534.6 L39.2,534.6 Z" stroke="none" stroke-width="1" fill="#86ece0" opacity="0.55"/>
<circle cx="40.5" cy="534.8" r="1.1" fill="#38c8b8" stroke="none" stroke-width="1" />
<path d="M46.5,529.6 L49.2,534.6 L43.8,534.6 Z" stroke="#12786e" stroke-width="0.35" fill="#2cbcae" />
<path d="M46.5,529.6 L47.4,534.6 L45.2,534.6 Z" stroke="none" stroke-width="1" fill="#86ece0" opacity="0.55"/>
<circle cx="46.5" cy="534.8" r="1.1" fill="#38c8b8" stroke="none" stroke-width="1" />
<path d="M52.1,529.7 L54.8,534.7 L49.4,534.7 Z" stroke="#12786e" stroke-width="0.35" fill="#2cbcae" />
<path d="M52.1,529.7 L53.0,534.7 L50.8,534.7 Z" stroke="none" stroke-width="1" fill="#86ece0" opacity="0.55"/>
<circle cx="52.1" cy="534.9" r="1.1" fill="#38c8b8" stroke="none" stroke-width="1" />
<path d="M58.2,530.1 L60.9,535.1 L55.5,535.1 Z" stroke="#12786e" stroke-width="0.35" fill="#2cbcae" />
<path d="M58.2,530.1 L59.1,535.1 L56.9,535.1 Z" stroke="none" stroke-width="1" fill="#86ece0" opacity="0.55"/>
<circle cx="58.2" cy="535.3" r="1.1" fill="#38c8b8" stroke="none" stroke-width="1" />
<path d="M64.5,529.8 L67.2,534.8 L61.8,534.8 Z" stroke="#12786e" stroke-width="0.35" fill="#2cbcae" />
<path d="M64.5,529.8 L65.4,534.8 L63.2,534.8 Z" stroke="none" stroke-width="1" fill="#86ece0" opacity="0.55"/>
<circle cx="64.5" cy="535.0" r="1.1" fill="#38c8b8" stroke="none" stroke-width="1" />
<path d="M81.9,530.2 L84.6,535.2 L79.2,535.2 Z" stroke="#12786e" stroke-width="0.35" fill="#2cbcae" />
<path d="M81.9,530.2 L82.8,535.2 L80.6,535.2 Z" stroke="none" stroke-width="1" fill="#86ece0" opacity="0.55"/>
<circle cx="81.9" cy="535.4" r="1.1" fill="#38c8b8" stroke="none" stroke-width="1" />
<path d="M86.7,530.2 L89.4,535.2 L84.0,535.2 Z" stroke="#12786e" stroke-width="0.35" fill="#2cbcae" />
<path d="M86.7,530.2 L87.6,535.2 L85.4,535.2 Z" stroke="none" stroke-width="1" fill="#86ece0" opacity="0.55"/>
<circle cx="86.7" cy="535.4" r="1.1" fill="#38c8b8" stroke="none" stroke-width="1" />
<path d="M92.8,529.8 L95.5,534.8 L90.1,534.8 Z" stroke="#12786e" stroke-width="0.35" fill="#2cbcae" />
<path d="M92.8,529.8 L93.7,534.8 L91.5,534.8 Z" stroke="none" stroke-width="1" fill="#86ece0" opacity="0.55"/>
<circle cx="92.8" cy="535.0" r="1.1" fill="#38c8b8" stroke="none" stroke-width="1" />
<path d="M99.3,530.0 L102.0,535.0 L96.6,535.0 Z" stroke="#12786e" stroke-width="0.35" fill="#2cbcae" />
<path d="M99.3,530.0 L100.2,535.0 L98.0,535.0 Z" stroke="none" stroke-width="1" fill="#86ece0" opacity="0.55"/>
<circle cx="99.3" cy="535.2" r="1.1" fill="#38c8b8" stroke="none" stroke-width="1" />
<path d="M104.3,530.0 L107.0,535.0 L101.6,535.0 Z" stroke="#12786e" stroke-width="0.35" fill="#2cbcae" />
<path d="M104.3,530.0 L105.2,535.0 L103.0,535.0 Z" stroke="none" stroke-width="1" fill="#86ece0" opacity="0.55"/>
<circle cx="104.3" cy="535.2" r="1.1" fill="#38c8b8" stroke="none" stroke-width="1" />
<path d="M44.2,534.0 L46.9,539.0 L41.5,539.0 Z" stroke="#12786e" stroke-width="0.35" fill="#2cbcae" />
<path d="M44.2,534.0 L45.1,539.0 L42.9,539.0 Z" stroke="none" stroke-width="1" fill="#86ece0" opacity="0.55"/>
<circle cx="44.2" cy="539.2" r="1.1" fill="#38c8b8" stroke="none" stroke-width="1" />
<path d="M49.7,534.3 L52.4,539.3 L47.0,539.3 Z" stroke="#12786e" stroke-width="0.35" fill="#2cbcae" />
<path d="M49.7,534.3 L50.6,539.3 L48.4,539.3 Z" stroke="none" stroke-width="1" fill="#86ece0" opacity="0.55"/>
<circle cx="49.7" cy="539.5" r="1.1" fill="#38c8b8" stroke="none" stroke-width="1" />
<path d="M55.8,534.4 L58.5,539.4 L53.1,539.4 Z" stroke="#12786e" stroke-width="0.35" fill="#2cbcae" />
<path d="M55.8,534.4 L56.7,539.4 L54.5,539.4 Z" stroke="none" stroke-width="1" fill="#86ece0" opacity="0.55"/>
<circle cx="55.8" cy="539.6" r="1.1" fill="#38c8b8" stroke="none" stroke-width="1" />
<path d="M60.6,534.0 L63.3,539.0 L57.9,539.0 Z" stroke="#12786e" stroke-width="0.35" fill="#2cbcae" />
<path d="M60.6,534.0 L61.5,539.0 L59.3,539.0 Z" stroke="none" stroke-width="1" fill="#86ece0" opacity="0.55"/>
<circle cx="60.6" cy="539.2" r="1.1" fill="#38c8b8" stroke="none" stroke-width="1" />
<path d="M67.0,533.7 L69.7,538.7 L64.3,538.7 Z" stroke="#12786e" stroke-width="0.35" fill="#2cbcae" />
<path d="M67.0,533.7 L67.9,538.7 L65.7,538.7 Z" stroke="none" stroke-width="1" fill="#86ece0" opacity="0.55"/>
<circle cx="67.0" cy="538.9" r="1.1" fill="#38c8b8" stroke="none" stroke-width="1" />
<path d="M72.8,534.2 L75.5,539.2 L70.1,539.2 Z" stroke="#12786e" stroke-width="0.35" fill="#2cbcae" />
<path d="M72.8,534.2 L73.7,539.2 L71.5,539.2 Z" stroke="none" stroke-width="1" fill="#86ece0" opacity="0.55"/>
<circle cx="72.8" cy="539.4" r="1.1" fill="#38c8b8" stroke="none" stroke-width="1" />
<path d="M79.0,534.5 L81.7,539.5 L76.3,539.5 Z" stroke="#12786e" stroke-width="0.35" fill="#2cbcae" />
<path d="M79.0,534.5 L79.9,539.5 L77.7,539.5 Z" stroke="none" stroke-width="1" fill="#86ece0" opacity="0.55"/>
<circle cx="79.0" cy="539.7" r="1.1" fill="#38c8b8" stroke="none" stroke-width="1" />
<path d="M84.0,533.8 L86.7,538.8 L81.3,538.8 Z" stroke="#12786e" stroke-width="0.35" fill="#2cbcae" />
<path d="M84.0,533.8 L84.9,538.8 L82.7,538.8 Z" stroke="none" stroke-width="1" fill="#86ece0" opacity="0.55"/>
<circle cx="84.0" cy="539.0" r="1.1" fill="#38c8b8" stroke="none" stroke-width="1" />
<path d="M90.4,533.7 L93.1,538.7 L87.7,538.7 Z" stroke="#12786e" stroke-width="0.35" fill="#2cbcae" />
<path d="M90.4,533.7 L91.3,538.7 L89.1,538.7 Z" stroke="none" stroke-width="1" fill="#86ece0" opacity="0.55"/>
<circle cx="90.4" cy="538.9" r="1.1" fill="#38c8b8" stroke="none" stroke-width="1" />
<path d="M95.7,534.2 L98.4,539.2 L93.0,539.2 Z" stroke="#12786e" stroke-width="0.35" fill="#2cbcae" />
<path d="M95.7,534.2 L96.6,539.2 L94.4,539.2 Z" stroke="none" stroke-width="1" fill="#86ece0" opacity="0.55"/>
<circle cx="95.7" cy="539.4" r="1.1" fill="#38c8b8" stroke="none" stroke-width="1" />
<path d="M101.4,534.4 L104.1,539.4 L98.7,539.4 Z" stroke="#12786e" stroke-width="0.35" fill="#2cbcae" />
<path d="M101.4,534.4 L102.3,539.4 L100.1,539.4 Z" stroke="none" stroke-width="1" fill="#86ece0" opacity="0.55"/>
<circle cx="101.4" cy="539.6" r="1.1" fill="#38c8b8" stroke="none" stroke-width="1" />
<path d="M47.3,538.2 L50.0,543.2 L44.6,543.2 Z" stroke="#12786e" stroke-width="0.35" fill="#2cbcae" />
<path d="M47.3,538.2 L48.2,543.2 L46.0,543.2 Z" stroke="none" stroke-width="1" fill="#86ece0" opacity="0.55"/>
<circle cx="47.3" cy="543.4" r="1.1" fill="#38c8b8" stroke="none" stroke-width="1" />
<path d="M52.1,538.8 L54.8,543.8 L49.4,543.8 Z" stroke="#12786e" stroke-width="0.35" fill="#2cbcae" />
<path d="M52.1,538.8 L53.0,543.8 L50.8,543.8 Z" stroke="none" stroke-width="1" fill="#86ece0" opacity="0.55"/>
<circle cx="52.1" cy="544.0" r="1.1" fill="#38c8b8" stroke="none" stroke-width="1" />
<path d="M58.8,538.1 L61.5,543.1 L56.1,543.1 Z" stroke="#12786e" stroke-width="0.35" fill="#2cbcae" />
<path d="M58.8,538.1 L59.7,543.1 L57.5,543.1 Z" stroke="none" stroke-width="1" fill="#86ece0" opacity="0.55"/>
<circle cx="58.8" cy="543.3" r="1.1" fill="#38c8b8" stroke="none" stroke-width="1" />
<path d="M64.0,538.6 L66.7,543.6 L61.3,543.6 Z" stroke="#12786e" stroke-width="0.35" fill="#2cbcae" />
<path d="M64.0,538.6 L64.9,543.6 L62.7,543.6 Z" stroke="none" stroke-width="1" fill="#86ece0" opacity="0.55"/>
<circle cx="64.0" cy="543.8" r="1.1" fill="#38c8b8" stroke="none" stroke-width="1" />
<path d="M70.3,538.1 L73.0,543.1 L67.6,543.1 Z" stroke="#12786e" stroke-width="0.35" fill="#2cbcae" />
<path d="M70.3,538.1 L71.2,543.1 L69.0,543.1 Z" stroke="none" stroke-width="1" fill="#86ece0" opacity="0.55"/>
<circle cx="70.3" cy="543.3" r="1.1" fill="#38c8b8" stroke="none" stroke-width="1" />
<path d="M75.9,538.7 L78.6,543.7 L73.2,543.7 Z" stroke="#12786e" stroke-width="0.35" fill="#2cbcae" />
<path d="M75.9,538.7 L76.8,543.7 L74.6,543.7 Z" stroke="none" stroke-width="1" fill="#86ece0" opacity="0.55"/>
<circle cx="75.9" cy="543.9" r="1.1" fill="#38c8b8" stroke="none" stroke-width="1" />
<path d="M81.6,538.1 L84.3,543.1 L78.9,543.1 Z" stroke="#12786e" stroke-width="0.35" fill="#2cbcae" />
<path d="M81.6,538.1 L82.5,543.1 L80.3,543.1 Z" stroke="none" stroke-width="1" fill="#86ece0" opacity="0.55"/>
<circle cx="81.6" cy="543.3" r="1.1" fill="#38c8b8" stroke="none" stroke-width="1" />
<path d="M86.7,538.2 L89.4,543.2 L84.0,543.2 Z" stroke="#12786e" stroke-width="0.35" fill="#2cbcae" />
<path d="M86.7,538.2 L87.6,543.2 L85.4,543.2 Z" stroke="none" stroke-width="1" fill="#86ece0" opacity="0.55"/>
<circle cx="86.7" cy="543.4" r="1.1" fill="#38c8b8" stroke="none" stroke-width="1" />
<path d="M93.5,537.9 L96.2,542.9 L90.8,542.9 Z" stroke="#12786e" stroke-width="0.35" fill="#2cbcae" />
<path d="M93.5,537.9 L94.4,542.9 L92.2,542.9 Z" stroke="none" stroke-width="1" fill="#86ece0" opacity="0.55"/>
<circle cx="93.5" cy="543.1" r="1.1" fill="#38c8b8" stroke="none" stroke-width="1" />
<path d="M98.3,538.3 L101.0,543.3 L95.6,543.3 Z" stroke="#12786e" stroke-width="0.35" fill="#2cbcae" />
<path d="M98.3,538.3 L99.2,543.3 L97.0,543.3 Z" stroke="none" stroke-width="1" fill="#86ece0" opacity="0.55"/>
<circle cx="98.3" cy="543.5" r="1.1" fill="#38c8b8" stroke="none" stroke-width="1" />
<path d="M55.5,543.1 L58.2,548.1 L52.8,548.1 Z" stroke="#12786e" stroke-width="0.35" fill="#2cbcae" />
<path d="M55.5,543.1 L56.4,548.1 L54.2,548.1 Z" stroke="none" stroke-width="1" fill="#86ece0" opacity="0.55"/>
<circle cx="55.5" cy="548.3" r="1.1" fill="#38c8b8" stroke="none" stroke-width="1" />
<path d="M61.8,542.4 L64.5,547.4 L59.1,547.4 Z" stroke="#12786e" stroke-width="0.35" fill="#2cbcae" />
<path d="M61.8,542.4 L62.7,547.4 L60.5,547.4 Z" stroke="none" stroke-width="1" fill="#86ece0" opacity="0.55"/>
<circle cx="61.8" cy="547.6" r="1.1" fill="#38c8b8" stroke="none" stroke-width="1" />
<path d="M66.4,543.0 L69.1,548.0 L63.7,548.0 Z" stroke="#12786e" stroke-width="0.35" fill="#2cbcae" />
<path d="M66.4,543.0 L67.3,548.0 L65.1,548.0 Z" stroke="none" stroke-width="1" fill="#86ece0" opacity="0.55"/>
<circle cx="66.4" cy="548.2" r="1.1" fill="#38c8b8" stroke="none" stroke-width="1" />
<path d="M73.3,542.7 L76.0,547.7 L70.6,547.7 Z" stroke="#12786e" stroke-width="0.35" fill="#2cbcae" />
<path d="M73.3,542.7 L74.2,547.7 L72.0,547.7 Z" stroke="none" stroke-width="1" fill="#86ece0" opacity="0.55"/>
<circle cx="73.3" cy="547.9" r="1.1" fill="#38c8b8" stroke="none" stroke-width="1" />
<path d="M78.9,543.1 L81.6,548.1 L76.2,548.1 Z" stroke="#12786e" stroke-width="0.35" fill="#2cbcae" />
<path d="M78.9,543.1 L79.8,548.1 L77.6,548.1 Z" stroke="none" stroke-width="1" fill="#86ece0" opacity="0.55"/>
<circle cx="78.9" cy="548.3" r="1.1" fill="#38c8b8" stroke="none" stroke-width="1" />
<path d="M84.5,543.1 L87.2,548.1 L81.8,548.1 Z" stroke="#12786e" stroke-width="0.35" fill="#2cbcae" />
<path d="M84.5,543.1 L85.4,548.1 L83.2,548.1 Z" stroke="none" stroke-width="1" fill="#86ece0" opacity="0.55"/>
<circle cx="84.5" cy="548.3" r="1.1" fill="#38c8b8" stroke="none" stroke-width="1" />
<path d="M89.6,542.5 L92.3,547.5 L86.9,547.5 Z" stroke="#12786e" stroke-width="0.35" fill="#2cbcae" />
<path d="M89.6,542.5 L90.5,547.5 L88.3,547.5 Z" stroke="none" stroke-width="1" fill="#86ece0" opacity="0.55"/>
<circle cx="89.6" cy="547.7" r="1.1" fill="#38c8b8" stroke="none" stroke-width="1" />
<path d="M63.7,546.9 L66.4,551.9 L61.0,551.9 Z" stroke="#12786e" stroke-width="0.35" fill="#2cbcae" />
<path d="M63.7,546.9 L64.6,551.9 L62.4,551.9 Z" stroke="none" stroke-width="1" fill="#86ece0" opacity="0.55"/>
<circle cx="63.7" cy="552.1" r="1.1" fill="#38c8b8" stroke="none" stroke-width="1" />
<path d="M69.8,546.7 L72.5,551.7 L67.1,551.7 Z" stroke="#12786e" stroke-width="0.35" fill="#2cbcae" />
<path d="M69.8,546.7 L70.7,551.7 L68.5,551.7 Z" stroke="none" stroke-width="1" fill="#86ece0" opacity="0.55"/>
<circle cx="69.8" cy="551.9" r="1.1" fill="#38c8b8" stroke="none" stroke-width="1" />
<path d="M76.2,547.3 L78.9,552.3 L73.5,552.3 Z" stroke="#12786e" stroke-width="0.35" fill="#2cbcae" />
<path d="M76.2,547.3 L77.1,552.3 L74.9,552.3 Z" stroke="none" stroke-width="1" fill="#86ece0" opacity="0.55"/>
<circle cx="76.2" cy="552.5" r="1.1" fill="#38c8b8" stroke="none" stroke-width="1" />
<path d="M81.0,546.9 L83.7,551.9 L78.3,551.9 Z" stroke="#12786e" stroke-width="0.35" fill="#2cbcae" />
<path d="M81.0,546.9 L81.9,551.9 L79.7,551.9 Z" stroke="none" stroke-width="1" fill="#86ece0" opacity="0.55"/>
<circle cx="81.0" cy="552.1" r="1.1" fill="#38c8b8" stroke="none" stroke-width="1" />
<path d="M87.0,547.0 L89.7,552.0 L84.3,552.0 Z" stroke="#12786e" stroke-width="0.35" fill="#2cbcae" />
<path d="M87.0,547.0 L87.9,552.0 L85.7,552.0 Z" stroke="none" stroke-width="1" fill="#86ece0" opacity="0.55"/>
<circle cx="87.0" cy="552.2" r="1.1" fill="#38c8b8" stroke="none" stroke-width="1" />
<path d="M72.7,551.4 L75.4,556.4 L70.0,556.4 Z" stroke="#12786e" stroke-width="0.35" fill="#2cbcae" />
<path d="M72.7,551.4 L73.6,556.4 L71.4,556.4 Z" stroke="none" stroke-width="1" fill="#86ece0" opacity="0.55"/>
<circle cx="72.7" cy="556.6" r="1.1" fill="#38c8b8" stroke="none" stroke-width="1" />
<path d="M78.0,551.8 L80.7,556.8 L75.3,556.8 Z" stroke="#12786e" stroke-width="0.35" fill="#2cbcae" />
<path d="M78.0,551.8 L78.9,556.8 L76.7,556.8 Z" stroke="none" stroke-width="1" fill="#86ece0" opacity="0.55"/>
<circle cx="78.0" cy="557.0" r="1.1" fill="#38c8b8" stroke="none" stroke-width="1" />
<path d="M75.9,555.4 L78.6,560.4 L73.2,560.4 Z" stroke="#12786e" stroke-width="0.35" fill="#2cbcae" />
<path d="M75.9,555.4 L76.8,560.4 L74.6,560.4 Z" stroke="none" stroke-width="1" fill="#86ece0" opacity="0.55"/>
<circle cx="75.9" cy="560.6" r="1.1" fill="#38c8b8" stroke="none" stroke-width="1" />
</g>
<text x="178.3" y="460" font-size="11.5" fill="#111" text-anchor="start" font-weight="bold" font-style="normal" stroke="#111" stroke-width="0.25" >(g)</text>
<defs>
<linearGradient id="tg" x1="0" y1="0" x2="0" y2="1"><stop offset="0" stop-color="#3ab4c4"/><stop offset="0.5" stop-color="#6cc8b4"/><stop offset="1" stop-color="#e2e068"/></linearGradient>
<linearGradient id="tg2" x1="0" y1="0" x2="1" y2="1"><stop offset="0" stop-color="#2aa8a8"/><stop offset="1" stop-color="#28a0a8"/></linearGradient>
<linearGradient id="tgr" x1="0" y1="0" x2="1" y2="1"><stop offset="0" stop-color="#1aa0a8"/><stop offset="0.5" stop-color="#60c4b0"/><stop offset="1" stop-color="#f0e468"/></linearGradient>
<linearGradient id="bolt" x1="0" y1="0" x2="0" y2="1"><stop offset="0" stop-color="#f04030"/><stop offset="0.5" stop-color="#f8a020"/><stop offset="1" stop-color="#a050c0"/></linearGradient>
<linearGradient id="wavy" x1="0" y1="1" x2="0" y2="0"><stop offset="0" stop-color="#f8b830"/><stop offset="1" stop-color="#d83a30"/></linearGradient>
</defs>
<text x="203.4" y="463.2" font-size="11" fill="#1c2766" text-anchor="start" font-weight="bold" font-style="normal" stroke="#1c2766" stroke-width="0.25" >MoS<tspan font-size="7.5" dy="2">2</tspan></text>
<text x="302" y="463.2" font-size="11" fill="#7a3aaa" text-anchor="start" font-weight="bold" font-style="normal" stroke="#7a3aaa" stroke-width="0.25" >CsPbBr<tspan font-size="7.5" dy="2">3</tspan></text>
<path d="M198.8,506 C222,505.5 240,501 249.3,494 L249.3,509 C240,515 222,520.5 198.8,521 Z" stroke="#d88a84" stroke-width="0.9" fill="url(#tg)" />
<path d="M198.8,551.5 C222,551 240,547 249.3,539.5 L249.3,556 C240,562 222,566.5 198.8,567 Z" stroke="#d88a84" stroke-width="0.9" fill="url(#tg)" />
<path d="M251.7,480 C256,472 268,468 290,467.5 L333.6,467.5 L333.6,484.3 L292,484.3 C270,485 258,490 251.7,496 Z" stroke="#d88a84" stroke-width="0.9" fill="url(#tg2)" />
<path d="M251.7,569.6 C256,562 268,557 290,556.2 L333.6,556.2 L333.6,572.3 L292,572.3 C270,572.8 258,574.5 251.7,577 Z" stroke="#d88a84" stroke-width="0.9" fill="url(#tg2)" />
<text x="200.3" y="515.7" font-size="9.2" fill="#4a2a8c" text-anchor="start" font-weight="bold" font-style="normal" textLength="40.8" lengthAdjust="spacingAndGlyphs" stroke="#4a2a8c" stroke-width="0.25" >−4.472 eV</text>
<text x="200.3" y="561.3" font-size="9.2" fill="#4a2a8c" text-anchor="start" font-weight="bold" font-style="normal" textLength="40.8" lengthAdjust="spacingAndGlyphs" stroke="#4a2a8c" stroke-width="0.25" >−5.858 eV</text>
<text x="286.5" y="478.4" font-size="9.2" fill="#4a2a8c" text-anchor="start" font-weight="bold" font-style="normal" textLength="40.8" lengthAdjust="spacingAndGlyphs" stroke="#4a2a8c" stroke-width="0.25" >−2.228 eV</text>
<text x="288.1" y="568.7" font-size="9.2" fill="#4a2a8c" text-anchor="start" font-weight="bold" font-style="normal" textLength="40.5" lengthAdjust="spacingAndGlyphs" stroke="#4a2a8c" stroke-width="0.25" >−5.959 eV</text>
<line x1="199.9" y1="528.2" x2="336" y2="528.2" stroke="#7e3fb0" stroke-width="1.9" stroke-dasharray="8.9 7"/>
<text x="184.8" y="513" font-size="11" fill="#1c2766" text-anchor="start" font-weight="bold" font-style="italic" stroke="#1c2766" stroke-width="0.25" >E<tspan font-size="7" dy="1.8">c</tspan></text>
<text x="184.8" y="532.3" font-size="11" fill="#1c2766" text-anchor="start" font-weight="bold" font-style="italic" stroke="#1c2766" stroke-width="0.25" >E<tspan font-size="7" dy="1.8">f</tspan></text>
<text x="184.8" y="561.5" font-size="11" fill="#1c2766" text-anchor="start" font-weight="bold" font-style="italic" stroke="#1c2766" stroke-width="0.25" >E<tspan font-size="7" dy="1.8">v</tspan></text>
<circle cx="274.7" cy="462.7" r="4.2" fill="#3cb040" stroke="#2a8030" stroke-width="0.5" />
<circle cx="273.9" cy="461.8" r="2.3100000000000005" fill="#7cd870" stroke="none" stroke-width="1" opacity="0.6"/>
<line x1="272.59999999999997" y1="462.7" x2="276.8" y2="462.7" stroke="#f4f4f4" stroke-width="1.0" />
<circle cx="290.4" cy="462.7" r="4.2" fill="#3cb040" stroke="#2a8030" stroke-width="0.5" />
<circle cx="289.6" cy="461.8" r="2.3100000000000005" fill="#7cd870" stroke="none" stroke-width="1" opacity="0.6"/>
<line x1="288.29999999999995" y1="462.7" x2="292.5" y2="462.7" stroke="#f4f4f4" stroke-width="1.0" />
<circle cx="231.2" cy="498.5" r="4.2" fill="#3cb040" stroke="#2a8030" stroke-width="0.5" />
<circle cx="230.4" cy="497.6" r="2.3100000000000005" fill="#7cd870" stroke="none" stroke-width="1" opacity="0.6"/>
<line x1="229.1" y1="498.5" x2="233.29999999999998" y2="498.5" stroke="#f4f4f4" stroke-width="1.0" />
<circle cx="241.2" cy="491.9" r="4.2" fill="#3cb040" stroke="#2a8030" stroke-width="0.5" />
<circle cx="240.4" cy="491.0" r="2.3100000000000005" fill="#7cd870" stroke="none" stroke-width="1" opacity="0.6"/>
<line x1="239.1" y1="491.9" x2="243.29999999999998" y2="491.9" stroke="#f4f4f4" stroke-width="1.0" />
<path d="M268,466 C258,467 248,472 243,479" stroke="#f0a830" stroke-width="3.6" fill="none" />
<path d="M238.5,484 L239.5,475 L247,479.5 Z" stroke="none" stroke-width="1" fill="#f0a830" />
<line x1="249.3" y1="557" x2="249.3" y2="569" stroke="#222" stroke-width="0.8" />
<path d="M249.3,555.4 L247.8,558.5 L250.8,558.5 Z" stroke="none" stroke-width="1" fill="#222" />
<path d="M249.3,570.5 L247.8,567.4 L250.8,567.4 Z" stroke="none" stroke-width="1" fill="#222" />
<line x1="238" y1="577.8" x2="262" y2="577.8" stroke="#f0a830" stroke-width="3.0" stroke-dasharray="6 2.5"/>
<path d="M229.5,577.8 L239,572.8 L239,582.8 Z" stroke="none" stroke-width="1" fill="#e2702a" />
<path d="M269.5,573 L277.5,582.5 M277.5,573 L269.5,582.5" stroke="#e83030" stroke-width="2.2" fill="none" />
<circle cx="290.4" cy="577.8" r="4.2" fill="#3a4cb0" stroke="#243080" stroke-width="0.5" />
<line x1="288.2" y1="577.8" x2="292.59999999999997" y2="577.8" stroke="#f0d040" stroke-width="1.0" />
<line x1="290.4" y1="575.5999999999999" x2="290.4" y2="580.0" stroke="#f0d040" stroke-width="1.0" />
<circle cx="303.1" cy="577.8" r="4.2" fill="#3a4cb0" stroke="#243080" stroke-width="0.5" />
<line x1="300.90000000000003" y1="577.8" x2="305.3" y2="577.8" stroke="#f0d040" stroke-width="1.0" />
<line x1="303.1" y1="575.5999999999999" x2="303.1" y2="580.0" stroke="#f0d040" stroke-width="1.0" />
<circle cx="315.5" cy="577.8" r="4.2" fill="#3a4cb0" stroke="#243080" stroke-width="0.5" />
<line x1="313.3" y1="577.8" x2="317.7" y2="577.8" stroke="#f0d040" stroke-width="1.0" />
<line x1="315.5" y1="575.5999999999999" x2="315.5" y2="580.0" stroke="#f0d040" stroke-width="1.0" />
<circle cx="328.2" cy="577.8" r="4.2" fill="#3a4cb0" stroke="#243080" stroke-width="0.5" />
<line x1="326.0" y1="577.8" x2="330.4" y2="577.8" stroke="#f0d040" stroke-width="1.0" />
<line x1="328.2" y1="575.5999999999999" x2="328.2" y2="580.0" stroke="#f0d040" stroke-width="1.0" />
<path d="M301.5,553.7 Q305.5,550.45 301.5,547.2 Q297.5,543.95 301.5,540.7 Q305.5,537.45 301.5,534.2 Q297.5,530.95 301.5,527.7 Q305.5,524.45 301.5,521.2 Q297.5,517.95 301.5,514.7 Q305.5,511.45000000000005 301.5,508.20000000000005 Q297.5,504.95000000000005 301.5,501.70000000000005 Q305.5,498.45000000000005 301.5,495.20000000000005 Q297.5,491.95000000000005 301.5,488.70000000000005" stroke="url(#wavy)" stroke-width="2.2" fill="none" />
<path d="M301.2,487 L297.8,494 L304.6,494 Z" stroke="none" stroke-width="1" fill="#d83a30" />
<path d="M336,484 L350,486 L339,497.5 L345,499.5 L318,521 L330,504 L323.5,502 Z" stroke="none" stroke-width="1" fill="url(#bolt)" />
<text x="377" y="463.3" font-size="11" fill="#1c2766" text-anchor="start" font-weight="bold" font-style="normal" stroke="#1c2766" stroke-width="0.25" >MoS<tspan font-size="7.5" dy="2">2</tspan></text>
<text x="469" y="463.3" font-size="11" fill="#7a3aaa" text-anchor="start" font-weight="bold" font-style="normal" stroke="#7a3aaa" stroke-width="0.25" >CsPbBr<tspan font-size="7.5" dy="2">3</tspan></text>
<path d="M379.8,486 L402,486 C415,487 425,493 429.8,500 L429.8,517.6 C420,510 410,505 395,504.6 L379.8,504.6 Z" stroke="#d88a84" stroke-width="0.9" fill="url(#tgr)" />
<path d="M379.8,537 L402,537 C415,538 425,543 429.8,548.8 L429.8,565.9 C420,560 410,556 395,555.6 L379.8,555.6 Z" stroke="#d88a84" stroke-width="0.9" fill="url(#tgr)" />
<path d="M431.5,457 C440,462 450,468 470,469.5 L514.2,470 L514.2,486 L470,485.5 C452,484 440,479 431.5,475.7 Z" stroke="#d88a84" stroke-width="0.9" fill="url(#tg2)" />
<path d="M431.5,542 C440,548 452,553 470,554 L514.2,554.4 L514.2,571 L470,570.5 C452,569 440,564 431.5,560.7 Z" stroke="#d88a84" stroke-width="0.9" fill="url(#tg2)" />
<text x="382.2" y="504.6" font-size="9.2" fill="#4a2a8c" text-anchor="start" font-weight="bold" font-style="normal" textLength="39.8" lengthAdjust="spacingAndGlyphs" stroke="#4a2a8c" stroke-width="0.25" >−4.472 eV</text>
<text x="382.2" y="553.5" font-size="9.2" fill="#4a2a8c" text-anchor="start" font-weight="bold" font-style="normal" textLength="40.8" lengthAdjust="spacingAndGlyphs" stroke="#4a2a8c" stroke-width="0.25" >−5.858 eV</text>
<text x="470.6" y="484.3" font-size="9.2" fill="#4a2a8c" text-anchor="start" font-weight="bold" font-style="normal" textLength="35.8" lengthAdjust="spacingAndGlyphs" stroke="#4a2a8c" stroke-width="0.25" >−2.228 eV</text>
<text x="470.6" y="566.7" font-size="9.2" fill="#4a2a8c" text-anchor="start" font-weight="bold" font-style="normal" textLength="37.4" lengthAdjust="spacingAndGlyphs" stroke="#4a2a8c" stroke-width="0.25" >−5.959 eV</text>
<line x1="379.7" y1="517.9" x2="503" y2="517.9" stroke="#7e3fb0" stroke-width="1.9" stroke-dasharray="9.4 6.7"/>
<text x="365" y="503" font-size="11" fill="#1c2766" text-anchor="start" font-weight="bold" font-style="italic" stroke="#1c2766" stroke-width="0.25" >E<tspan font-size="7" dy="1.8">c</tspan></text>
<text x="365" y="520" font-size="11" fill="#1c2766" text-anchor="start" font-weight="bold" font-style="italic" stroke="#1c2766" stroke-width="0.25" >E<tspan font-size="7" dy="1.8">f</tspan></text>
<text x="365" y="549.5" font-size="11" fill="#1c2766" text-anchor="start" font-weight="bold" font-style="italic" stroke="#1c2766" stroke-width="0.25" >E<tspan font-size="7" dy="1.8">v</tspan></text>
<rect x="404.8" y="465.6" width="25.2" height="27.6" fill="none" stroke="#2a3470" stroke-width="1.3" stroke-dasharray="3.5 2.2"/>
<circle cx="412.4" cy="471.8" r="4.2" fill="#3cb040" stroke="#2a8030" stroke-width="0.5" />
<circle cx="411.6" cy="470.9" r="2.3100000000000005" fill="#7cd870" stroke="none" stroke-width="1" opacity="0.6"/>
<line x1="410.29999999999995" y1="471.8" x2="414.5" y2="471.8" stroke="#f4f4f4" stroke-width="1.0" />
<circle cx="423.0" cy="474.9" r="4.2" fill="#3cb040" stroke="#2a8030" stroke-width="0.5" />
<circle cx="422.2" cy="474.0" r="2.3100000000000005" fill="#7cd870" stroke="none" stroke-width="1" opacity="0.6"/>
<line x1="420.9" y1="474.9" x2="425.1" y2="474.9" stroke="#f4f4f4" stroke-width="1.0" />
<circle cx="412.4" cy="482.3" r="4.2" fill="#3cb040" stroke="#2a8030" stroke-width="0.5" />
<circle cx="411.6" cy="481.4" r="2.3100000000000005" fill="#7cd870" stroke="none" stroke-width="1" opacity="0.6"/>
<line x1="410.29999999999995" y1="482.3" x2="414.5" y2="482.3" stroke="#f4f4f4" stroke-width="1.0" />
<circle cx="423.0" cy="487.4" r="4.2" fill="#3cb040" stroke="#2a8030" stroke-width="0.5" />
<circle cx="422.2" cy="486.5" r="2.3100000000000005" fill="#7cd870" stroke="none" stroke-width="1" opacity="0.6"/>
<line x1="420.9" y1="487.4" x2="425.1" y2="487.4" stroke="#f4f4f4" stroke-width="1.0" />
<rect x="463.2" y="573.7" width="52.3" height="11.9" fill="none" stroke="#2a3470" stroke-width="1.2" stroke-dasharray="3.5 2"/>
<circle cx="470.6" cy="579.6" r="4.2" fill="#3a4cb0" stroke="#243080" stroke-width="0.5" />
<line x1="468.40000000000003" y1="579.6" x2="472.8" y2="579.6" stroke="#f0d040" stroke-width="1.0" />
<line x1="470.6" y1="577.4" x2="470.6" y2="581.8000000000001" stroke="#f0d040" stroke-width="1.0" />
<circle cx="482.5" cy="579.6" r="4.2" fill="#3a4cb0" stroke="#243080" stroke-width="0.5" />
<line x1="480.3" y1="579.6" x2="484.7" y2="579.6" stroke="#f0d040" stroke-width="1.0" />
<line x1="482.5" y1="577.4" x2="482.5" y2="581.8000000000001" stroke="#f0d040" stroke-width="1.0" />
<circle cx="497.9" cy="579.6" r="4.2" fill="#3a4cb0" stroke="#243080" stroke-width="0.5" />
<line x1="495.7" y1="579.6" x2="500.09999999999997" y2="579.6" stroke="#f0d040" stroke-width="1.0" />
<line x1="497.9" y1="577.4" x2="497.9" y2="581.8000000000001" stroke="#f0d040" stroke-width="1.0" />
<circle cx="509.8" cy="579.6" r="4.2" fill="#3a4cb0" stroke="#243080" stroke-width="0.5" />
<line x1="507.6" y1="579.6" x2="512.0" y2="579.6" stroke="#f0d040" stroke-width="1.0" />
<line x1="509.8" y1="577.4" x2="509.8" y2="581.8000000000001" stroke="#f0d040" stroke-width="1.0" />
<text x="453.6" y="595.3" font-size="10.5" fill="#1c2766" text-anchor="start" font-weight="bold" font-style="normal" textLength="75" lengthAdjust="spacingAndGlyphs" stroke="#1c2766" stroke-width="0.25" >Trapped holes</text>
<text x="4.7" y="633.2" font-size="11.5" fill="#111" text-anchor="start" font-weight="bold" font-style="normal" stroke="#111" stroke-width="0.25" >(h)</text>
<defs>
<linearGradient id="redglow" x1="0" y1="0" x2="0" y2="1"><stop offset="0" stop-color="#f8d4d8"/><stop offset="0.45" stop-color="#f5a0a6"/><stop offset="0.75" stop-color="#f05860"/><stop offset="0.92" stop-color="#ee3840"/><stop offset="1" stop-color="#f25058"/></linearGradient>
<filter id="blur08" x="-20%" y="-20%" width="140%" height="140%"><feGaussianBlur stdDeviation="1.2"/></filter>
<linearGradient id="goldh" x1="0" y1="0" x2="1" y2="0"><stop offset="0" stop-color="#e8c060"/><stop offset="1" stop-color="#f4d488"/></linearGradient>
</defs>
<path d="M20.6,703 L137,696.5 L161.4,708.3 L36,718.3 Z" stroke="none" stroke-width="1" fill="#8682d2" />
<path d="M36,718.3 L161.4,708.3 L161.4,710 L36,720 Z" stroke="none" stroke-width="1" fill="#6a66b8" />
<path d="M34.5,698.5 L64,697 L64,710.5 L37,711.5 Z" stroke="none" stroke-width="1" fill="#e6c260" />
<path d="M116.8,695.5 L137.7,694.5 L139,704.5 L117,705.5 Z" stroke="none" stroke-width="1" fill="#e6c260" />
<rect x="64.8" y="671" width="53.5" height="37.5" fill="#c4bce0" stroke="none" stroke-width="1" />
<ellipse cx="67.5" cy="675.0" rx="3.6" ry="1.8" fill="#d676c6"/>
<ellipse cx="75.1" cy="675.0" rx="3.6" ry="1.8" fill="#52c0a8"/>
<ellipse cx="82.7" cy="675.0" rx="3.6" ry="1.8" fill="#f4f4f8"/>
<ellipse cx="90.3" cy="675.0" rx="3.6" ry="1.8" fill="#c070d0"/>
<ellipse cx="97.9" cy="675.0" rx="3.6" ry="1.8" fill="#d676c6"/>
<ellipse cx="105.5" cy="675.0" rx="3.6" ry="1.8" fill="#52c0a8"/>
<ellipse cx="113.1" cy="675.0" rx="3.6" ry="1.8" fill="#f4f4f8"/>
<ellipse cx="70.9" cy="679.2" rx="3.6" ry="1.8" fill="#52c0a8"/>
<ellipse cx="78.5" cy="679.2" rx="3.6" ry="1.8" fill="#f4f4f8"/>
<ellipse cx="86.1" cy="679.2" rx="3.6" ry="1.8" fill="#c070d0"/>
<ellipse cx="93.7" cy="679.2" rx="3.6" ry="1.8" fill="#d676c6"/>
<ellipse cx="101.3" cy="679.2" rx="3.6" ry="1.8" fill="#52c0a8"/>
<ellipse cx="108.9" cy="679.2" rx="3.6" ry="1.8" fill="#f4f4f8"/>
<ellipse cx="116.5" cy="679.2" rx="3.6" ry="1.8" fill="#c070d0"/>
<ellipse cx="67.5" cy="683.4" rx="3.6" ry="1.8" fill="#f4f4f8"/>
<ellipse cx="75.1" cy="683.4" rx="3.6" ry="1.8" fill="#c070d0"/>
<ellipse cx="82.7" cy="683.4" rx="3.6" ry="1.8" fill="#d676c6"/>
<ellipse cx="90.3" cy="683.4" rx="3.6" ry="1.8" fill="#52c0a8"/>
<ellipse cx="97.9" cy="683.4" rx="3.6" ry="1.8" fill="#f4f4f8"/>
<ellipse cx="105.5" cy="683.4" rx="3.6" ry="1.8" fill="#c070d0"/>
<ellipse cx="113.1" cy="683.4" rx="3.6" ry="1.8" fill="#d676c6"/>
<ellipse cx="70.9" cy="687.6" rx="3.6" ry="1.8" fill="#c070d0"/>
<ellipse cx="78.5" cy="687.6" rx="3.6" ry="1.8" fill="#d676c6"/>
<ellipse cx="86.1" cy="687.6" rx="3.6" ry="1.8" fill="#52c0a8"/>
<ellipse cx="93.7" cy="687.6" rx="3.6" ry="1.8" fill="#f4f4f8"/>
<ellipse cx="101.3" cy="687.6" rx="3.6" ry="1.8" fill="#c070d0"/>
<ellipse cx="108.9" cy="687.6" rx="3.6" ry="1.8" fill="#d676c6"/>
<ellipse cx="116.5" cy="687.6" rx="3.6" ry="1.8" fill="#52c0a8"/>
<line x1="60.0" y1="688" x2="70.0" y2="708" stroke="#8a8ab0" stroke-width="0.6" />
<circle cx="67.2" cy="701.6" r="1.8" fill="#60b0d8" stroke="none" stroke-width="1" />
<circle cx="68.7" cy="703.7" r="1.1" fill="#e0b030" stroke="none" stroke-width="1" />
<circle cx="69.6" cy="705.8" r="1.8" fill="#3a7ad0" stroke="none" stroke-width="1" />
<circle cx="71.1" cy="707.9" r="1.1" fill="#e0b030" stroke="none" stroke-width="1" />
<line x1="66.2" y1="688" x2="76.2" y2="708" stroke="#8a8ab0" stroke-width="0.6" />
<circle cx="66.2" cy="689.0" r="1.8" fill="#60b0d8" stroke="none" stroke-width="1" />
<circle cx="67.7" cy="691.1" r="1.1" fill="#e0b030" stroke="none" stroke-width="1" />
<circle cx="68.6" cy="693.2" r="1.8" fill="#3a7ad0" stroke="none" stroke-width="1" />
<circle cx="70.1" cy="695.3" r="1.1" fill="#e0b030" stroke="none" stroke-width="1" />
<circle cx="71.0" cy="697.4" r="1.8" fill="#60b0d8" stroke="none" stroke-width="1" />
<circle cx="72.5" cy="699.5" r="1.1" fill="#e0b030" stroke="none" stroke-width="1" />
<circle cx="73.4" cy="701.6" r="1.8" fill="#3a7ad0" stroke="none" stroke-width="1" />
<circle cx="74.9" cy="703.7" r="1.1" fill="#e0b030" stroke="none" stroke-width="1" />
<circle cx="75.8" cy="705.8" r="1.8" fill="#60b0d8" stroke="none" stroke-width="1" />
<circle cx="77.3" cy="707.9" r="1.1" fill="#e0b030" stroke="none" stroke-width="1" />
<line x1="72.4" y1="688" x2="82.4" y2="708" stroke="#8a8ab0" stroke-width="0.6" />
<circle cx="72.4" cy="689.0" r="1.8" fill="#3a7ad0" stroke="none" stroke-width="1" />
<circle cx="73.9" cy="691.1" r="1.1" fill="#e0b030" stroke="none" stroke-width="1" />
<circle cx="74.8" cy="693.2" r="1.8" fill="#60b0d8" stroke="none" stroke-width="1" />
<circle cx="76.3" cy="695.3" r="1.1" fill="#e0b030" stroke="none" stroke-width="1" />
<circle cx="77.2" cy="697.4" r="1.8" fill="#3a7ad0" stroke="none" stroke-width="1" />
<circle cx="78.7" cy="699.5" r="1.1" fill="#e0b030" stroke="none" stroke-width="1" />
<circle cx="79.6" cy="701.6" r="1.8" fill="#60b0d8" stroke="none" stroke-width="1" />
<circle cx="81.1" cy="703.7" r="1.1" fill="#e0b030" stroke="none" stroke-width="1" />
<circle cx="82.0" cy="705.8" r="1.8" fill="#3a7ad0" stroke="none" stroke-width="1" />
<circle cx="83.5" cy="707.9" r="1.1" fill="#e0b030" stroke="none" stroke-width="1" />
<line x1="78.6" y1="688" x2="88.6" y2="708" stroke="#8a8ab0" stroke-width="0.6" />
<circle cx="78.6" cy="689.0" r="1.8" fill="#60b0d8" stroke="none" stroke-width="1" />
<circle cx="80.1" cy="691.1" r="1.1" fill="#e0b030" stroke="none" stroke-width="1" />
<circle cx="81.0" cy="693.2" r="1.8" fill="#3a7ad0" stroke="none" stroke-width="1" />
<circle cx="82.5" cy="695.3" r="1.1" fill="#e0b030" stroke="none" stroke-width="1" />
<circle cx="83.4" cy="697.4" r="1.8" fill="#60b0d8" stroke="none" stroke-width="1" />
<circle cx="84.9" cy="699.5" r="1.1" fill="#e0b030" stroke="none" stroke-width="1" />
<circle cx="85.8" cy="701.6" r="1.8" fill="#3a7ad0" stroke="none" stroke-width="1" />
<circle cx="87.3" cy="703.7" r="1.1" fill="#e0b030" stroke="none" stroke-width="1" />
<circle cx="88.2" cy="705.8" r="1.8" fill="#60b0d8" stroke="none" stroke-width="1" />
<circle cx="89.7" cy="707.9" r="1.1" fill="#e0b030" stroke="none" stroke-width="1" />
<line x1="84.8" y1="688" x2="94.8" y2="708" stroke="#8a8ab0" stroke-width="0.6" />
<circle cx="84.8" cy="689.0" r="1.8" fill="#3a7ad0" stroke="none" stroke-width="1" />
<circle cx="86.3" cy="691.1" r="1.1" fill="#e0b030" stroke="none" stroke-width="1" />
<circle cx="87.2" cy="693.2" r="1.8" fill="#60b0d8" stroke="none" stroke-width="1" />
<circle cx="88.7" cy="695.3" r="1.1" fill="#e0b030" stroke="none" stroke-width="1" />
<circle cx="89.6" cy="697.4" r="1.8" fill="#3a7ad0" stroke="none" stroke-width="1" />
<circle cx="91.1" cy="699.5" r="1.1" fill="#e0b030" stroke="none" stroke-width="1" />
<circle cx="92.0" cy="701.6" r="1.8" fill="#60b0d8" stroke="none" stroke-width="1" />
<circle cx="93.5" cy="703.7" r="1.1" fill="#e0b030" stroke="none" stroke-width="1" />
<circle cx="94.4" cy="705.8" r="1.8" fill="#3a7ad0" stroke="none" stroke-width="1" />
<circle cx="95.9" cy="707.9" r="1.1" fill="#e0b030" stroke="none" stroke-width="1" />
<line x1="91.0" y1="688" x2="101.0" y2="708" stroke="#8a8ab0" stroke-width="0.6" />
<circle cx="91.0" cy="689.0" r="1.8" fill="#60b0d8" stroke="none" stroke-width="1" />
<circle cx="92.5" cy="691.1" r="1.1" fill="#e0b030" stroke="none" stroke-width="1" />
<circle cx="93.4" cy="693.2" r="1.8" fill="#3a7ad0" stroke="none" stroke-width="1" />
<circle cx="94.9" cy="695.3" r="1.1" fill="#e0b030" stroke="none" stroke-width="1" />
<circle cx="95.8" cy="697.4" r="1.8" fill="#60b0d8" stroke="none" stroke-width="1" />
<circle cx="97.3" cy="699.5" r="1.1" fill="#e0b030" stroke="none" stroke-width="1" />
<circle cx="98.2" cy="701.6" r="1.8" fill="#3a7ad0" stroke="none" stroke-width="1" />
<circle cx="99.7" cy="703.7" r="1.1" fill="#e0b030" stroke="none" stroke-width="1" />
<circle cx="100.6" cy="705.8" r="1.8" fill="#60b0d8" stroke="none" stroke-width="1" />
<circle cx="102.1" cy="707.9" r="1.1" fill="#e0b030" stroke="none" stroke-width="1" />
<line x1="97.2" y1="688" x2="107.2" y2="708" stroke="#8a8ab0" stroke-width="0.6" />
<circle cx="97.2" cy="689.0" r="1.8" fill="#3a7ad0" stroke="none" stroke-width="1" />
<circle cx="98.7" cy="691.1" r="1.1" fill="#e0b030" stroke="none" stroke-width="1" />
<circle cx="99.6" cy="693.2" r="1.8" fill="#60b0d8" stroke="none" stroke-width="1" />
<circle cx="101.1" cy="695.3" r="1.1" fill="#e0b030" stroke="none" stroke-width="1" />
<circle cx="102.0" cy="697.4" r="1.8" fill="#3a7ad0" stroke="none" stroke-width="1" />
<circle cx="103.5" cy="699.5" r="1.1" fill="#e0b030" stroke="none" stroke-width="1" />
<circle cx="104.4" cy="701.6" r="1.8" fill="#60b0d8" stroke="none" stroke-width="1" />
<circle cx="105.9" cy="703.7" r="1.1" fill="#e0b030" stroke="none" stroke-width="1" />
<circle cx="106.8" cy="705.8" r="1.8" fill="#3a7ad0" stroke="none" stroke-width="1" />
<circle cx="108.3" cy="707.9" r="1.1" fill="#e0b030" stroke="none" stroke-width="1" />
<line x1="103.4" y1="688" x2="113.4" y2="708" stroke="#8a8ab0" stroke-width="0.6" />
<circle cx="103.4" cy="689.0" r="1.8" fill="#60b0d8" stroke="none" stroke-width="1" />
<circle cx="104.9" cy="691.1" r="1.1" fill="#e0b030" stroke="none" stroke-width="1" />
<circle cx="105.8" cy="693.2" r="1.8" fill="#3a7ad0" stroke="none" stroke-width="1" />
<circle cx="107.3" cy="695.3" r="1.1" fill="#e0b030" stroke="none" stroke-width="1" />
<circle cx="108.2" cy="697.4" r="1.8" fill="#60b0d8" stroke="none" stroke-width="1" />
<circle cx="109.7" cy="699.5" r="1.1" fill="#e0b030" stroke="none" stroke-width="1" />
<circle cx="110.6" cy="701.6" r="1.8" fill="#3a7ad0" stroke="none" stroke-width="1" />
<circle cx="112.1" cy="703.7" r="1.1" fill="#e0b030" stroke="none" stroke-width="1" />
<circle cx="113.0" cy="705.8" r="1.8" fill="#60b0d8" stroke="none" stroke-width="1" />
<circle cx="114.5" cy="707.9" r="1.1" fill="#e0b030" stroke="none" stroke-width="1" />
<line x1="109.6" y1="688" x2="119.6" y2="708" stroke="#8a8ab0" stroke-width="0.6" />
<circle cx="109.6" cy="689.0" r="1.8" fill="#3a7ad0" stroke="none" stroke-width="1" />
<circle cx="111.1" cy="691.1" r="1.1" fill="#e0b030" stroke="none" stroke-width="1" />
<circle cx="112.0" cy="693.2" r="1.8" fill="#60b0d8" stroke="none" stroke-width="1" />
<circle cx="113.5" cy="695.3" r="1.1" fill="#e0b030" stroke="none" stroke-width="1" />
<circle cx="114.4" cy="697.4" r="1.8" fill="#3a7ad0" stroke="none" stroke-width="1" />
<circle cx="115.9" cy="699.5" r="1.1" fill="#e0b030" stroke="none" stroke-width="1" />
<circle cx="116.8" cy="701.6" r="1.8" fill="#60b0d8" stroke="none" stroke-width="1" />
<circle cx="118.3" cy="703.7" r="1.1" fill="#e0b030" stroke="none" stroke-width="1" />
<line x1="115.80000000000001" y1="688" x2="125.80000000000001" y2="708" stroke="#8a8ab0" stroke-width="0.6" />
<circle cx="115.8" cy="689.0" r="1.8" fill="#60b0d8" stroke="none" stroke-width="1" />
<circle cx="117.3" cy="691.1" r="1.1" fill="#e0b030" stroke="none" stroke-width="1" />
<rect x="48.5" y="658.4" width="15.3" height="47.4" fill="url(#goldh)" stroke="none" stroke-width="1" />
<rect x="116.8" y="659.5" width="8.3" height="45" fill="#e6c05a" stroke="none" stroke-width="1" />
<rect x="63" y="626" width="56" height="47.5" fill="url(#redglow)" stroke="none" stroke-width="1" filter="url(#blur08)"/>
<circle cx="28.9" cy="664.5" r="2.4" fill="#2a4c9c" stroke="none" stroke-width="1" />
<text x="31.6" y="667.8" font-size="10" fill="#111" text-anchor="start" font-weight="bold" font-style="normal" stroke="#111" stroke-width="0.25" >Mo</text>
<circle cx="28.9" cy="673.1" r="2.4" fill="#c8b040" stroke="none" stroke-width="1" />
<text x="31.6" y="676.4" font-size="10" fill="#111" text-anchor="start" font-weight="bold" font-style="normal" stroke="#111" stroke-width="0.25" >S</text>
<circle cx="28.9" cy="680.9" r="2.4" fill="#74ccbc" stroke="none" stroke-width="1" />
<text x="31.6" y="684.2" font-size="10" fill="#111" text-anchor="start" font-weight="bold" font-style="normal" stroke="#111" stroke-width="0.25" >In</text>
<circle cx="28.9" cy="690.0" r="2.4" fill="#d890c8" stroke="none" stroke-width="1" />
<text x="31.6" y="693.3" font-size="10" fill="#111" text-anchor="start" font-weight="bold" font-style="normal" stroke="#111" stroke-width="0.25" >Se</text>
<rect x="123.2" y="629.8" width="34" height="31.5" fill="#e8c64c" stroke="none" stroke-width="1" />
<rect x="135.4" y="629.8" width="8.4" height="31.5" fill="#9a7a8a" stroke="none" stroke-width="1" />
<rect x="135.4" y="640" width="8.4" height="14" fill="#4f9a8c" stroke="none" stroke-width="1" />
<text x="132" y="653.4" font-size="7.2" fill="#111" text-anchor="start" font-weight="bold" font-style="normal" textLength="21.5" lengthAdjust="spacingAndGlyphs" stroke="#111" stroke-width="0.25" >20 μm</text>
<rect x="145.5" y="655.3" width="8" height="1.8" fill="#111" stroke="none" stroke-width="1" />
<text x="4.7" y="739.6" font-size="11.5" fill="#111" text-anchor="start" font-weight="bold" font-style="normal" stroke="#111" stroke-width="0.25" >(i)</text>
<rect x="38.6" y="726.6" width="116.0" height="81.19999999999993" fill="none" stroke="#555" stroke-width="0.8" />
<line x1="38.6" y1="756.1" x2="154.6" y2="756.1" stroke="#333" stroke-width="1.0" />
<text x="50.6" y="817.6" font-size="8.6" fill="#151515" text-anchor="middle" font-weight="bold" font-style="normal" stroke="#151515" stroke-width="0.25" >0</text>
<line x1="50.6" y1="807.8" x2="50.6" y2="805.5999999999999" stroke="#555" stroke-width="0.6" />
<text x="73.5" y="817.6" font-size="8.6" fill="#151515" text-anchor="middle" font-weight="bold" font-style="normal" stroke="#151515" stroke-width="0.25" >10</text>
<line x1="73.5" y1="807.8" x2="73.5" y2="805.5999999999999" stroke="#555" stroke-width="0.6" />
<text x="96.4" y="817.6" font-size="8.6" fill="#151515" text-anchor="middle" font-weight="bold" font-style="normal" stroke="#151515" stroke-width="0.25" >20</text>
<line x1="96.4" y1="807.8" x2="96.4" y2="805.5999999999999" stroke="#555" stroke-width="0.6" />
<text x="119.30000000000001" y="817.6" font-size="8.6" fill="#151515" text-anchor="middle" font-weight="bold" font-style="normal" stroke="#151515" stroke-width="0.25" >30</text>
<line x1="119.30000000000001" y1="807.8" x2="119.30000000000001" y2="805.5999999999999" stroke="#555" stroke-width="0.6" />
<text x="142.2" y="817.6" font-size="8.6" fill="#151515" text-anchor="middle" font-weight="bold" font-style="normal" stroke="#151515" stroke-width="0.25" >40</text>
<line x1="142.2" y1="807.8" x2="142.2" y2="805.5999999999999" stroke="#555" stroke-width="0.6" />
<text x="35.9" y="760.8" font-size="8.2" fill="#151515" text-anchor="end" font-weight="bold" font-style="normal" stroke="#151515" stroke-width="0.25" >0.3</text>
<text x="35.9" y="807.0" font-size="8.2" fill="#151515" text-anchor="end" font-weight="bold" font-style="normal" stroke="#151515" stroke-width="0.25" >0.2</text>
<text x="0" y="0" font-size="8.4" fill="#151515" text-anchor="middle" font-weight="bold" font-style="normal" stroke="#151515" stroke-width="0.25" transform="translate(21,773.7) rotate(-90)">Current/μA</text>
<text x="96.3" y="827" font-size="8.7" fill="#151515" text-anchor="middle" font-weight="bold" font-style="normal" stroke="#151515" stroke-width="0.25" >Time/s</text>
<line x1="55.3" y1="727" x2="55.3" y2="807.5" stroke="#3c9a3c" stroke-width="0.8" stroke-dasharray="1 1"/>
<line x1="133.6" y1="727" x2="133.6" y2="807.5" stroke="#3c9a3c" stroke-width="0.8" stroke-dasharray="1 1"/>
<line x1="62.2" y1="727" x2="62.2" y2="807.5" stroke="#d83030" stroke-width="0.8" stroke-dasharray="1 1"/>
<line x1="55.3" y1="739" x2="55.3" y2="751" stroke="#7cc07c" stroke-width="1.1" />
<path d="M52.699999999999996,748 L55.3,754.8 L57.9,748" stroke="#7cc07c" stroke-width="1.1" fill="none" />
<line x1="133.6" y1="739" x2="133.6" y2="751" stroke="#7cc07c" stroke-width="1.1" />
<path d="M131.0,748 L133.6,754.8 L136.2,748" stroke="#7cc07c" stroke-width="1.1" fill="none" />
<line x1="62.2" y1="739" x2="62.2" y2="751" stroke="#e06060" stroke-width="1.1" />
<path d="M59.6,748 L62.2,754.8 L64.8,748" stroke="#e06060" stroke-width="1.1" fill="none" />
<text x="39.5" y="737.2" font-size="6.8" fill="#3c8a3c" text-anchor="start" font-weight="bold" font-style="normal" textLength="44.2" lengthAdjust="spacingAndGlyphs" stroke="#3c8a3c" stroke-width="0.25" >Strain 0.54%</text>
<text x="101.7" y="737.2" font-size="6.8" fill="#3c8a3c" text-anchor="start" font-weight="bold" font-style="normal" textLength="52.2" lengthAdjust="spacingAndGlyphs" stroke="#3c8a3c" stroke-width="0.25" >Remove strain</text>
<text x="67" y="753.2" font-size="7.4" fill="#d02828" text-anchor="start" font-weight="bold" font-style="normal" textLength="45.2" lengthAdjust="spacingAndGlyphs" stroke="#d02828" stroke-width="0.25" >1 060 nm 1 s</text>
<polyline points="52.0,803.3 52.7,804.5 53.4,804.0 54.1,804.5 54.7,803.2 55.4,803.2 56.1,803.3 56.8,803.2 57.5,802.5 58.2,802.5 58.9,802.8 59.6,803.7 60.2,803.4 60.9,803.6 61.6,803.9 62.3,804.0 62.8,797.1 63.6,776.3 64.2,761.5 64.8,759.6 65.4,762.4 65.9,776.3 66.4,775.4 66.8,780.5 67.3,783.7 67.7,786.0 68.2,788.7 68.6,790.5 69.1,791.7 69.5,792.3 70.0,793.9 70.4,795.8 70.8,796.7 71.3,796.2 71.7,796.0 72.2,796.2 72.6,796.8 73.1,796.9 73.5,797.4 74.0,797.6 74.4,797.9 74.9,797.5 75.3,797.4 75.7,797.6 76.2,798.5 76.6,799.2 77.1,799.0 77.5,799.5 78.0,799.3 78.4,799.3 78.9,798.7 79.3,798.4 79.7,799.1 80.2,799.1 80.6,799.4 81.1,798.6 81.5,799.0 82.0,798.5 82.4,798.8 82.9,798.5 83.3,799.3 83.8,799.6 84.2,800.0 84.6,799.6 85.1,799.6 85.5,799.6 86.0,799.6 86.4,799.2 86.9,799.3 87.3,799.7 87.8,800.4 88.2,800.8 88.6,800.8 89.1,799.4 89.5,798.2 90.0,797.4 90.4,798.2 90.9,799.1 91.3,799.7 91.8,800.3 92.2,801.1 92.7,801.4 93.1,800.6 93.5,799.4 94.0,799.0 94.4,799.1 94.9,799.2 95.3,800.2 95.8,800.5 96.2,801.0 96.7,800.8 97.1,800.1 97.5,799.6 98.0,799.4 98.4,800.3 98.9,799.4 99.3,800.3 99.8,800.4 100.2,801.0 100.7,800.5 101.1,800.5 101.6,800.6 102.0,800.1 102.4,799.6 102.9,800.1 103.3,800.1 103.8,800.8 104.2,800.8 104.7,801.4 105.1,800.9 105.6,800.7 106.0,800.7 106.4,800.8 106.9,801.0 107.3,800.9 107.8,801.0 108.2,800.8 108.7,801.0 109.1,801.3 109.6,800.8 110.0,801.1 110.5,800.6 110.9,801.3 111.3,800.8 111.8,801.5 112.2,801.2 112.7,801.2 113.1,800.2 113.6,800.4 114.0,800.6 114.5,801.4 114.9,800.8 115.3,800.3 115.8,800.0 116.2,799.7 116.7,799.8 117.1,799.8 117.6,800.2 118.0,800.7 118.5,800.5 118.9,801.1 119.4,800.5 119.8,800.4 120.2,800.0 120.7,799.8 121.1,800.3 121.6,800.1 122.0,800.5 122.5,800.6 122.9,800.6 123.4,800.0 123.8,798.5 124.2,798.7 124.7,799.1 125.1,799.6 125.6,800.0 126.0,799.6 126.5,800.8 126.9,800.8 127.4,801.5 127.8,801.0 128.3,800.3 128.7,800.6 129.1,800.5 129.6,800.9 130.0,800.5 130.5,800.2 130.9,799.8 131.4,799.7 131.8,799.8 132.3,800.1 132.7,800.8 133.2,802.6 134.0,803.8 134.0,803.9 134.9,804.0 135.8,804.2 136.7,803.3 137.6,803.5 138.4,803.9 139.3,803.8 140.2,803.1 141.1,803.8 142.0,804.4" stroke="#d02a38" stroke-width="1.3" fill="none" />
<text x="173" y="633" font-size="11.5" fill="#111" text-anchor="start" font-weight="bold" font-style="normal" stroke="#111" stroke-width="0.25" >(j)</text>
<text x="165.6" y="651.6" font-size="10.5" fill="#111" text-anchor="start" font-weight="bold" font-style="normal" textLength="72.4" lengthAdjust="spacingAndGlyphs" stroke="#111" stroke-width="0.25" >Flexible array</text>
<defs>
<linearGradient id="photoBg" x1="0" y1="0" x2="0.3" y2="1"><stop offset="0" stop-color="#b0b4b8"/><stop offset="1" stop-color="#92969c"/></linearGradient>
<linearGradient id="glove" x1="0" y1="0" x2="0" y2="1"><stop offset="0" stop-color="#d8d4cc"/><stop offset="1" stop-color="#b6b2aa"/></linearGradient>
<clipPath id="jclip"><rect x="170.6" y="656.4" width="78.4" height="75.8"/></clipPath>
</defs>
<rect x="170.6" y="656.4" width="78.4" height="75.8" fill="url(#photoBg)" stroke="none" stroke-width="1" />
<g clip-path="url(#jclip)">
<path d="M186,706 L214,690 L236,716 L206,733 Z" stroke="none" stroke-width="1" fill="#a2a6ac" opacity="0.8"/>
<path d="M200,684 L224,668 L238,700 L214,712 Z" stroke="none" stroke-width="1" fill="#c2c4c6" opacity="0.6"/>
<path d="M177,676 C177,664 190,659 205,658 L250,655 L250,714 C240,710 230,705 220,702 C205,699 190,697 182,691 C178,687 176,681 177,676 Z" stroke="none" stroke-width="1" fill="url(#glove)" />
<ellipse cx="198" cy="672" rx="20" ry="7" fill="#dcd8d0" transform="rotate(-6 198 672)"/>
<ellipse cx="196" cy="686" rx="16" ry="6" fill="#cdc8c0" transform="rotate(10 196 686)"/>
<ellipse cx="242" cy="692" rx="9" ry="20" fill="#b8b4ac"/>
<ellipse cx="228" cy="668" rx="16" ry="8" fill="#d2cec6"/>
<ellipse cx="205" cy="690" rx="4.5" ry="3.5" fill="#dcc4a8" opacity="0.9"/>
<path d="M200,680 L228,668 L240,696 L212,706 Z" stroke="none" stroke-width="1" fill="#d8d8da" opacity="0.3"/>
<ellipse cx="230" cy="723" rx="25" ry="12" fill="url(#glove)" transform="rotate(-4 230 723)"/>
<ellipse cx="226" cy="719" rx="16" ry="6" fill="#d6d2ca" transform="rotate(-4 226 719)"/>
</g>
<line x1="200.2" y1="652.5" x2="204.3" y2="681.8" stroke="#222" stroke-width="0.9" />
<rect x="252.5" y="642.9" width="80.5" height="12" fill="#ffffff" stroke="#909090" stroke-width="1.0" />
<text x="292.75" y="652.0" font-size="8.8" fill="#111" text-anchor="middle" font-weight="bold" font-style="normal" stroke="#111" stroke-width="0.25" >10 s illumination</text>
<rect x="252.5" y="656.4" width="80.5" height="77.3" fill="#ffffff" stroke="#8e8e8e" stroke-width="1.1" />
<rect x="254.2" y="658.1" width="77.1" height="73.89999999999999" fill="#eedfe2" stroke="#a4a4a4" stroke-width="0.8" />
<rect x="254.80" y="658.70" width="7.84" height="7.52" fill="#eedfe2"/>
<rect x="262.39" y="658.70" width="7.84" height="7.52" fill="#eedfe2"/>
<rect x="269.98" y="658.70" width="7.84" height="7.52" fill="#eedde0"/>
<rect x="277.57" y="658.70" width="7.84" height="7.52" fill="#eb949a"/>
<rect x="285.16" y="658.70" width="7.84" height="7.52" fill="#edced2"/>
<rect x="292.75" y="658.70" width="7.84" height="7.52" fill="#edced2"/>
<rect x="300.34" y="658.70" width="7.84" height="7.52" fill="#ec9ea3"/>
<rect x="307.93" y="658.70" width="7.84" height="7.52" fill="#eedfe2"/>
<rect x="315.52" y="658.70" width="7.84" height="7.52" fill="#eedfe2"/>
<rect x="323.11" y="658.70" width="7.84" height="7.52" fill="#eedfe2"/>
<rect x="254.80" y="665.97" width="7.84" height="7.52" fill="#eb9197"/>
<rect x="262.39" y="665.97" width="7.84" height="7.52" fill="#eb878d"/>
<rect x="269.98" y="665.97" width="7.84" height="7.52" fill="#ec999e"/>
<rect x="277.57" y="665.97" width="7.84" height="7.52" fill="#f7f1f2"/>
<rect x="285.16" y="665.97" width="7.84" height="7.52" fill="#eb9097"/>
<rect x="292.75" y="665.97" width="7.84" height="7.52" fill="#eb9299"/>
<rect x="300.34" y="665.97" width="7.84" height="7.52" fill="#f7f1f2"/>
<rect x="307.93" y="665.97" width="7.84" height="7.52" fill="#ec9ba0"/>
<rect x="315.52" y="665.97" width="7.84" height="7.52" fill="#eb8b92"/>
<rect x="323.11" y="665.97" width="7.84" height="7.52" fill="#eb888e"/>
<rect x="254.80" y="673.24" width="7.84" height="7.52" fill="#eb8b91"/>
<rect x="262.39" y="673.24" width="7.84" height="7.52" fill="#eb8188"/>
<rect x="269.98" y="673.24" width="7.84" height="7.52" fill="#eb878e"/>
<rect x="277.57" y="673.24" width="7.84" height="7.52" fill="#eb8e94"/>
<rect x="285.16" y="673.24" width="7.84" height="7.52" fill="#ea767d"/>
<rect x="292.75" y="673.24" width="7.84" height="7.52" fill="#ea7078"/>
<rect x="300.34" y="673.24" width="7.84" height="7.52" fill="#eb8a91"/>
<rect x="307.93" y="673.24" width="7.84" height="7.52" fill="#eb8c93"/>
<rect x="315.52" y="673.24" width="7.84" height="7.52" fill="#eb888f"/>
<rect x="323.11" y="673.24" width="7.84" height="7.52" fill="#eb7b82"/>
<rect x="254.80" y="680.51" width="7.84" height="7.52" fill="#eb8289"/>
<rect x="262.39" y="680.51" width="7.84" height="7.52" fill="#f7f1f2"/>
<rect x="269.98" y="680.51" width="7.84" height="7.52" fill="#f7f1f2"/>
<rect x="277.57" y="680.51" width="7.84" height="7.52" fill="#eb858c"/>
<rect x="285.16" y="680.51" width="7.84" height="7.52" fill="#ea727a"/>
<rect x="292.75" y="680.51" width="7.84" height="7.52" fill="#eb8187"/>
<rect x="300.34" y="680.51" width="7.84" height="7.52" fill="#eb8a90"/>
<rect x="307.93" y="680.51" width="7.84" height="7.52" fill="#f7f1f2"/>
<rect x="315.52" y="680.51" width="7.84" height="7.52" fill="#f7f1f2"/>
<rect x="323.11" y="680.51" width="7.84" height="7.52" fill="#eb949a"/>
<rect x="254.80" y="687.78" width="7.84" height="7.52" fill="#eb8f96"/>
<rect x="262.39" y="687.78" width="7.84" height="7.52" fill="#f7f1f2"/>
<rect x="269.98" y="687.78" width="7.84" height="7.52" fill="#f7f1f2"/>
<rect x="277.57" y="687.78" width="7.84" height="7.52" fill="#ec9a9f"/>
<rect x="285.16" y="687.78" width="7.84" height="7.52" fill="#eb878d"/>
<rect x="292.75" y="687.78" width="7.84" height="7.52" fill="#ea6e76"/>
<rect x="300.34" y="687.78" width="7.84" height="7.52" fill="#eb9399"/>
<rect x="307.93" y="687.78" width="7.84" height="7.52" fill="#f7f1f2"/>
<rect x="315.52" y="687.78" width="7.84" height="7.52" fill="#f7f1f2"/>
<rect x="323.11" y="687.78" width="7.84" height="7.52" fill="#eb8e94"/>
<rect x="254.80" y="695.05" width="7.84" height="7.52" fill="#eed7da"/>
<rect x="262.39" y="695.05" width="7.84" height="7.52" fill="#eb949a"/>
<rect x="269.98" y="695.05" width="7.84" height="7.52" fill="#eb8d93"/>
<rect x="277.57" y="695.05" width="7.84" height="7.52" fill="#eb9096"/>
<rect x="285.16" y="695.05" width="7.84" height="7.52" fill="#ea777e"/>
<rect x="292.75" y="695.05" width="7.84" height="7.52" fill="#eb7a81"/>
<rect x="300.34" y="695.05" width="7.84" height="7.52" fill="#eb8188"/>
<rect x="307.93" y="695.05" width="7.84" height="7.52" fill="#eb878e"/>
<rect x="315.52" y="695.05" width="7.84" height="7.52" fill="#eb898f"/>
<rect x="323.11" y="695.05" width="7.84" height="7.52" fill="#edcccf"/>
<rect x="254.80" y="702.32" width="7.84" height="7.52" fill="#eedfe2"/>
<rect x="262.39" y="702.32" width="7.84" height="7.52" fill="#edccd0"/>
<rect x="269.98" y="702.32" width="7.84" height="7.52" fill="#edb6bb"/>
<rect x="277.57" y="702.32" width="7.84" height="7.52" fill="#eb848b"/>
<rect x="285.16" y="702.32" width="7.84" height="7.52" fill="#eb7b82"/>
<rect x="292.75" y="702.32" width="7.84" height="7.52" fill="#ea787f"/>
<rect x="300.34" y="702.32" width="7.84" height="7.52" fill="#eb9096"/>
<rect x="307.93" y="702.32" width="7.84" height="7.52" fill="#edb8bd"/>
<rect x="315.52" y="702.32" width="7.84" height="7.52" fill="#edc5c9"/>
<rect x="323.11" y="702.32" width="7.84" height="7.52" fill="#eedfe2"/>
<rect x="254.80" y="709.59" width="7.84" height="7.52" fill="#eedfe2"/>
<rect x="262.39" y="709.59" width="7.84" height="7.52" fill="#eca7ad"/>
<rect x="269.98" y="709.59" width="7.84" height="7.52" fill="#eb8f95"/>
<rect x="277.57" y="709.59" width="7.84" height="7.52" fill="#eca4a9"/>
<rect x="285.16" y="709.59" width="7.84" height="7.52" fill="#ea757c"/>
<rect x="292.75" y="709.59" width="7.84" height="7.52" fill="#eb8188"/>
<rect x="300.34" y="709.59" width="7.84" height="7.52" fill="#ecaeb3"/>
<rect x="307.93" y="709.59" width="7.84" height="7.52" fill="#ec9ca1"/>
<rect x="315.52" y="709.59" width="7.84" height="7.52" fill="#ecb3b8"/>
<rect x="323.11" y="709.59" width="7.84" height="7.52" fill="#eedfe2"/>
<rect x="254.80" y="716.86" width="7.84" height="7.52" fill="#eedfe2"/>
<rect x="262.39" y="716.86" width="7.84" height="7.52" fill="#f7f1f2"/>
<rect x="269.98" y="716.86" width="7.84" height="7.52" fill="#f7f1f2"/>
<rect x="277.57" y="716.86" width="7.84" height="7.52" fill="#ec999f"/>
<rect x="285.16" y="716.86" width="7.84" height="7.52" fill="#eb8188"/>
<rect x="292.75" y="716.86" width="7.84" height="7.52" fill="#eb858b"/>
<rect x="300.34" y="716.86" width="7.84" height="7.52" fill="#ec9fa4"/>
<rect x="307.93" y="716.86" width="7.84" height="7.52" fill="#f7f1f2"/>
<rect x="315.52" y="716.86" width="7.84" height="7.52" fill="#f7f1f2"/>
<rect x="323.11" y="716.86" width="7.84" height="7.52" fill="#eedfe2"/>
<rect x="254.80" y="724.13" width="7.84" height="7.52" fill="#eedfe2"/>
<rect x="262.39" y="724.13" width="7.84" height="7.52" fill="#ecb3b8"/>
<rect x="269.98" y="724.13" width="7.84" height="7.52" fill="#ec9ba1"/>
<rect x="277.57" y="724.13" width="7.84" height="7.52" fill="#ecadb2"/>
<rect x="285.16" y="724.13" width="7.84" height="7.52" fill="#edbdc2"/>
<rect x="292.75" y="724.13" width="7.84" height="7.52" fill="#edb7bc"/>
<rect x="300.34" y="724.13" width="7.84" height="7.52" fill="#ecafb4"/>
<rect x="307.93" y="724.13" width="7.84" height="7.52" fill="#eca7ac"/>
<rect x="315.52" y="724.13" width="7.84" height="7.52" fill="#ecb1b6"/>
<rect x="323.11" y="724.13" width="7.84" height="7.52" fill="#eedfe2"/>
<g fill="none" stroke="#e84650" stroke-width="1.5" opacity="1.0">
<ellipse cx="292.5" cy="699.9" rx="9.9" ry="24.6"/>
<path d="M284.7,699.6 C274.6,704.1 256.5,702.6 255.5,689.5 C254.5,677.5 258.5,666.4 266.6,666.4 C275.6,666.4 281.7,675.5 284.7,683.5"/>
<path d="M286.7,708.6 C279.7,705.1 265.6,707.6 265.1,717.6 C264.6,727.7 274.6,731.2 281.7,728.7 C286.7,726.7 289.2,716.6 288.2,711.6"/>
<path d="M300.8,699.6 C310.9,704.1 329.0,702.6 330.0,689.5 C331.0,677.5 327.0,666.4 318.9,666.4 C309.9,666.4 303.8,675.5 300.8,683.5"/>
<path d="M298.8,708.6 C305.8,705.1 319.9,707.6 320.4,717.6 C320.9,727.7 310.9,731.2 303.8,728.7 C298.8,726.7 296.3,716.6 297.3,711.6"/>
<path d="M283.2,660.4 L292.8,676.5 L303.3,660.4"/>
</g>
<rect x="252.5" y="735.3" width="80.5" height="11" fill="#ffffff" stroke="#909090" stroke-width="1.0" />
<text x="292.75" y="743.4" font-size="8.8" fill="#111" text-anchor="middle" font-weight="bold" font-style="normal" stroke="#111" stroke-width="0.25" >After 10 s</text>
<rect x="252.5" y="747.8" width="80.5" height="77.7" fill="#ffffff" stroke="#8e8e8e" stroke-width="1.1" />
<rect x="254.2" y="749.5" width="77.1" height="74.3" fill="#eedfe2" stroke="#a4a4a4" stroke-width="0.8" />
<rect x="254.80" y="750.10" width="7.84" height="7.56" fill="#eedfe2"/>
<rect x="262.39" y="750.10" width="7.84" height="7.56" fill="#eedfe2"/>
<rect x="269.98" y="750.10" width="7.84" height="7.56" fill="#eedde0"/>
<rect x="277.57" y="750.10" width="7.84" height="7.56" fill="#ecafb4"/>
<rect x="285.16" y="750.10" width="7.84" height="7.56" fill="#eed4d8"/>
<rect x="292.75" y="750.10" width="7.84" height="7.56" fill="#eed4d8"/>
<rect x="300.34" y="750.10" width="7.84" height="7.56" fill="#edb5b9"/>
<rect x="307.93" y="750.10" width="7.84" height="7.56" fill="#eedfe2"/>
<rect x="315.52" y="750.10" width="7.84" height="7.56" fill="#eedfe2"/>
<rect x="323.11" y="750.10" width="7.84" height="7.56" fill="#eedfe2"/>
<rect x="254.80" y="757.41" width="7.84" height="7.56" fill="#ecacb2"/>
<rect x="262.39" y="757.41" width="7.84" height="7.56" fill="#eca6ab"/>
<rect x="269.98" y="757.41" width="7.84" height="7.56" fill="#ecb1b6"/>
<rect x="277.57" y="757.41" width="7.84" height="7.56" fill="#f4ebed"/>
<rect x="285.16" y="757.41" width="7.84" height="7.56" fill="#ecacb1"/>
<rect x="292.75" y="757.41" width="7.84" height="7.56" fill="#ecadb2"/>
<rect x="300.34" y="757.41" width="7.84" height="7.56" fill="#f4ebed"/>
<rect x="307.93" y="757.41" width="7.84" height="7.56" fill="#ecb3b8"/>
<rect x="315.52" y="757.41" width="7.84" height="7.56" fill="#eca9ae"/>
<rect x="323.11" y="757.41" width="7.84" height="7.56" fill="#eca7ac"/>
<rect x="254.80" y="764.72" width="7.84" height="7.56" fill="#eca9ae"/>
<rect x="262.39" y="764.72" width="7.84" height="7.56" fill="#eca2a8"/>
<rect x="269.98" y="764.72" width="7.84" height="7.56" fill="#eca6ab"/>
<rect x="277.57" y="764.72" width="7.84" height="7.56" fill="#ecabb0"/>
<rect x="285.16" y="764.72" width="7.84" height="7.56" fill="#ec9ba1"/>
<rect x="292.75" y="764.72" width="7.84" height="7.56" fill="#ec979d"/>
<rect x="300.34" y="764.72" width="7.84" height="7.56" fill="#eca8ad"/>
<rect x="307.93" y="764.72" width="7.84" height="7.56" fill="#ecaaaf"/>
<rect x="315.52" y="764.72" width="7.84" height="7.56" fill="#eca7ac"/>
<rect x="323.11" y="764.72" width="7.84" height="7.56" fill="#ec9fa4"/>
<rect x="254.80" y="772.03" width="7.84" height="7.56" fill="#eca3a8"/>
<rect x="262.39" y="772.03" width="7.84" height="7.56" fill="#f4ebed"/>
<rect x="269.98" y="772.03" width="7.84" height="7.56" fill="#f4ebed"/>
<rect x="277.57" y="772.03" width="7.84" height="7.56" fill="#eca5aa"/>
<rect x="285.16" y="772.03" width="7.84" height="7.56" fill="#ec999f"/>
<rect x="292.75" y="772.03" width="7.84" height="7.56" fill="#eca2a7"/>
<rect x="300.34" y="772.03" width="7.84" height="7.56" fill="#eca8ad"/>
<rect x="307.93" y="772.03" width="7.84" height="7.56" fill="#f4ebed"/>
<rect x="315.52" y="772.03" width="7.84" height="7.56" fill="#f4ebed"/>
<rect x="323.11" y="772.03" width="7.84" height="7.56" fill="#ecaeb3"/>
<rect x="254.80" y="779.34" width="7.84" height="7.56" fill="#ecacb1"/>
<rect x="262.39" y="779.34" width="7.84" height="7.56" fill="#f4ebed"/>
<rect x="269.98" y="779.34" width="7.84" height="7.56" fill="#f4ebed"/>
<rect x="277.57" y="779.34" width="7.84" height="7.56" fill="#ecb2b7"/>
<rect x="285.16" y="779.34" width="7.84" height="7.56" fill="#eca6ab"/>
<rect x="292.75" y="779.34" width="7.84" height="7.56" fill="#eb969c"/>
<rect x="300.34" y="779.34" width="7.84" height="7.56" fill="#ecaeb3"/>
<rect x="307.93" y="779.34" width="7.84" height="7.56" fill="#f4ebed"/>
<rect x="315.52" y="779.34" width="7.84" height="7.56" fill="#f4ebed"/>
<rect x="323.11" y="779.34" width="7.84" height="7.56" fill="#ecabb0"/>
<rect x="254.80" y="786.65" width="7.84" height="7.56" fill="#eedadd"/>
<rect x="262.39" y="786.65" width="7.84" height="7.56" fill="#ecafb4"/>
<rect x="269.98" y="786.65" width="7.84" height="7.56" fill="#ecaaaf"/>
<rect x="277.57" y="786.65" width="7.84" height="7.56" fill="#ecacb1"/>
<rect x="285.16" y="786.65" width="7.84" height="7.56" fill="#ec9ca2"/>
<rect x="292.75" y="786.65" width="7.84" height="7.56" fill="#ec9ea3"/>
<rect x="300.34" y="786.65" width="7.84" height="7.56" fill="#eca2a7"/>
<rect x="307.93" y="786.65" width="7.84" height="7.56" fill="#eca6ac"/>
<rect x="315.52" y="786.65" width="7.84" height="7.56" fill="#eca7ac"/>
<rect x="323.11" y="786.65" width="7.84" height="7.56" fill="#eed2d6"/>
<rect x="254.80" y="793.96" width="7.84" height="7.56" fill="#eedfe2"/>
<rect x="262.39" y="793.96" width="7.84" height="7.56" fill="#eed3d6"/>
<rect x="269.98" y="793.96" width="7.84" height="7.56" fill="#edc5c9"/>
<rect x="277.57" y="793.96" width="7.84" height="7.56" fill="#eca4a9"/>
<rect x="285.16" y="793.96" width="7.84" height="7.56" fill="#ec9ea4"/>
<rect x="292.75" y="793.96" width="7.84" height="7.56" fill="#ec9ca2"/>
<rect x="300.34" y="793.96" width="7.84" height="7.56" fill="#ecacb1"/>
<rect x="307.93" y="793.96" width="7.84" height="7.56" fill="#edc6ca"/>
<rect x="315.52" y="793.96" width="7.84" height="7.56" fill="#edced2"/>
<rect x="323.11" y="793.96" width="7.84" height="7.56" fill="#eedfe2"/>
<rect x="254.80" y="801.27" width="7.84" height="7.56" fill="#eedfe2"/>
<rect x="262.39" y="801.27" width="7.84" height="7.56" fill="#edbbbf"/>
<rect x="269.98" y="801.27" width="7.84" height="7.56" fill="#ecabb0"/>
<rect x="277.57" y="801.27" width="7.84" height="7.56" fill="#edb9bd"/>
<rect x="285.16" y="801.27" width="7.84" height="7.56" fill="#ec9aa0"/>
<rect x="292.75" y="801.27" width="7.84" height="7.56" fill="#eca2a8"/>
<rect x="300.34" y="801.27" width="7.84" height="7.56" fill="#edbfc3"/>
<rect x="307.93" y="801.27" width="7.84" height="7.56" fill="#edb4b8"/>
<rect x="315.52" y="801.27" width="7.84" height="7.56" fill="#edc3c7"/>
<rect x="323.11" y="801.27" width="7.84" height="7.56" fill="#eedfe2"/>
<rect x="254.80" y="808.58" width="7.84" height="7.56" fill="#eedfe2"/>
<rect x="262.39" y="808.58" width="7.84" height="7.56" fill="#f4ebed"/>
<rect x="269.98" y="808.58" width="7.84" height="7.56" fill="#f4ebed"/>
<rect x="277.57" y="808.58" width="7.84" height="7.56" fill="#ecb2b6"/>
<rect x="285.16" y="808.58" width="7.84" height="7.56" fill="#eca2a8"/>
<rect x="292.75" y="808.58" width="7.84" height="7.56" fill="#eca5aa"/>
<rect x="300.34" y="808.58" width="7.84" height="7.56" fill="#edb5ba"/>
<rect x="307.93" y="808.58" width="7.84" height="7.56" fill="#f4ebed"/>
<rect x="315.52" y="808.58" width="7.84" height="7.56" fill="#f4ebed"/>
<rect x="323.11" y="808.58" width="7.84" height="7.56" fill="#eedfe2"/>
<rect x="254.80" y="815.89" width="7.84" height="7.56" fill="#eedfe2"/>
<rect x="262.39" y="815.89" width="7.84" height="7.56" fill="#edc2c7"/>
<rect x="269.98" y="815.89" width="7.84" height="7.56" fill="#ecb3b8"/>
<rect x="277.57" y="815.89" width="7.84" height="7.56" fill="#edbec3"/>
<rect x="285.16" y="815.89" width="7.84" height="7.56" fill="#edc9cd"/>
<rect x="292.75" y="815.89" width="7.84" height="7.56" fill="#edc5c9"/>
<rect x="300.34" y="815.89" width="7.84" height="7.56" fill="#edc0c4"/>
<rect x="307.93" y="815.89" width="7.84" height="7.56" fill="#edbbbf"/>
<rect x="315.52" y="815.89" width="7.84" height="7.56" fill="#edc1c5"/>
<rect x="323.11" y="815.89" width="7.84" height="7.56" fill="#eedfe2"/>
<g fill="none" stroke="#ee666e" stroke-width="1.3" opacity="1.0">
<ellipse cx="292.5" cy="791.5" rx="9.9" ry="24.7"/>
<path d="M284.7,791.2 C274.6,795.7 256.5,794.2 255.5,781.1 C254.5,769.0 258.5,757.9 266.6,757.9 C275.6,757.9 281.7,767.0 284.7,775.0"/>
<path d="M286.7,800.3 C279.7,796.7 265.6,799.3 265.1,809.4 C264.6,819.4 274.6,823.0 281.7,820.5 C286.7,818.4 289.2,808.3 288.2,803.3"/>
<path d="M300.8,791.2 C310.9,795.7 329.0,794.2 330.0,781.1 C331.0,769.0 327.0,757.9 318.9,757.9 C309.9,757.9 303.8,767.0 300.8,775.0"/>
<path d="M298.8,800.3 C305.8,796.7 319.9,799.3 320.4,809.4 C320.9,819.4 310.9,823.0 303.8,820.5 C298.8,818.4 296.3,808.3 297.3,803.3"/>
<path d="M283.2,751.8 L292.8,768.0 L303.3,751.8"/>
</g>
<rect x="334.2" y="642.9" width="80" height="12" fill="#ffffff" stroke="#909090" stroke-width="1.0" />
<text x="374.2" y="652.0" font-size="8.8" fill="#111" text-anchor="middle" font-weight="bold" font-style="normal" stroke="#111" stroke-width="0.25" >50 s illumination</text>
<rect x="334.2" y="656.4" width="80" height="77.3" fill="#ffffff" stroke="#8e8e8e" stroke-width="1.1" />
<rect x="335.9" y="658.1" width="76.6" height="73.89999999999999" fill="#eedfe2" stroke="#a4a4a4" stroke-width="0.8" />
<rect x="336.50" y="658.70" width="7.79" height="7.52" fill="#eedfe2"/>
<rect x="344.04" y="658.70" width="7.79" height="7.52" fill="#eedfe2"/>
<rect x="351.58" y="658.70" width="7.79" height="7.52" fill="#edc4c8"/>
<rect x="359.12" y="658.70" width="7.79" height="7.52" fill="#ea6a72"/>
<rect x="366.66" y="658.70" width="7.79" height="7.52" fill="#edcdd1"/>
<rect x="374.20" y="658.70" width="7.79" height="7.52" fill="#eedee1"/>
<rect x="381.74" y="658.70" width="7.79" height="7.52" fill="#ea6169"/>
<rect x="389.28" y="658.70" width="7.79" height="7.52" fill="#eedfe2"/>
<rect x="396.82" y="658.70" width="7.79" height="7.52" fill="#eedfe2"/>
<rect x="404.36" y="658.70" width="7.79" height="7.52" fill="#eedfe2"/>
<rect x="336.50" y="665.97" width="7.79" height="7.52" fill="#e9525b"/>
<rect x="344.04" y="665.97" width="7.79" height="7.52" fill="#ea666e"/>
<rect x="351.58" y="665.97" width="7.79" height="7.52" fill="#ea7077"/>
<rect x="359.12" y="665.97" width="7.79" height="7.52" fill="#f7f1f2"/>
<rect x="366.66" y="665.97" width="7.79" height="7.52" fill="#eb7d84"/>
<rect x="374.20" y="665.97" width="7.79" height="7.52" fill="#ea6e76"/>
<rect x="381.74" y="665.97" width="7.79" height="7.52" fill="#f7f1f2"/>
<rect x="389.28" y="665.97" width="7.79" height="7.52" fill="#eb8187"/>
<rect x="396.82" y="665.97" width="7.79" height="7.52" fill="#ea6c73"/>
<rect x="404.36" y="665.97" width="7.79" height="7.52" fill="#e94c55"/>
<rect x="336.50" y="673.24" width="7.79" height="7.52" fill="#ea5e66"/>
<rect x="344.04" y="673.24" width="7.79" height="7.52" fill="#e94c55"/>
<rect x="351.58" y="673.24" width="7.79" height="7.52" fill="#e9525a"/>
<rect x="359.12" y="673.24" width="7.79" height="7.52" fill="#e94f58"/>
<rect x="366.66" y="673.24" width="7.79" height="7.52" fill="#e9515a"/>
<rect x="374.20" y="673.24" width="7.79" height="7.52" fill="#e9555d"/>
<rect x="381.74" y="673.24" width="7.79" height="7.52" fill="#e95861"/>
<rect x="389.28" y="673.24" width="7.79" height="7.52" fill="#ea676f"/>
<rect x="396.82" y="673.24" width="7.79" height="7.52" fill="#e9545c"/>
<rect x="404.36" y="673.24" width="7.79" height="7.52" fill="#ea5f67"/>
<rect x="336.50" y="680.51" width="7.79" height="7.52" fill="#ea666e"/>
<rect x="344.04" y="680.51" width="7.79" height="7.52" fill="#f7f1f2"/>
<rect x="351.58" y="680.51" width="7.79" height="7.52" fill="#f7f1f2"/>
<rect x="359.12" y="680.51" width="7.79" height="7.52" fill="#ea747c"/>
<rect x="366.66" y="680.51" width="7.79" height="7.52" fill="#e94750"/>
<rect x="374.20" y="680.51" width="7.79" height="7.52" fill="#e9444d"/>
<rect x="381.74" y="680.51" width="7.79" height="7.52" fill="#ea666e"/>
<rect x="389.28" y="680.51" width="7.79" height="7.52" fill="#f7f1f2"/>
<rect x="396.82" y="680.51" width="7.79" height="7.52" fill="#f7f1f2"/>
<rect x="404.36" y="680.51" width="7.79" height="7.52" fill="#ea6169"/>
<rect x="336.50" y="687.78" width="7.79" height="7.52" fill="#ea6a72"/>
<rect x="344.04" y="687.78" width="7.79" height="7.52" fill="#f7f1f2"/>
<rect x="351.58" y="687.78" width="7.79" height="7.52" fill="#f7f1f2"/>
<rect x="359.12" y="687.78" width="7.79" height="7.52" fill="#eb7d84"/>
<rect x="366.66" y="687.78" width="7.79" height="7.52" fill="#ea6068"/>
<rect x="374.20" y="687.78" width="7.79" height="7.52" fill="#e9464f"/>
<rect x="381.74" y="687.78" width="7.79" height="7.52" fill="#ea6b73"/>
<rect x="389.28" y="687.78" width="7.79" height="7.52" fill="#f7f1f2"/>
<rect x="396.82" y="687.78" width="7.79" height="7.52" fill="#f7f1f2"/>
<rect x="404.36" y="687.78" width="7.79" height="7.52" fill="#ea626a"/>
<rect x="336.50" y="695.05" width="7.79" height="7.52" fill="#edbbc0"/>
<rect x="344.04" y="695.05" width="7.79" height="7.52" fill="#ea6b73"/>
<rect x="351.58" y="695.05" width="7.79" height="7.52" fill="#ea626a"/>
<rect x="359.12" y="695.05" width="7.79" height="7.52" fill="#ea676e"/>
<rect x="366.66" y="695.05" width="7.79" height="7.52" fill="#e9464f"/>
<rect x="374.20" y="695.05" width="7.79" height="7.52" fill="#e9515a"/>
<rect x="381.74" y="695.05" width="7.79" height="7.52" fill="#e94d56"/>
<rect x="389.28" y="695.05" width="7.79" height="7.52" fill="#ea6971"/>
<rect x="396.82" y="695.05" width="7.79" height="7.52" fill="#e95b63"/>
<rect x="404.36" y="695.05" width="7.79" height="7.52" fill="#edccd0"/>
<rect x="336.50" y="702.32" width="7.79" height="7.52" fill="#eedfe2"/>
<rect x="344.04" y="702.32" width="7.79" height="7.52" fill="#edccd0"/>
<rect x="351.58" y="702.32" width="7.79" height="7.52" fill="#eca3a9"/>
<rect x="359.12" y="702.32" width="7.79" height="7.52" fill="#e95962"/>
<rect x="366.66" y="702.32" width="7.79" height="7.52" fill="#e83a43"/>
<rect x="374.20" y="702.32" width="7.79" height="7.52" fill="#e83943"/>
<rect x="381.74" y="702.32" width="7.79" height="7.52" fill="#e95861"/>
<rect x="389.28" y="702.32" width="7.79" height="7.52" fill="#ecacb1"/>
<rect x="396.82" y="702.32" width="7.79" height="7.52" fill="#edc6ca"/>
<rect x="404.36" y="702.32" width="7.79" height="7.52" fill="#eedfe2"/>
<rect x="336.50" y="709.59" width="7.79" height="7.52" fill="#eedfe2"/>
<rect x="344.04" y="709.59" width="7.79" height="7.52" fill="#eb858b"/>
<rect x="351.58" y="709.59" width="7.79" height="7.52" fill="#ea7179"/>
<rect x="359.12" y="709.59" width="7.79" height="7.52" fill="#eb848b"/>
<rect x="366.66" y="709.59" width="7.79" height="7.52" fill="#e9555e"/>
<rect x="374.20" y="709.59" width="7.79" height="7.52" fill="#e9444e"/>
<rect x="381.74" y="709.59" width="7.79" height="7.52" fill="#eb949a"/>
<rect x="389.28" y="709.59" width="7.79" height="7.52" fill="#ea6e75"/>
<rect x="396.82" y="709.59" width="7.79" height="7.52" fill="#ec979d"/>
<rect x="404.36" y="709.59" width="7.79" height="7.52" fill="#eedfe2"/>
<rect x="336.50" y="716.86" width="7.79" height="7.52" fill="#eedfe2"/>
<rect x="344.04" y="716.86" width="7.79" height="7.52" fill="#f7f1f2"/>
<rect x="351.58" y="716.86" width="7.79" height="7.52" fill="#f7f1f2"/>
<rect x="359.12" y="716.86" width="7.79" height="7.52" fill="#eb878e"/>
<rect x="366.66" y="716.86" width="7.79" height="7.52" fill="#e95962"/>
<rect x="374.20" y="716.86" width="7.79" height="7.52" fill="#e95058"/>
<rect x="381.74" y="716.86" width="7.79" height="7.52" fill="#eb888e"/>
<rect x="389.28" y="716.86" width="7.79" height="7.52" fill="#f7f1f2"/>
<rect x="396.82" y="716.86" width="7.79" height="7.52" fill="#f7f1f2"/>
<rect x="404.36" y="716.86" width="7.79" height="7.52" fill="#eedfe2"/>
<rect x="336.50" y="724.13" width="7.79" height="7.52" fill="#eedfe2"/>
<rect x="344.04" y="724.13" width="7.79" height="7.52" fill="#ecaaaf"/>
<rect x="351.58" y="724.13" width="7.79" height="7.52" fill="#eb8c93"/>
<rect x="359.12" y="724.13" width="7.79" height="7.52" fill="#eb9197"/>
<rect x="366.66" y="724.13" width="7.79" height="7.52" fill="#edb8bd"/>
<rect x="374.20" y="724.13" width="7.79" height="7.52" fill="#edbec2"/>
<rect x="381.74" y="724.13" width="7.79" height="7.52" fill="#ec9ea4"/>
<rect x="389.28" y="724.13" width="7.79" height="7.52" fill="#eb8b92"/>
<rect x="396.82" y="724.13" width="7.79" height="7.52" fill="#ec999f"/>
<rect x="404.36" y="724.13" width="7.79" height="7.52" fill="#eedfe2"/>
<g fill="none" stroke="#e8363c" stroke-width="1.6" opacity="1.0">
<ellipse cx="374.0" cy="699.9" rx="9.8" ry="24.6"/>
<path d="M366.2,699.6 C356.2,704.1 338.2,702.6 337.2,689.5 C336.2,677.5 340.2,666.4 348.2,666.4 C357.2,666.4 363.2,675.5 366.2,683.5"/>
<path d="M368.2,708.6 C361.2,705.1 347.2,707.6 346.7,717.6 C346.2,727.7 356.2,731.2 363.2,728.7 C368.2,726.7 370.7,716.6 369.7,711.6"/>
<path d="M382.2,699.6 C392.2,704.1 410.2,702.6 411.2,689.5 C412.2,677.5 408.2,666.4 400.2,666.4 C391.2,666.4 385.2,675.5 382.2,683.5"/>
<path d="M380.2,708.6 C387.2,705.1 401.2,707.6 401.7,717.6 C402.2,727.7 392.2,731.2 385.2,728.7 C380.2,726.7 377.7,716.6 378.7,711.6"/>
<path d="M364.7,660.4 L374.2,676.5 L384.7,660.4"/>
</g>
<rect x="334.2" y="735.3" width="80" height="11" fill="#ffffff" stroke="#909090" stroke-width="1.0" />
<text x="374.2" y="743.4" font-size="8.8" fill="#111" text-anchor="middle" font-weight="bold" font-style="normal" stroke="#111" stroke-width="0.25" >After 20 s</text>
<rect x="334.2" y="747.8" width="80" height="77.7" fill="#ffffff" stroke="#8e8e8e" stroke-width="1.1" />
<rect x="335.9" y="749.5" width="76.6" height="74.3" fill="#eedfe2" stroke="#a4a4a4" stroke-width="0.8" />
<rect x="336.50" y="750.10" width="7.79" height="7.56" fill="#eedfe2"/>
<rect x="344.04" y="750.10" width="7.79" height="7.56" fill="#eedfe2"/>
<rect x="351.58" y="750.10" width="7.79" height="7.56" fill="#eed6da"/>
<rect x="359.12" y="750.10" width="7.79" height="7.56" fill="#edbabe"/>
<rect x="366.66" y="750.10" width="7.79" height="7.56" fill="#eed9dd"/>
<rect x="374.20" y="750.10" width="7.79" height="7.56" fill="#eedfe2"/>
<rect x="381.74" y="750.10" width="7.79" height="7.56" fill="#edb7bb"/>
<rect x="389.28" y="750.10" width="7.79" height="7.56" fill="#eedfe2"/>
<rect x="396.82" y="750.10" width="7.79" height="7.56" fill="#eedfe2"/>
<rect x="404.36" y="750.10" width="7.79" height="7.56" fill="#eedfe2"/>
<rect x="336.50" y="757.41" width="7.79" height="7.56" fill="#ecb2b7"/>
<rect x="344.04" y="757.41" width="7.79" height="7.56" fill="#edb8bd"/>
<rect x="351.58" y="757.41" width="7.79" height="7.56" fill="#edbbc0"/>
<rect x="359.12" y="757.41" width="7.79" height="7.56" fill="#f2e8ea"/>
<rect x="366.66" y="757.41" width="7.79" height="7.56" fill="#edc0c4"/>
<rect x="374.20" y="757.41" width="7.79" height="7.56" fill="#edbbbf"/>
<rect x="381.74" y="757.41" width="7.79" height="7.56" fill="#f2e8ea"/>
<rect x="389.28" y="757.41" width="7.79" height="7.56" fill="#edc1c5"/>
<rect x="396.82" y="757.41" width="7.79" height="7.56" fill="#edbabf"/>
<rect x="404.36" y="757.41" width="7.79" height="7.56" fill="#ecb0b5"/>
<rect x="336.50" y="764.72" width="7.79" height="7.56" fill="#edb6ba"/>
<rect x="344.04" y="764.72" width="7.79" height="7.56" fill="#ecb0b5"/>
<rect x="351.58" y="764.72" width="7.79" height="7.56" fill="#ecb2b7"/>
<rect x="359.12" y="764.72" width="7.79" height="7.56" fill="#ecb1b6"/>
<rect x="366.66" y="764.72" width="7.79" height="7.56" fill="#ecb2b6"/>
<rect x="374.20" y="764.72" width="7.79" height="7.56" fill="#ecb3b8"/>
<rect x="381.74" y="764.72" width="7.79" height="7.56" fill="#edb4b9"/>
<rect x="389.28" y="764.72" width="7.79" height="7.56" fill="#edb9bd"/>
<rect x="396.82" y="764.72" width="7.79" height="7.56" fill="#ecb2b7"/>
<rect x="404.36" y="764.72" width="7.79" height="7.56" fill="#edb6bb"/>
<rect x="336.50" y="772.03" width="7.79" height="7.56" fill="#edb8bd"/>
<rect x="344.04" y="772.03" width="7.79" height="7.56" fill="#f2e8ea"/>
<rect x="351.58" y="772.03" width="7.79" height="7.56" fill="#f2e8ea"/>
<rect x="359.12" y="772.03" width="7.79" height="7.56" fill="#edbdc1"/>
<rect x="366.66" y="772.03" width="7.79" height="7.56" fill="#ecaeb3"/>
<rect x="374.20" y="772.03" width="7.79" height="7.56" fill="#ecadb2"/>
<rect x="381.74" y="772.03" width="7.79" height="7.56" fill="#edb8bd"/>
<rect x="389.28" y="772.03" width="7.79" height="7.56" fill="#f2e8ea"/>
<rect x="396.82" y="772.03" width="7.79" height="7.56" fill="#f2e8ea"/>
<rect x="404.36" y="772.03" width="7.79" height="7.56" fill="#edb7bb"/>
<rect x="336.50" y="779.34" width="7.79" height="7.56" fill="#edbabe"/>
<rect x="344.04" y="779.34" width="7.79" height="7.56" fill="#f2e8ea"/>
<rect x="351.58" y="779.34" width="7.79" height="7.56" fill="#f2e8ea"/>
<rect x="359.12" y="779.34" width="7.79" height="7.56" fill="#edc0c4"/>
<rect x="366.66" y="779.34" width="7.79" height="7.56" fill="#edb6bb"/>
<rect x="374.20" y="779.34" width="7.79" height="7.56" fill="#ecaeb3"/>
<rect x="381.74" y="779.34" width="7.79" height="7.56" fill="#edbabe"/>
<rect x="389.28" y="779.34" width="7.79" height="7.56" fill="#f2e8ea"/>
<rect x="396.82" y="779.34" width="7.79" height="7.56" fill="#f2e8ea"/>
<rect x="404.36" y="779.34" width="7.79" height="7.56" fill="#edb7bc"/>
<rect x="336.50" y="786.65" width="7.79" height="7.56" fill="#eed4d7"/>
<rect x="344.04" y="786.65" width="7.79" height="7.56" fill="#edbabf"/>
<rect x="351.58" y="786.65" width="7.79" height="7.56" fill="#edb7bc"/>
<rect x="359.12" y="786.65" width="7.79" height="7.56" fill="#edb8bd"/>
<rect x="366.66" y="786.65" width="7.79" height="7.56" fill="#ecaeb3"/>
<rect x="374.20" y="786.65" width="7.79" height="7.56" fill="#ecb2b6"/>
<rect x="381.74" y="786.65" width="7.79" height="7.56" fill="#ecb0b5"/>
<rect x="389.28" y="786.65" width="7.79" height="7.56" fill="#edb9be"/>
<rect x="396.82" y="786.65" width="7.79" height="7.56" fill="#edb5b9"/>
<rect x="404.36" y="786.65" width="7.79" height="7.56" fill="#eed9dc"/>
<rect x="336.50" y="793.96" width="7.79" height="7.56" fill="#eedfe2"/>
<rect x="344.04" y="793.96" width="7.79" height="7.56" fill="#eed9dc"/>
<rect x="351.58" y="793.96" width="7.79" height="7.56" fill="#edccd0"/>
<rect x="359.12" y="793.96" width="7.79" height="7.56" fill="#edb4b9"/>
<rect x="366.66" y="793.96" width="7.79" height="7.56" fill="#ecaaaf"/>
<rect x="374.20" y="793.96" width="7.79" height="7.56" fill="#ecaaaf"/>
<rect x="381.74" y="793.96" width="7.79" height="7.56" fill="#edb4b9"/>
<rect x="389.28" y="793.96" width="7.79" height="7.56" fill="#edcfd2"/>
<rect x="396.82" y="793.96" width="7.79" height="7.56" fill="#eed7da"/>
<rect x="404.36" y="793.96" width="7.79" height="7.56" fill="#eedfe2"/>
<rect x="336.50" y="801.27" width="7.79" height="7.56" fill="#eedfe2"/>
<rect x="344.04" y="801.27" width="7.79" height="7.56" fill="#edc2c6"/>
<rect x="351.58" y="801.27" width="7.79" height="7.56" fill="#edbcc0"/>
<rect x="359.12" y="801.27" width="7.79" height="7.56" fill="#edc2c6"/>
<rect x="366.66" y="801.27" width="7.79" height="7.56" fill="#ecb3b8"/>
<rect x="374.20" y="801.27" width="7.79" height="7.56" fill="#ecaeb3"/>
<rect x="381.74" y="801.27" width="7.79" height="7.56" fill="#edc7cb"/>
<rect x="389.28" y="801.27" width="7.79" height="7.56" fill="#edbbbf"/>
<rect x="396.82" y="801.27" width="7.79" height="7.56" fill="#edc8cc"/>
<rect x="404.36" y="801.27" width="7.79" height="7.56" fill="#eedfe2"/>
<rect x="336.50" y="808.58" width="7.79" height="7.56" fill="#eedfe2"/>
<rect x="344.04" y="808.58" width="7.79" height="7.56" fill="#f2e8ea"/>
<rect x="351.58" y="808.58" width="7.79" height="7.56" fill="#f2e8ea"/>
<rect x="359.12" y="808.58" width="7.79" height="7.56" fill="#edc3c7"/>
<rect x="366.66" y="808.58" width="7.79" height="7.56" fill="#edb4b9"/>
<rect x="374.20" y="808.58" width="7.79" height="7.56" fill="#ecb1b6"/>
<rect x="381.74" y="808.58" width="7.79" height="7.56" fill="#edc3c7"/>
<rect x="389.28" y="808.58" width="7.79" height="7.56" fill="#f2e8ea"/>
<rect x="396.82" y="808.58" width="7.79" height="7.56" fill="#f2e8ea"/>
<rect x="404.36" y="808.58" width="7.79" height="7.56" fill="#eedfe2"/>
<rect x="336.50" y="815.89" width="7.79" height="7.56" fill="#eedfe2"/>
<rect x="344.04" y="815.89" width="7.79" height="7.56" fill="#edced2"/>
<rect x="351.58" y="815.89" width="7.79" height="7.56" fill="#edc5c9"/>
<rect x="359.12" y="815.89" width="7.79" height="7.56" fill="#edc6ca"/>
<rect x="366.66" y="815.89" width="7.79" height="7.56" fill="#eed3d6"/>
<rect x="374.20" y="815.89" width="7.79" height="7.56" fill="#eed4d8"/>
<rect x="381.74" y="815.89" width="7.79" height="7.56" fill="#edcace"/>
<rect x="389.28" y="815.89" width="7.79" height="7.56" fill="#edc4c8"/>
<rect x="396.82" y="815.89" width="7.79" height="7.56" fill="#edc9cd"/>
<rect x="404.36" y="815.89" width="7.79" height="7.56" fill="#eedfe2"/>
<g fill="none" stroke="#f08c94" stroke-width="1.2" opacity="1.0">
<ellipse cx="374.0" cy="791.5" rx="9.8" ry="24.7"/>
<path d="M366.2,791.2 C356.2,795.7 338.2,794.2 337.2,781.1 C336.2,769.0 340.2,757.9 348.2,757.9 C357.2,757.9 363.2,767.0 366.2,775.0"/>
<path d="M368.2,800.3 C361.2,796.7 347.2,799.3 346.7,809.4 C346.2,819.4 356.2,823.0 363.2,820.5 C368.2,818.4 370.7,808.3 369.7,803.3"/>
<path d="M382.2,791.2 C392.2,795.7 410.2,794.2 411.2,781.1 C412.2,769.0 408.2,757.9 400.2,757.9 C391.2,757.9 385.2,767.0 382.2,775.0"/>
<path d="M380.2,800.3 C387.2,796.7 401.2,799.3 401.7,809.4 C402.2,819.4 392.2,823.0 385.2,820.5 C380.2,818.4 377.7,808.3 378.7,803.3"/>
<path d="M364.7,751.8 L374.2,768.0 L384.7,751.8"/>
</g>
<rect x="416" y="642.9" width="79.8" height="12" fill="#ffffff" stroke="#909090" stroke-width="1.0" />
<text x="455.9" y="652.0" font-size="8.8" fill="#111" text-anchor="middle" font-weight="bold" font-style="normal" stroke="#111" stroke-width="0.25" >100 s illumination</text>
<rect x="416" y="656.4" width="79.8" height="77.3" fill="#ffffff" stroke="#8e8e8e" stroke-width="1.1" />
<rect x="417.7" y="658.1" width="76.39999999999999" height="73.89999999999999" fill="#eedfe2" stroke="#a4a4a4" stroke-width="0.8" />
<rect x="418.30" y="658.70" width="7.77" height="7.52" fill="#eedfe2"/>
<rect x="425.82" y="658.70" width="7.77" height="7.52" fill="#eedfe2"/>
<rect x="433.34" y="658.70" width="7.77" height="7.52" fill="#eedee1"/>
<rect x="440.86" y="658.70" width="7.77" height="7.52" fill="#e94a53"/>
<rect x="448.38" y="658.70" width="7.77" height="7.52" fill="#eed2d6"/>
<rect x="455.90" y="658.70" width="7.77" height="7.52" fill="#edcdd1"/>
<rect x="463.42" y="658.70" width="7.77" height="7.52" fill="#e95159"/>
<rect x="470.94" y="658.70" width="7.77" height="7.52" fill="#eed1d5"/>
<rect x="478.46" y="658.70" width="7.77" height="7.52" fill="#eedfe2"/>
<rect x="485.98" y="658.70" width="7.77" height="7.52" fill="#eedfe2"/>
<rect x="418.30" y="665.97" width="7.77" height="7.52" fill="#e9535c"/>
<rect x="425.82" y="665.97" width="7.77" height="7.52" fill="#e83741"/>
<rect x="433.34" y="665.97" width="7.77" height="7.52" fill="#ea6b73"/>
<rect x="440.86" y="665.97" width="7.77" height="7.52" fill="#f7f1f2"/>
<rect x="448.38" y="665.97" width="7.77" height="7.52" fill="#e94c55"/>
<rect x="455.90" y="665.97" width="7.77" height="7.52" fill="#ea656d"/>
<rect x="463.42" y="665.97" width="7.77" height="7.52" fill="#f7f1f2"/>
<rect x="470.94" y="665.97" width="7.77" height="7.52" fill="#ea7179"/>
<rect x="478.46" y="665.97" width="7.77" height="7.52" fill="#e83c46"/>
<rect x="485.98" y="665.97" width="7.77" height="7.52" fill="#e83e48"/>
<rect x="418.30" y="673.24" width="7.77" height="7.52" fill="#e83d47"/>
<rect x="425.82" y="673.24" width="7.77" height="7.52" fill="#e94b54"/>
<rect x="433.34" y="673.24" width="7.77" height="7.52" fill="#e94b53"/>
<rect x="440.86" y="673.24" width="7.77" height="7.52" fill="#e94c55"/>
<rect x="448.38" y="673.24" width="7.77" height="7.52" fill="#e8303a"/>
<rect x="455.90" y="673.24" width="7.77" height="7.52" fill="#e83640"/>
<rect x="463.42" y="673.24" width="7.77" height="7.52" fill="#e95058"/>
<rect x="470.94" y="673.24" width="7.77" height="7.52" fill="#e8303a"/>
<rect x="478.46" y="673.24" width="7.77" height="7.52" fill="#e8303a"/>
<rect x="485.98" y="673.24" width="7.77" height="7.52" fill="#e94f57"/>
<rect x="418.30" y="680.51" width="7.77" height="7.52" fill="#ea636b"/>
<rect x="425.82" y="680.51" width="7.77" height="7.52" fill="#f7f1f2"/>
<rect x="433.34" y="680.51" width="7.77" height="7.52" fill="#f7f1f2"/>
<rect x="440.86" y="680.51" width="7.77" height="7.52" fill="#e9434c"/>
<rect x="448.38" y="680.51" width="7.77" height="7.52" fill="#e8303a"/>
<rect x="455.90" y="680.51" width="7.77" height="7.52" fill="#e8303a"/>
<rect x="463.42" y="680.51" width="7.77" height="7.52" fill="#ea646b"/>
<rect x="470.94" y="680.51" width="7.77" height="7.52" fill="#f7f1f2"/>
<rect x="478.46" y="680.51" width="7.77" height="7.52" fill="#f7f1f2"/>
<rect x="485.98" y="680.51" width="7.77" height="7.52" fill="#e83a44"/>
<rect x="418.30" y="687.78" width="7.77" height="7.52" fill="#e95961"/>
<rect x="425.82" y="687.78" width="7.77" height="7.52" fill="#f7f1f2"/>
<rect x="433.34" y="687.78" width="7.77" height="7.52" fill="#f7f1f2"/>
<rect x="440.86" y="687.78" width="7.77" height="7.52" fill="#e94a53"/>
<rect x="448.38" y="687.78" width="7.77" height="7.52" fill="#e9565f"/>
<rect x="455.90" y="687.78" width="7.77" height="7.52" fill="#e8303a"/>
<rect x="463.42" y="687.78" width="7.77" height="7.52" fill="#e94851"/>
<rect x="470.94" y="687.78" width="7.77" height="7.52" fill="#f7f1f2"/>
<rect x="478.46" y="687.78" width="7.77" height="7.52" fill="#f7f1f2"/>
<rect x="485.98" y="687.78" width="7.77" height="7.52" fill="#e94d56"/>
<rect x="418.30" y="695.05" width="7.77" height="7.52" fill="#edb9be"/>
<rect x="425.82" y="695.05" width="7.77" height="7.52" fill="#e94f58"/>
<rect x="433.34" y="695.05" width="7.77" height="7.52" fill="#ea626a"/>
<rect x="440.86" y="695.05" width="7.77" height="7.52" fill="#e9535b"/>
<rect x="448.38" y="695.05" width="7.77" height="7.52" fill="#e83841"/>
<rect x="455.90" y="695.05" width="7.77" height="7.52" fill="#e8323c"/>
<rect x="463.42" y="695.05" width="7.77" height="7.52" fill="#e8303a"/>
<rect x="470.94" y="695.05" width="7.77" height="7.52" fill="#e94952"/>
<rect x="478.46" y="695.05" width="7.77" height="7.52" fill="#e9414b"/>
<rect x="485.98" y="695.05" width="7.77" height="7.52" fill="#edc2c6"/>
<rect x="418.30" y="702.32" width="7.77" height="7.52" fill="#eedfe2"/>
<rect x="425.82" y="702.32" width="7.77" height="7.52" fill="#edb8bc"/>
<rect x="433.34" y="702.32" width="7.77" height="7.52" fill="#eb7e85"/>
<rect x="440.86" y="702.32" width="7.77" height="7.52" fill="#e8303a"/>
<rect x="448.38" y="702.32" width="7.77" height="7.52" fill="#e8303a"/>
<rect x="455.90" y="702.32" width="7.77" height="7.52" fill="#e83842"/>
<rect x="463.42" y="702.32" width="7.77" height="7.52" fill="#e94750"/>
<rect x="470.94" y="702.32" width="7.77" height="7.52" fill="#eca4a9"/>
<rect x="478.46" y="702.32" width="7.77" height="7.52" fill="#edc3c7"/>
<rect x="485.98" y="702.32" width="7.77" height="7.52" fill="#eedfe2"/>
<rect x="418.30" y="709.59" width="7.77" height="7.52" fill="#eedfe2"/>
<rect x="425.82" y="709.59" width="7.77" height="7.52" fill="#eb9096"/>
<rect x="433.34" y="709.59" width="7.77" height="7.52" fill="#ea6169"/>
<rect x="440.86" y="709.59" width="7.77" height="7.52" fill="#eb8188"/>
<rect x="448.38" y="709.59" width="7.77" height="7.52" fill="#e8303a"/>
<rect x="455.90" y="709.59" width="7.77" height="7.52" fill="#e8303a"/>
<rect x="463.42" y="709.59" width="7.77" height="7.52" fill="#ea7078"/>
<rect x="470.94" y="709.59" width="7.77" height="7.52" fill="#ea5c64"/>
<rect x="478.46" y="709.59" width="7.77" height="7.52" fill="#eb8086"/>
<rect x="485.98" y="709.59" width="7.77" height="7.52" fill="#eedfe2"/>
<rect x="418.30" y="716.86" width="7.77" height="7.52" fill="#eedfe2"/>
<rect x="425.82" y="716.86" width="7.77" height="7.52" fill="#f7f1f2"/>
<rect x="433.34" y="716.86" width="7.77" height="7.52" fill="#f7f1f2"/>
<rect x="440.86" y="716.86" width="7.77" height="7.52" fill="#eb7c83"/>
<rect x="448.38" y="716.86" width="7.77" height="7.52" fill="#e9525b"/>
<rect x="455.90" y="716.86" width="7.77" height="7.52" fill="#e94650"/>
<rect x="463.42" y="716.86" width="7.77" height="7.52" fill="#ea767d"/>
<rect x="470.94" y="716.86" width="7.77" height="7.52" fill="#f7f1f2"/>
<rect x="478.46" y="716.86" width="7.77" height="7.52" fill="#f7f1f2"/>
<rect x="485.98" y="716.86" width="7.77" height="7.52" fill="#eedfe2"/>
<rect x="418.30" y="724.13" width="7.77" height="7.52" fill="#eedfe2"/>
<rect x="425.82" y="724.13" width="7.77" height="7.52" fill="#eca1a6"/>
<rect x="433.34" y="724.13" width="7.77" height="7.52" fill="#ea777e"/>
<rect x="440.86" y="724.13" width="7.77" height="7.52" fill="#eb8288"/>
<rect x="448.38" y="724.13" width="7.77" height="7.52" fill="#ecaaaf"/>
<rect x="455.90" y="724.13" width="7.77" height="7.52" fill="#ecadb2"/>
<rect x="463.42" y="724.13" width="7.77" height="7.52" fill="#eb848a"/>
<rect x="470.94" y="724.13" width="7.77" height="7.52" fill="#eb8a91"/>
<rect x="478.46" y="724.13" width="7.77" height="7.52" fill="#eb8d93"/>
<rect x="485.98" y="724.13" width="7.77" height="7.52" fill="#eedfe2"/>
<g fill="none" stroke="#e62c32" stroke-width="1.7" opacity="1.0">
<ellipse cx="455.7" cy="699.9" rx="9.8" ry="24.6"/>
<path d="M447.9,699.6 C437.9,704.1 420.0,702.6 419.0,689.5 C418.0,677.5 422.0,666.4 430.0,666.4 C438.9,666.4 444.9,675.5 447.9,683.5"/>
<path d="M449.9,708.6 C442.9,705.1 429.0,707.6 428.5,717.6 C428.0,727.7 437.9,731.2 444.9,728.7 C449.9,726.7 452.4,716.6 451.4,711.6"/>
<path d="M463.9,699.6 C473.9,704.1 491.8,702.6 492.8,689.5 C493.8,677.5 489.8,666.4 481.8,666.4 C472.9,666.4 466.9,675.5 463.9,683.5"/>
<path d="M461.9,708.6 C468.9,705.1 482.8,707.6 483.3,717.6 C483.8,727.7 473.9,731.2 466.9,728.7 C461.9,726.7 459.4,716.6 460.4,711.6"/>
<path d="M446.4,660.4 L455.9,676.5 L466.4,660.4"/>
</g>
<rect x="416" y="735.3" width="79.8" height="11" fill="#ffffff" stroke="#909090" stroke-width="1.0" />
<text x="455.9" y="743.4" font-size="8.8" fill="#111" text-anchor="middle" font-weight="bold" font-style="normal" stroke="#111" stroke-width="0.25" >After 50 s</text>
<rect x="416" y="747.8" width="79.8" height="77.7" fill="#ffffff" stroke="#8e8e8e" stroke-width="1.1" />
<rect x="417.7" y="749.5" width="76.39999999999999" height="74.3" fill="#eedfe2" stroke="#a4a4a4" stroke-width="0.8" />
<rect x="418.30" y="750.10" width="7.77" height="7.56" fill="#eedfe2"/>
<rect x="425.82" y="750.10" width="7.77" height="7.56" fill="#eedfe2"/>
<rect x="433.34" y="750.10" width="7.77" height="7.56" fill="#eedfe2"/>
<rect x="440.86" y="750.10" width="7.77" height="7.56" fill="#edc9cd"/>
<rect x="448.38" y="750.10" width="7.77" height="7.56" fill="#eedde0"/>
<rect x="455.90" y="750.10" width="7.77" height="7.56" fill="#eedcdf"/>
<rect x="463.42" y="750.10" width="7.77" height="7.56" fill="#edcace"/>
<rect x="470.94" y="750.10" width="7.77" height="7.56" fill="#eedde0"/>
<rect x="478.46" y="750.10" width="7.77" height="7.56" fill="#eedfe2"/>
<rect x="485.98" y="750.10" width="7.77" height="7.56" fill="#eedfe2"/>
<rect x="418.30" y="757.41" width="7.77" height="7.56" fill="#edcace"/>
<rect x="425.82" y="757.41" width="7.77" height="7.56" fill="#edc6ca"/>
<rect x="433.34" y="757.41" width="7.77" height="7.56" fill="#edced2"/>
<rect x="440.86" y="757.41" width="7.77" height="7.56" fill="#f0e4e6"/>
<rect x="448.38" y="757.41" width="7.77" height="7.56" fill="#edc9cd"/>
<rect x="455.90" y="757.41" width="7.77" height="7.56" fill="#edcdd1"/>
<rect x="463.42" y="757.41" width="7.77" height="7.56" fill="#f0e4e6"/>
<rect x="470.94" y="757.41" width="7.77" height="7.56" fill="#edcfd3"/>
<rect x="478.46" y="757.41" width="7.77" height="7.56" fill="#edc7cb"/>
<rect x="485.98" y="757.41" width="7.77" height="7.56" fill="#edc7cb"/>
<rect x="418.30" y="764.72" width="7.77" height="7.56" fill="#edc7cb"/>
<rect x="425.82" y="764.72" width="7.77" height="7.56" fill="#edc9cd"/>
<rect x="433.34" y="764.72" width="7.77" height="7.56" fill="#edc9cd"/>
<rect x="440.86" y="764.72" width="7.77" height="7.56" fill="#edc9cd"/>
<rect x="448.38" y="764.72" width="7.77" height="7.56" fill="#edc5c9"/>
<rect x="455.90" y="764.72" width="7.77" height="7.56" fill="#edc6ca"/>
<rect x="463.42" y="764.72" width="7.77" height="7.56" fill="#edcace"/>
<rect x="470.94" y="764.72" width="7.77" height="7.56" fill="#edc5c9"/>
<rect x="478.46" y="764.72" width="7.77" height="7.56" fill="#edc5c9"/>
<rect x="485.98" y="764.72" width="7.77" height="7.56" fill="#edcace"/>
<rect x="418.30" y="772.03" width="7.77" height="7.56" fill="#edcdd0"/>
<rect x="425.82" y="772.03" width="7.77" height="7.56" fill="#f0e4e6"/>
<rect x="433.34" y="772.03" width="7.77" height="7.56" fill="#f0e4e6"/>
<rect x="440.86" y="772.03" width="7.77" height="7.56" fill="#edc8cc"/>
<rect x="448.38" y="772.03" width="7.77" height="7.56" fill="#edc5c9"/>
<rect x="455.90" y="772.03" width="7.77" height="7.56" fill="#edc4c8"/>
<rect x="463.42" y="772.03" width="7.77" height="7.56" fill="#edcdd1"/>
<rect x="470.94" y="772.03" width="7.77" height="7.56" fill="#f0e4e6"/>
<rect x="478.46" y="772.03" width="7.77" height="7.56" fill="#f0e4e6"/>
<rect x="485.98" y="772.03" width="7.77" height="7.56" fill="#edc7cb"/>
<rect x="418.30" y="779.34" width="7.77" height="7.56" fill="#edcbcf"/>
<rect x="425.82" y="779.34" width="7.77" height="7.56" fill="#f0e4e6"/>
<rect x="433.34" y="779.34" width="7.77" height="7.56" fill="#f0e4e6"/>
<rect x="440.86" y="779.34" width="7.77" height="7.56" fill="#edc9cd"/>
<rect x="448.38" y="779.34" width="7.77" height="7.56" fill="#edcbcf"/>
<rect x="455.90" y="779.34" width="7.77" height="7.56" fill="#edc4c8"/>
<rect x="463.42" y="779.34" width="7.77" height="7.56" fill="#edc9cd"/>
<rect x="470.94" y="779.34" width="7.77" height="7.56" fill="#f0e4e6"/>
<rect x="478.46" y="779.34" width="7.77" height="7.56" fill="#f0e4e6"/>
<rect x="485.98" y="779.34" width="7.77" height="7.56" fill="#edcacd"/>
<rect x="418.30" y="786.65" width="7.77" height="7.56" fill="#eed9dd"/>
<rect x="425.82" y="786.65" width="7.77" height="7.56" fill="#edcace"/>
<rect x="433.34" y="786.65" width="7.77" height="7.56" fill="#edcdd0"/>
<rect x="440.86" y="786.65" width="7.77" height="7.56" fill="#edcace"/>
<rect x="448.38" y="786.65" width="7.77" height="7.56" fill="#edc6ca"/>
<rect x="455.90" y="786.65" width="7.77" height="7.56" fill="#edc6ca"/>
<rect x="463.42" y="786.65" width="7.77" height="7.56" fill="#edc5c9"/>
<rect x="470.94" y="786.65" width="7.77" height="7.56" fill="#edc9cd"/>
<rect x="478.46" y="786.65" width="7.77" height="7.56" fill="#edc8cc"/>
<rect x="485.98" y="786.65" width="7.77" height="7.56" fill="#eedbde"/>
<rect x="418.30" y="793.96" width="7.77" height="7.56" fill="#eedfe2"/>
<rect x="425.82" y="793.96" width="7.77" height="7.56" fill="#eed9dc"/>
<rect x="433.34" y="793.96" width="7.77" height="7.56" fill="#eed1d4"/>
<rect x="440.86" y="793.96" width="7.77" height="7.56" fill="#edc5c9"/>
<rect x="448.38" y="793.96" width="7.77" height="7.56" fill="#edc2c6"/>
<rect x="455.90" y="793.96" width="7.77" height="7.56" fill="#edc7cb"/>
<rect x="463.42" y="793.96" width="7.77" height="7.56" fill="#edc9cd"/>
<rect x="470.94" y="793.96" width="7.77" height="7.56" fill="#eed6da"/>
<rect x="478.46" y="793.96" width="7.77" height="7.56" fill="#eedbde"/>
<rect x="485.98" y="793.96" width="7.77" height="7.56" fill="#eedfe2"/>
<rect x="418.30" y="801.27" width="7.77" height="7.56" fill="#eedfe2"/>
<rect x="425.82" y="801.27" width="7.77" height="7.56" fill="#eed3d7"/>
<rect x="433.34" y="801.27" width="7.77" height="7.56" fill="#edcdd0"/>
<rect x="440.86" y="801.27" width="7.77" height="7.56" fill="#eed1d5"/>
<rect x="448.38" y="801.27" width="7.77" height="7.56" fill="#edc2c6"/>
<rect x="455.90" y="801.27" width="7.77" height="7.56" fill="#edc5c9"/>
<rect x="463.42" y="801.27" width="7.77" height="7.56" fill="#edcfd2"/>
<rect x="470.94" y="801.27" width="7.77" height="7.56" fill="#edccd0"/>
<rect x="478.46" y="801.27" width="7.77" height="7.56" fill="#eed1d5"/>
<rect x="485.98" y="801.27" width="7.77" height="7.56" fill="#eedfe2"/>
<rect x="418.30" y="808.58" width="7.77" height="7.56" fill="#eedfe2"/>
<rect x="425.82" y="808.58" width="7.77" height="7.56" fill="#f0e4e6"/>
<rect x="433.34" y="808.58" width="7.77" height="7.56" fill="#f0e4e6"/>
<rect x="440.86" y="808.58" width="7.77" height="7.56" fill="#eed1d4"/>
<rect x="448.38" y="808.58" width="7.77" height="7.56" fill="#edcace"/>
<rect x="455.90" y="808.58" width="7.77" height="7.56" fill="#edc9cd"/>
<rect x="463.42" y="808.58" width="7.77" height="7.56" fill="#edd0d3"/>
<rect x="470.94" y="808.58" width="7.77" height="7.56" fill="#f0e4e6"/>
<rect x="478.46" y="808.58" width="7.77" height="7.56" fill="#f0e4e6"/>
<rect x="485.98" y="808.58" width="7.77" height="7.56" fill="#eedfe2"/>
<rect x="418.30" y="815.89" width="7.77" height="7.56" fill="#eedfe2"/>
<rect x="425.82" y="815.89" width="7.77" height="7.56" fill="#eed6d9"/>
<rect x="433.34" y="815.89" width="7.77" height="7.56" fill="#edd0d3"/>
<rect x="440.86" y="815.89" width="7.77" height="7.56" fill="#eed1d5"/>
<rect x="448.38" y="815.89" width="7.77" height="7.56" fill="#eed7db"/>
<rect x="455.90" y="815.89" width="7.77" height="7.56" fill="#eed8db"/>
<rect x="463.42" y="815.89" width="7.77" height="7.56" fill="#eed2d5"/>
<rect x="470.94" y="815.89" width="7.77" height="7.56" fill="#eed3d6"/>
<rect x="478.46" y="815.89" width="7.77" height="7.56" fill="#eed3d6"/>
<rect x="485.98" y="815.89" width="7.77" height="7.56" fill="#eedfe2"/>
<g fill="none" stroke="#f2aeb4" stroke-width="1.1" opacity="1.0">
<ellipse cx="455.7" cy="791.5" rx="9.8" ry="24.7"/>
<path d="M447.9,791.2 C437.9,795.7 420.0,794.2 419.0,781.1 C418.0,769.0 422.0,757.9 430.0,757.9 C438.9,757.9 444.9,767.0 447.9,775.0"/>
<path d="M449.9,800.3 C442.9,796.7 429.0,799.3 428.5,809.4 C428.0,819.4 437.9,823.0 444.9,820.5 C449.9,818.4 452.4,808.3 451.4,803.3"/>
<path d="M463.9,791.2 C473.9,795.7 491.8,794.2 492.8,781.1 C493.8,769.0 489.8,757.9 481.8,757.9 C472.9,757.9 466.9,767.0 463.9,775.0"/>
<path d="M461.9,800.3 C468.9,796.7 482.8,799.3 483.3,809.4 C483.8,819.4 473.9,823.0 466.9,820.5 C461.9,818.4 459.4,808.3 460.4,803.3"/>
<path d="M446.4,751.8 L455.9,768.0 L466.4,751.8"/>
</g>
<rect x="170" y="735.3" width="81.5" height="11" fill="#ffffff" stroke="#909090" stroke-width="1.0" />
<text x="210.75" y="743.4" font-size="8.8" fill="#111" text-anchor="middle" font-weight="bold" font-style="normal" stroke="#111" stroke-width="0.25" >Dark</text>
<rect x="170.6" y="747.8" width="82.2" height="77.7" fill="#ffffff" stroke="#8e8e8e" stroke-width="1.1" />
<rect x="172.3" y="749.5" width="78.8" height="74.3" fill="#ebe2e4" stroke="#a0a0a0" stroke-width="0.8" />
<defs><linearGradient id="cbar" x1="0" y1="0" x2="0" y2="1"><stop offset="0" stop-color="#e82432"/><stop offset="0.4" stop-color="#f06470"/><stop offset="0.8" stop-color="#f8ccd2"/><stop offset="1" stop-color="#fbf4f6"/></linearGradient></defs>
<rect x="501.3" y="694.2" width="4.5" height="89.8" fill="#fff" stroke="#888" stroke-width="0.6" />
<rect x="501.6" y="701.4" width="3.9" height="82.3" fill="url(#cbar)" stroke="none" stroke-width="1" />
<text x="507" y="704.8" font-size="8.4" fill="#151515" text-anchor="start" font-weight="bold" font-style="normal" textLength="12.5" lengthAdjust="spacingAndGlyphs" stroke="#151515" stroke-width="0.25" >1.0</text>
<line x1="505.1" y1="701.8" x2="506.2" y2="701.8" stroke="#555" stroke-width="0.5" />
<text x="507" y="719.8" font-size="8.4" fill="#151515" text-anchor="start" font-weight="bold" font-style="normal" textLength="12.5" lengthAdjust="spacingAndGlyphs" stroke="#151515" stroke-width="0.25" >0.8</text>
<line x1="505.1" y1="716.8" x2="506.2" y2="716.8" stroke="#555" stroke-width="0.5" />
<text x="507" y="734.8" font-size="8.4" fill="#151515" text-anchor="start" font-weight="bold" font-style="normal" textLength="12.5" lengthAdjust="spacingAndGlyphs" stroke="#151515" stroke-width="0.25" >0.6</text>
<line x1="505.1" y1="731.8" x2="506.2" y2="731.8" stroke="#555" stroke-width="0.5" />
<text x="507" y="749.8" font-size="8.4" fill="#151515" text-anchor="start" font-weight="bold" font-style="normal" textLength="12.5" lengthAdjust="spacingAndGlyphs" stroke="#151515" stroke-width="0.25" >0.4</text>
<line x1="505.1" y1="746.8" x2="506.2" y2="746.8" stroke="#555" stroke-width="0.5" />
<text x="507" y="764.8" font-size="8.4" fill="#151515" text-anchor="start" font-weight="bold" font-style="normal" textLength="12.5" lengthAdjust="spacingAndGlyphs" stroke="#151515" stroke-width="0.25" >0.2</text>
<line x1="505.1" y1="761.8" x2="506.2" y2="761.8" stroke="#555" stroke-width="0.5" />
<text x="507" y="779.8" font-size="8.4" fill="#151515" text-anchor="start" font-weight="bold" font-style="normal" textLength="12.5" lengthAdjust="spacingAndGlyphs" stroke="#151515" stroke-width="0.25" >0.0</text>
<line x1="505.1" y1="776.8" x2="506.2" y2="776.8" stroke="#555" stroke-width="0.5" />
<text x="0" y="0" font-size="8.4" fill="#151515" text-anchor="middle" font-weight="bold" font-style="normal" textLength="78.4" lengthAdjust="spacingAndGlyphs" stroke="#151515" stroke-width="0.25" transform="translate(525.8,738.8) rotate(-90)">Normalized signals</text>
<line x1="528.6" y1="638" x2="528.6" y2="826" stroke="#a8a8a8" stroke-width="0.7" />
</svg></body></html>
